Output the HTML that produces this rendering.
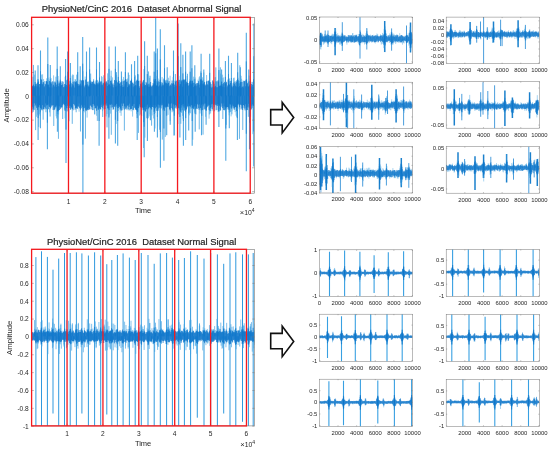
<!DOCTYPE html>
<html><head><meta charset="utf-8"><style>
html,body{margin:0;padding:0;background:#fff;}
svg{display:block;font-family:"Liberation Sans",Arial,sans-serif;}
</style></head><body>
<svg width="550" height="453" viewBox="0 0 550 453">
<rect width="550" height="453" fill="#fff"/>
<clipPath id="bigA"><rect x="31.60" y="17.30" width="222.70" height="175.90"/></clipPath><g clip-path="url(#bigA)">
<path d="M33.21 95.60V111.94M35.64 95.60V130.12M38.69 95.60V126.94M43.13 95.60V119.70M45.93 95.60V112.27M50.12 95.60V116.54M53.76 95.60V125.98M58.45 95.60V138.82M62.68 95.60V119.03M65.17 95.60V109.51M68.98 95.60V121.24M72.25 95.60V123.84M76.17 95.60V112.25M80.47 95.60V131.53M85.45 95.60V138.68M87.95 95.60V109.58M92.56 95.60V110.08M94.76 95.60V114.41M97.34 95.60V120.86M100.75 95.60V109.81M102.71 95.60V117.01M107.04 95.60V127.38M111.30 95.60V134.82M115.98 95.60V123.94M118.27 95.60V110.94M121.04 95.60V110.96M124.36 95.60V130.59M129.06 95.60V110.54M132.41 95.60V109.98M135.96 95.60V109.75M138.44 95.60V132.90M141.70 95.60V116.05M144.84 95.60V137.65M148.19 95.60V118.23M151.59 95.60V125.70M154.92 95.60V128.45M157.59 95.60V126.53M159.67 95.60V129.76M162.30 95.60V139.67M165.26 95.60V136.88M170.16 95.60V121.20M173.98 95.60V135.66M177.85 95.60V124.05M180.81 95.60V123.79M185.56 95.60V118.11M189.08 95.60V115.34M192.72 95.60V139.71M195.38 95.60V111.41M199.24 95.60V129.40M203.05 95.60V134.66M206.40 95.60V110.47M209.38 95.60V114.43M214.45 95.60V111.33M218.24 95.60V112.04M222.83 95.60V119.00M226.23 95.60V124.84M230.64 95.60V111.94M231.90 95.60V114.35M236.89 95.60V117.39M239.45 95.60V138.89M242.78 95.60V129.98M248.31 95.60V116.84M250.46 95.60V110.70M252.98 95.60V134.18M33.44 64.95V95.60M38.17 79.75V95.60M46.89 78.31V95.60M55.94 76.71V95.60M65.21 76.76V95.60M68.59 80.13V95.60M75.23 79.06V95.60M82.84 71.19V95.60M90.65 73.59V95.60M97.91 80.79V95.60M104.71 81.45V95.60M111.13 70.63V95.60M116.50 72.14V95.60M123.73 81.12V95.60M127.71 78.56V95.60M134.91 75.18V95.60M144.03 69.04V95.60M148.57 71.42V95.60M156.46 81.28V95.60M166.01 80.79V95.60M175.38 74.00V95.60M183.73 78.92V95.60M187.51 73.77V95.60M192.31 81.16V95.60M200.86 71.27V95.60M203.76 72.46V95.60M209.18 80.17V95.60M215.84 67.37V95.60M220.37 67.33V95.60M229.31 78.45V95.60M233.73 78.09V95.60M239.77 65.28V95.60M250.35 79.49V95.60M254.33 81.34V95.60" stroke="#5aaee3" stroke-width="0.9" fill="none"/>
<path d="M33.10 76.70V96.29M35.20 70.40V96.29M38.00 65.20V96.29M40.50 50.60V96.29M47.80 37.60V96.29M50.30 65.00V96.29M57.20 46.40V96.29M60.30 66.30V96.29M65.60 58.90V96.29M67.70 51.60V96.29M70.40 63.00V96.29M77.70 52.20V96.29M80.20 66.30V96.29M82.70 37.00V96.29M86.50 51.60V96.29M89.60 47.40V96.29M96.50 47.40V96.29M99.50 62.00V96.29M109.00 46.40V96.29M115.40 46.40V96.29M118.30 61.00V96.29M121.40 71.50V96.29M125.40 52.20V96.29M128.30 72.50V96.29M131.50 64.20V96.29M134.60 61.00V96.29M137.70 55.80V96.29M144.60 41.20V96.29M147.30 55.80V96.29M150.00 75.70V96.29M154.20 51.60V96.29M155.70 18.10V96.29M157.40 48.50V96.29M160.30 29.20V96.29M164.50 45.30V96.29M167.20 67.30V96.29M173.50 50.60V96.29M178.10 23.40V96.29M180.80 43.20V96.29M182.90 54.70V96.29M185.60 51.60V96.29M190.20 51.60V96.29M191.90 45.30V96.29M194.80 65.20V96.29M201.10 53.70V96.29M203.80 69.40V96.29M209.70 53.70V96.29M218.90 48.50V96.29M221.60 69.40V96.29M225.40 61.00V96.29M228.50 55.80V96.29M231.40 63.10V96.29M237.70 52.70V96.29M240.40 67.30V96.29M246.30 32.80V96.29M248.80 69.40V96.29M253.90 23.40V96.29M38.10 96.29V139.90M40.40 96.29V128.30M47.40 96.29V149.20M57.40 96.29V131.80M66.00 96.29V163.00M82.90 96.29V193.00M99.10 96.29V145.70M108.90 96.29V138.70M115.40 96.29V143.40M117.70 96.29V145.70M137.20 96.29V139.90M143.70 96.29V148.00M144.20 96.29V157.30M147.40 96.29V141.00M150.40 96.29V120.20M154.40 96.29V131.80M157.40 96.29V137.60M160.40 96.29V167.70M163.90 96.29V160.80M166.70 96.29V135.20M170.20 96.29V124.80M174.30 96.29V135.20M179.90 96.29V137.60M183.40 96.29V145.70M185.70 96.29V139.90M188.70 96.29V130.60M192.20 96.29V145.70M195.20 96.29V131.80M201.50 96.29V135.20M206.10 96.29V124.80M218.90 96.29V127.10M225.80 96.29V160.80M229.30 96.29V128.30M237.40 96.29V139.90M246.30 96.29V171.20M249.50 96.29V149.20M253.70 96.29V166.60" stroke="#4fa8e2" stroke-width="1.1" fill="none"/>
<path d="M33.10 85.51V96.29M35.20 82.05V96.29M38.00 79.19V96.29M40.50 71.16V96.29M47.80 64.01V96.29M50.30 79.08V96.29M57.20 68.85V96.29M60.30 79.79V96.29M65.60 75.72V96.29M67.70 71.71V96.29M70.40 77.98V96.29M77.70 72.04V96.29M80.20 79.79V96.29M82.70 63.68V96.29M86.50 71.71V96.29M89.60 69.40V96.29M96.50 69.40V96.29M99.50 77.43V96.29M109.00 68.85V96.29M115.40 68.85V96.29M118.30 76.88V96.29M121.40 82.65V96.29M125.40 72.04V96.29M128.30 83.20V96.29M131.50 78.64V96.29M134.60 76.88V96.29M137.70 74.02V96.29M144.60 65.99V96.29M147.30 74.02V96.29M150.00 84.96V96.29M154.20 71.71V96.29M155.70 53.28V96.29M157.40 70.00V96.29M160.30 59.39V96.29M164.50 68.24V96.29M167.20 80.34V96.29M173.50 71.16V96.29M178.10 56.20V96.29M180.80 67.09V96.29M182.90 73.41V96.29M185.60 71.71V96.29M190.20 71.71V96.29M191.90 68.24V96.29M194.80 79.19V96.29M201.10 72.86V96.29M203.80 81.50V96.29M209.70 72.86V96.29M218.90 70.00V96.29M221.60 81.50V96.29M225.40 76.88V96.29M228.50 74.02V96.29M231.40 78.03V96.29M237.70 72.31V96.29M240.40 80.34V96.29M246.30 61.37V96.29M248.80 81.50V96.29M253.90 56.20V96.29M38.10 96.29V118.09M40.40 96.29V112.29M47.40 96.29V122.74M57.40 96.29V114.04M66.00 96.29V129.64M82.90 96.29V144.64M99.10 96.29V120.99M108.90 96.29V117.49M115.40 96.29V119.84M117.70 96.29V120.99M137.20 96.29V118.09M143.70 96.29V122.14M144.20 96.29V126.79M147.40 96.29V118.64M150.40 96.29V108.24M154.40 96.29V114.04M157.40 96.29V116.94M160.40 96.29V131.99M163.90 96.29V128.54M166.70 96.29V115.74M170.20 96.29V110.54M174.30 96.29V115.74M179.90 96.29V116.94M183.40 96.29V120.99M185.70 96.29V118.09M188.70 96.29V113.44M192.20 96.29V120.99M195.20 96.29V114.04M201.50 96.29V115.74M206.10 96.29V110.54M218.90 96.29V111.69M225.80 96.29V128.54M229.30 96.29V112.29M237.40 96.29V118.09M246.30 96.29V133.74M249.50 96.29V122.74M253.70 96.29V131.44" stroke="#2a8fd8" stroke-width="1.0" fill="none"/>
<path d="M32.60 95.60V112.63M33.60 95.60V110.58M34.60 95.60V74.58M35.10 95.60V81.99M35.60 95.60V82.01M36.60 95.60V116.78M37.60 95.60V114.70M39.60 95.60V114.36M40.10 95.60V115.85M40.60 95.60V109.41M41.10 95.60V109.64M41.60 95.60V74.53M42.60 95.60V74.34M43.60 95.60V79.08M44.60 95.60V80.99M45.60 95.60V108.59M47.10 95.60V108.90M48.10 95.60V77.78M48.60 95.60V80.24M49.10 95.60V81.64M49.60 95.60V112.34M50.10 95.60V77.34M50.60 95.60V108.85M51.10 95.60V78.15M53.60 95.60V75.37M55.10 95.60V81.07M55.60 95.60V108.53M56.10 95.60V116.27M56.60 95.60V118.48M57.60 95.60V117.24M58.10 95.60V76.06M58.60 95.60V114.50M59.10 95.60V109.41M60.10 95.60V82.88M61.60 95.60V82.73M64.60 95.60V109.79M65.10 95.60V118.36M65.60 95.60V109.72M66.60 95.60V80.48M68.60 95.60V80.44M70.10 95.60V81.23M70.60 95.60V109.65M71.10 95.60V82.92M71.60 95.60V108.10M72.10 95.60V75.58M72.60 95.60V74.44M73.60 95.60V74.84M75.60 95.60V80.33M76.10 95.60V108.37M76.60 95.60V74.65M77.10 95.60V108.99M77.60 95.60V79.34M79.10 95.60V111.65M80.10 95.60V81.97M81.10 95.60V108.39M84.10 95.60V112.35M85.10 95.60V76.55M87.10 95.60V117.59M87.60 95.60V81.62M88.60 95.60V81.80M89.10 95.60V80.98M90.10 95.60V77.81M92.10 95.60V81.56M93.60 95.60V78.96M94.10 95.60V82.95M94.60 95.60V114.24M95.10 95.60V81.62M96.60 95.60V115.74M97.60 95.60V79.91M99.60 95.60V112.39M101.60 95.60V75.96M102.10 95.60V77.04M102.60 95.60V111.16M103.60 95.60V75.28M104.10 95.60V109.92M105.10 95.60V78.57M106.10 95.60V116.40M107.10 95.60V113.98M107.60 95.60V73.35M108.60 95.60V109.61M109.10 95.60V115.40M109.60 95.60V78.44M110.60 95.60V113.63M111.10 95.60V75.89M111.60 95.60V79.75M112.60 95.60V77.39M116.10 95.60V111.92M116.60 95.60V74.91M117.10 95.60V108.18M118.60 95.60V108.05M119.60 95.60V81.02M120.10 95.60V112.75M121.10 95.60V115.81M121.60 95.60V76.21M122.10 95.60V79.39M123.10 95.60V108.16M123.60 95.60V76.96M124.60 95.60V109.97M125.60 95.60V76.21M127.10 95.60V110.20M128.60 95.60V109.58M129.10 95.60V74.91M131.10 95.60V111.32M132.60 95.60V116.61M133.60 95.60V110.28M134.10 95.60V81.69M134.60 95.60V82.75M135.10 95.60V75.59M136.60 95.60V113.83M137.60 95.60V110.23M138.10 95.60V111.62M138.60 95.60V74.41M139.60 95.60V115.53M140.60 95.60V114.56M141.10 95.60V109.41M142.60 95.60V110.20M143.60 95.60V111.66M144.10 95.60V79.85M144.60 95.60V81.41M145.60 95.60V112.16M146.60 95.60V118.13M147.60 95.60V112.46M149.10 95.60V116.41M149.60 95.60V77.89M150.10 95.60V114.25M150.60 95.60V110.10M151.60 95.60V110.07M152.10 95.60V115.42M153.60 95.60V118.51M154.10 95.60V77.43M154.60 95.60V110.52M155.10 95.60V113.03M156.10 95.60V75.89M156.60 95.60V110.70M157.60 95.60V114.94M158.10 95.60V78.52M158.60 95.60V108.76M160.10 95.60V81.55M160.60 95.60V114.72M161.10 95.60V82.00M162.10 95.60V77.05M162.60 95.60V82.82M163.60 95.60V78.49M166.60 95.60V79.61M167.10 95.60V81.80M167.60 95.60V82.64M168.10 95.60V114.87M168.60 95.60V77.76M170.10 95.60V75.75M172.10 95.60V112.27M173.10 95.60V76.98M174.10 95.60V109.46M176.10 95.60V108.49M177.60 95.60V79.50M178.60 95.60V114.42M179.10 95.60V110.55M180.10 95.60V75.95M181.10 95.60V112.59M181.60 95.60V112.64M182.10 95.60V79.76M182.60 95.60V115.80M183.10 95.60V118.77M183.60 95.60V113.75M184.10 95.60V108.52M185.60 95.60V113.89M187.10 95.60V76.05M189.10 95.60V112.92M189.60 95.60V111.87M190.10 95.60V79.02M190.60 95.60V113.29M191.60 95.60V79.57M192.10 95.60V80.29M192.60 95.60V111.60M193.10 95.60V109.33M193.60 95.60V76.68M194.10 95.60V79.31M194.60 95.60V112.74M195.10 95.60V77.45M196.10 95.60V114.45M196.60 95.60V108.05M198.10 95.60V79.62M199.10 95.60V77.37M199.60 95.60V76.25M200.10 95.60V113.50M201.10 95.60V79.97M202.10 95.60V115.75M202.60 95.60V77.28M203.60 95.60V79.48M205.10 95.60V108.43M205.60 95.60V116.75M206.60 95.60V75.02M209.10 95.60V118.65M210.10 95.60V111.30M210.60 95.60V113.56M211.60 95.60V108.89M212.10 95.60V111.17M215.10 95.60V77.26M215.60 95.60V77.12M217.10 95.60V110.06M218.60 95.60V71.93M219.60 95.60V109.01M220.60 95.60V73.61M221.10 95.60V76.80M221.60 95.60V82.07M222.10 95.60V78.09M222.60 95.60V74.66M223.10 95.60V108.22M223.60 95.60V77.47M225.10 95.60V110.88M225.60 95.60V110.82M226.60 95.60V109.55M229.10 95.60V115.28M229.60 95.60V112.86M230.10 95.60V108.60M231.10 95.60V116.38M231.60 95.60V78.95M232.10 95.60V110.73M233.60 95.60V108.45M234.10 95.60V77.51M234.60 95.60V109.94M235.10 95.60V112.12M235.60 95.60V82.94M236.10 95.60V115.66M236.60 95.60V80.06M237.10 95.60V109.41M237.60 95.60V109.48M238.10 95.60V77.76M238.60 95.60V81.24M239.10 95.60V109.26M239.60 95.60V81.11M240.60 95.60V75.02M241.10 95.60V75.96M241.60 95.60V78.79M242.10 95.60V108.74M243.10 95.60V80.42M243.60 95.60V81.05M244.60 95.60V109.24M246.60 95.60V78.53M247.10 95.60V81.59M249.10 95.60V75.67M250.60 95.60V116.68M253.60 95.60V73.74" stroke="#3ea2e0" stroke-width="0.6" fill="none"/>
<path d="M32.10 86.79V109.29M32.60 85.90V106.77M33.10 87.09V103.42M33.60 84.59V108.68M34.10 86.10V109.99M34.60 87.55V103.40M35.10 86.19V106.24M35.60 84.13V104.89M36.10 85.65V103.37M36.60 83.68V107.82M37.10 86.89V105.60M37.60 82.55V109.93M38.10 85.55V107.43M38.60 81.47V106.91M39.10 87.24V105.29M39.60 84.01V105.04M40.10 84.01V107.40M40.60 83.66V107.99M41.10 79.28V108.46M41.60 79.74V109.45M42.10 83.72V110.39M42.60 84.40V105.15M43.10 82.01V109.10M43.60 82.33V109.02M44.10 87.37V109.45M44.60 86.31V106.83M45.10 83.82V107.69M45.60 84.41V103.42M46.10 81.19V109.18M46.60 81.11V105.50M47.10 81.83V104.45M47.60 84.90V104.91M48.10 84.19V104.54M48.60 85.06V109.23M49.10 87.27V106.42M49.60 80.98V107.01M50.10 87.63V103.34M50.60 82.59V108.08M51.10 81.91V106.92M51.60 83.54V105.52M52.10 87.35V105.36M52.60 81.34V105.41M53.10 85.50V109.95M53.60 84.72V105.02M54.10 81.75V110.11M54.60 86.52V109.44M55.10 82.60V106.86M55.60 82.51V106.58M56.10 85.06V107.40M56.60 86.98V105.42M57.10 84.11V105.79M57.60 80.27V111.27M58.10 83.46V111.25M58.60 86.20V110.26M59.10 81.51V105.92M59.60 83.33V110.06M60.10 86.78V107.17M60.60 81.41V108.87M61.10 85.27V107.63M61.60 85.00V107.31M62.10 81.22V107.26M62.60 84.41V105.20M63.10 81.69V103.30M63.60 87.11V104.04M64.10 87.24V105.21M64.60 84.03V104.55M65.10 86.25V111.02M65.60 84.42V106.16M66.10 86.76V103.98M66.60 85.01V108.21M67.10 79.84V111.39M67.60 85.98V105.80M68.10 79.12V108.21M68.60 82.07V105.70M69.10 86.88V105.58M69.60 84.42V107.96M70.10 80.86V106.01M70.60 81.55V109.62M71.10 83.52V107.49M71.60 87.25V107.17M72.10 85.64V108.89M72.60 84.09V108.91M73.10 82.07V110.28M73.60 85.43V103.98M74.10 81.20V104.23M74.60 87.55V105.48M75.10 81.86V109.72M75.60 82.29V108.16M76.10 82.20V108.30M76.60 81.09V107.78M77.10 83.97V106.49M77.60 83.47V108.64M78.10 86.02V105.98M78.60 84.14V106.78M79.10 85.72V103.55M79.60 84.49V108.21M80.10 86.03V106.76M80.60 83.66V109.72M81.10 85.52V108.14M81.60 80.55V104.83M82.10 80.08V106.28M82.60 79.93V107.05M83.10 81.09V108.62M83.60 80.23V111.05M84.10 86.15V105.35M84.60 87.35V108.18M85.10 84.85V107.32M85.60 79.57V109.89M86.10 84.87V111.12M86.60 85.75V110.28M87.10 81.86V109.30M87.60 84.39V109.69M88.10 86.59V110.15M88.60 86.38V108.24M89.10 85.08V109.76M89.60 86.67V109.17M90.10 80.37V105.52M90.60 82.74V105.58M91.10 81.55V109.41M91.60 83.77V106.73M92.10 82.12V107.31M92.60 81.84V104.06M93.10 83.77V110.13M93.60 80.61V104.20M94.10 84.08V105.77M94.60 84.40V105.46M95.10 83.74V108.30M95.60 85.09V108.29M96.10 80.34V107.96M96.60 83.10V110.75M97.10 84.69V105.18M97.60 83.24V106.34M98.10 84.54V109.72M98.60 82.38V109.65M99.10 84.15V108.56M99.60 83.01V107.73M100.10 80.88V108.82M100.60 82.13V109.06M101.10 85.21V105.11M101.60 81.35V107.12M102.10 84.34V103.54M102.60 85.17V107.92M103.10 82.70V106.10M103.60 83.33V104.71M104.10 87.23V109.17M104.60 82.36V104.42M105.10 82.53V109.06M105.60 83.65V104.45M106.10 81.40V105.58M106.60 81.57V103.43M107.10 83.12V105.54M107.60 86.05V108.14M108.10 80.10V109.28M108.60 84.92V108.08M109.10 83.93V110.08M109.60 84.69V104.68M110.10 85.91V104.05M110.60 80.89V104.99M111.10 80.68V107.61M111.60 82.68V103.90M112.10 86.54V104.88M112.60 84.38V107.37M113.10 83.41V109.74M113.60 87.34V109.09M114.10 85.00V106.40M114.60 79.97V106.84M115.10 80.83V105.20M115.60 86.81V105.19M116.10 86.72V106.74M116.60 80.42V103.85M117.10 85.59V104.21M117.60 82.30V108.14M118.10 82.90V106.01M118.60 80.64V107.82M119.10 83.43V105.72M119.60 83.66V106.96M120.10 86.31V109.52M120.60 82.31V108.38M121.10 85.93V110.21M121.60 81.51V103.59M122.10 85.05V110.27M122.60 86.84V106.05M123.10 81.29V103.39M123.60 87.05V103.56M124.10 86.45V109.47M124.60 80.46V106.10M125.10 84.30V106.67M125.60 79.14V108.68M126.10 79.33V109.37M126.60 82.00V107.61M127.10 81.41V105.48M127.60 87.06V105.69M128.10 87.46V109.06M128.60 85.47V105.35M129.10 84.09V106.99M129.60 85.37V103.71M130.10 84.25V109.76M130.60 80.64V109.06M131.10 80.99V108.96M131.60 80.48V108.84M132.10 82.28V105.81M132.60 83.04V106.10M133.10 86.55V104.28M133.60 83.64V109.72M134.10 87.41V103.93M134.60 85.85V107.75M135.10 81.52V107.83M135.60 85.07V109.29M136.10 85.45V109.94M136.60 80.64V110.37M137.10 79.59V110.06M137.60 80.21V112.05M138.10 80.82V107.99M138.60 81.02V108.19M139.10 86.05V105.71M139.60 87.69V104.13M140.10 80.63V107.11M140.60 83.72V106.98M141.10 84.77V107.73M141.60 83.47V107.16M142.10 86.58V107.78M142.60 82.36V107.27M143.10 80.76V108.39M143.60 80.09V110.10M144.10 84.09V109.76M144.60 85.88V106.98M145.10 84.99V110.60M145.60 85.07V111.25M146.10 82.07V106.84M146.60 83.32V109.34M147.10 86.19V105.07M147.60 85.12V104.20M148.10 84.07V109.32M148.60 86.77V108.11M149.10 83.59V107.18M149.60 87.02V107.18M150.10 85.83V105.21M150.60 81.99V108.07M151.10 85.61V106.86M151.60 86.93V109.34M152.10 86.30V106.95M152.60 85.42V107.01M153.10 83.13V105.25M153.60 84.43V107.63M154.10 79.30V111.82M154.60 80.90V110.57M155.10 83.84V104.87M155.60 79.02V108.34M156.10 85.83V107.20M156.60 85.53V106.59M157.10 85.51V110.94M157.60 82.57V104.50M158.10 80.73V110.70M158.60 86.42V104.63M159.10 81.98V107.81M159.60 85.37V105.35M160.10 79.72V107.39M160.60 81.99V104.66M161.10 84.53V108.38M161.60 86.38V105.41M162.10 82.61V103.60M162.60 85.39V105.20M163.10 84.45V110.42M163.60 85.36V108.91M164.10 79.38V106.72M164.60 81.63V110.82M165.10 80.18V107.00M165.60 82.54V107.61M166.10 83.55V106.29M166.60 83.12V107.15M167.10 86.20V106.33M167.60 83.88V106.61M168.10 82.96V107.12M168.60 82.74V103.43M169.10 81.06V104.23M169.60 86.19V109.25M170.10 85.31V109.59M170.60 84.54V104.06M171.10 85.79V108.00M171.60 83.26V103.32M172.10 80.49V108.26M172.60 83.66V109.67M173.10 83.62V111.28M173.60 83.03V104.38M174.10 87.12V104.18M174.60 84.59V105.67M175.10 80.74V108.21M175.60 81.75V104.97M176.10 86.01V107.25M176.60 80.60V105.76M177.10 84.61V108.67M177.60 80.88V104.34M178.10 80.11V107.67M178.60 81.98V107.96M179.10 85.97V108.56M179.60 79.88V103.74M180.10 84.13V110.25M180.60 84.20V111.74M181.10 80.62V107.64M181.60 81.51V105.25M182.10 79.90V110.22M182.60 86.77V104.58M183.10 80.43V106.33M183.60 79.66V103.96M184.10 80.37V107.62M184.60 79.65V110.57M185.10 84.33V105.77M185.60 79.13V111.84M186.10 83.65V110.11M186.60 81.66V108.99M187.10 82.59V107.41M187.60 83.04V105.99M188.10 83.06V106.65M188.60 85.79V103.49M189.10 84.94V105.73M189.60 81.48V106.33M190.10 83.46V105.42M190.60 80.44V106.78M191.10 81.06V108.54M191.60 84.26V105.12M192.10 83.12V105.22M192.60 80.81V107.96M193.10 82.95V107.74M193.60 87.06V109.09M194.10 82.76V107.45M194.60 86.00V105.95M195.10 85.15V109.23M195.60 83.84V103.85M196.10 86.24V106.54M196.60 83.25V108.63M197.10 85.46V109.04M197.60 83.15V103.96M198.10 83.12V104.98M198.60 81.11V108.29M199.10 84.96V109.83M199.60 87.52V104.34M200.10 83.55V108.34M200.60 79.68V107.83M201.10 78.86V110.30M201.60 80.41V104.91M202.10 83.77V104.01M202.60 80.54V110.15M203.10 84.67V106.38M203.60 83.40V104.58M204.10 85.13V109.51M204.60 82.06V103.68M205.10 84.41V109.19M205.60 85.68V103.52M206.10 84.86V110.33M206.60 81.58V107.85M207.10 80.90V107.17M207.60 84.27V106.28M208.10 85.20V104.50M208.60 80.76V105.73M209.10 80.84V109.88M209.60 82.17V104.99M210.10 86.91V111.04M210.60 82.26V108.17M211.10 84.10V107.20M211.60 87.71V104.42M212.10 86.69V103.99M212.60 80.45V109.32M213.10 87.50V103.67M213.60 81.75V105.12M214.10 83.73V107.33M214.60 87.23V104.44M215.10 85.81V103.81M215.60 86.23V105.20M216.10 81.35V110.21M216.60 87.23V105.48M217.10 81.29V104.27M217.60 87.23V105.89M218.10 80.22V104.08M218.60 81.60V110.89M219.10 86.00V105.07M219.60 86.20V105.87M220.10 84.82V110.82M220.60 85.99V110.16M221.10 85.92V107.17M221.60 81.77V103.47M222.10 84.17V105.88M222.60 86.44V108.12M223.10 84.29V103.38M223.60 82.89V110.04M224.10 87.23V106.23M224.60 81.86V110.04M225.10 83.63V107.16M225.60 83.54V109.36M226.10 82.81V106.98M226.60 81.77V107.64M227.10 87.15V106.89M227.60 85.44V107.11M228.10 79.56V109.42M228.60 83.74V107.58M229.10 84.28V109.95M229.60 84.98V103.74M230.10 81.03V104.93M230.60 83.03V104.14M231.10 80.72V107.57M231.60 86.43V108.71M232.10 85.62V106.23M232.60 87.23V104.64M233.10 83.31V107.64M233.60 85.99V106.05M234.10 82.31V109.52M234.60 84.12V108.06M235.10 81.34V106.89M235.60 85.63V107.14M236.10 86.94V107.01M236.60 81.54V111.10M237.10 86.31V107.86M237.60 78.87V104.63M238.10 80.15V104.47M238.60 87.12V103.79M239.10 83.30V105.36M239.60 85.97V107.27M240.10 87.66V104.54M240.60 82.18V104.78M241.10 81.93V109.51M241.60 87.46V105.27M242.10 81.94V107.98M242.60 86.93V110.04M243.10 86.16V105.27M243.60 87.54V105.02M244.10 81.35V107.94M244.60 81.16V106.17M245.10 80.64V110.42M245.60 86.27V104.37M246.10 79.71V108.27M246.60 79.43V109.95M247.10 84.09V107.39M247.60 83.10V110.05M248.10 86.57V106.63M248.60 86.78V103.79M249.10 86.05V107.84M249.60 84.63V107.16M250.10 81.04V109.27M250.60 87.27V104.55M251.10 86.37V105.77M251.60 84.04V109.45M252.10 81.86V107.86M252.60 84.83V104.44M253.10 86.96V105.85M253.60 79.16V105.65" stroke="#0c74ca" stroke-width="0.75" fill="none"/>
</g>
<rect x="31.60" y="17.30" width="222.70" height="175.90" fill="none" stroke="#767676" stroke-width="0.6"/>
<path d="M31.60 24.80h2.2M254.30 24.80h-2.2" stroke="#767676" stroke-width="0.5"/>
<text x="28.80" y="27.18" font-size="6.6" text-anchor="end" fill="#262626" >0.06</text>
<path d="M31.60 48.63h2.2M254.30 48.63h-2.2" stroke="#767676" stroke-width="0.5"/>
<text x="28.80" y="51.00" font-size="6.6" text-anchor="end" fill="#262626" >0.04</text>
<path d="M31.60 72.46h2.2M254.30 72.46h-2.2" stroke="#767676" stroke-width="0.5"/>
<text x="28.80" y="74.83" font-size="6.6" text-anchor="end" fill="#262626" >0.02</text>
<path d="M31.60 96.29h2.2M254.30 96.29h-2.2" stroke="#767676" stroke-width="0.5"/>
<text x="28.80" y="98.66" font-size="6.6" text-anchor="end" fill="#262626" >0</text>
<path d="M31.60 120.11h2.2M254.30 120.11h-2.2" stroke="#767676" stroke-width="0.5"/>
<text x="28.80" y="122.49" font-size="6.6" text-anchor="end" fill="#262626" >-0.02</text>
<path d="M31.60 143.94h2.2M254.30 143.94h-2.2" stroke="#767676" stroke-width="0.5"/>
<text x="28.80" y="146.32" font-size="6.6" text-anchor="end" fill="#262626" >-0.04</text>
<path d="M31.60 167.77h2.2M254.30 167.77h-2.2" stroke="#767676" stroke-width="0.5"/>
<text x="28.80" y="170.15" font-size="6.6" text-anchor="end" fill="#262626" >-0.06</text>
<path d="M31.60 191.60h2.2M254.30 191.60h-2.2" stroke="#767676" stroke-width="0.5"/>
<text x="28.80" y="193.98" font-size="6.6" text-anchor="end" fill="#262626" >-0.08</text>
<path d="M68.49 193.20v-2.2M68.49 17.30v2.2" stroke="#767676" stroke-width="0.5"/>
<text x="68.49" y="203.68" font-size="6.6" text-anchor="middle" fill="#262626" >1</text>
<path d="M104.84 193.20v-2.2M104.84 17.30v2.2" stroke="#767676" stroke-width="0.5"/>
<text x="104.84" y="203.68" font-size="6.6" text-anchor="middle" fill="#262626" >2</text>
<path d="M141.19 193.20v-2.2M141.19 17.30v2.2" stroke="#767676" stroke-width="0.5"/>
<text x="141.19" y="203.68" font-size="6.6" text-anchor="middle" fill="#262626" >3</text>
<path d="M177.54 193.20v-2.2M177.54 17.30v2.2" stroke="#767676" stroke-width="0.5"/>
<text x="177.54" y="203.68" font-size="6.6" text-anchor="middle" fill="#262626" >4</text>
<path d="M213.89 193.20v-2.2M213.89 17.30v2.2" stroke="#767676" stroke-width="0.5"/>
<text x="213.89" y="203.68" font-size="6.6" text-anchor="middle" fill="#262626" >5</text>
<path d="M250.24 193.20v-2.2M250.24 17.30v2.2" stroke="#767676" stroke-width="0.5"/>
<text x="250.24" y="203.68" font-size="6.6" text-anchor="middle" fill="#262626" >6</text>
<rect x="31.60" y="17.30" width="218.64" height="175.90" fill="none" stroke="#f5191e" stroke-width="1.3"/>
<path d="M68.49 17.30V193.20M104.84 17.30V193.20M141.19 17.30V193.20M177.54 17.30V193.20M213.89 17.30V193.20" stroke="#f5191e" stroke-width="1.3"/>
<text x="141.55" y="12.20" font-size="9.5" text-anchor="middle" fill="#262626" textLength="199.8" lengthAdjust="spacingAndGlyphs" stroke="#262626" stroke-width="0.22">PhysioNet/CinC 2016&#160; Dataset Abnormal Signal</text>
<text x="143.10" y="213.40" font-size="7.5" text-anchor="middle" fill="#262626" >Time</text>
<text x="0" y="0" font-size="7.7" text-anchor="middle" fill="#262626" transform="translate(8.8 105.4) rotate(-90)">Amplitude</text>
<text x="254.6" y="214.6" font-size="6.8" text-anchor="end" fill="#262626"><tspan font-size="7.6">×</tspan>10<tspan font-size="5" dy="-2.7">4</tspan></text>
<path d="M35.90 257.10V425.90M41.50 251.30V425.90M47.40 256.90V425.90M53.00 269.70V413.50M58.70 258.60V425.90M64.50 253.00V425.90M70.20 253.00V425.90M76.40 252.30V425.90M81.90 253.40V413.50M88.40 255.50V425.90M94.60 252.30V425.90M100.70 255.50V425.90M106.80 264.20V414.50M111.80 260.00V425.90M117.40 255.00V425.90M123.10 253.40V425.90M129.40 257.60V425.90M135.20 260.00V425.90M141.30 253.00V425.90M148.00 255.00V425.90M154.20 263.80V425.90M160.30 253.40V425.90M166.60 253.00V425.90M172.40 257.60V425.90M178.70 260.00V425.90M184.40 258.00V425.90M190.60 251.30V425.90M197.30 255.00V417.70M204.00 258.60V425.90M210.70 253.00V425.90M217.40 254.40V425.90M223.70 263.80V413.50M230.00 253.40V425.90M235.80 252.30V425.90M242.50 254.40V421.80M248.40 254.40V425.90M253.20 253.00V425.90" stroke="#2494dc" stroke-width="0.95" fill="none"/>
<clipPath id="bigB"><rect x="31.60" y="249.30" width="222.90" height="176.60"/></clipPath><g clip-path="url(#bigB)">
<path d="M34.29 331.71V336.30M34.49 320.07V336.30M36.03 336.30V343.64M34.67 328.89V336.30M34.98 332.30V336.30M37.35 327.18V336.30M37.98 336.30V343.82M37.36 336.30V341.09M37.16 336.30V349.16M37.84 336.30V348.25M40.94 321.80V336.30M41.89 336.30V346.39M40.83 336.30V344.53M41.55 336.30V348.86M42.10 320.27V336.30M44.57 329.51V336.30M44.81 336.30V341.39M45.26 326.50V336.30M43.64 329.35V336.30M43.98 327.45V336.30M46.28 336.30V340.90M45.65 328.70V336.30M47.52 336.30V349.49M47.90 336.30V354.15M47.87 330.19V336.30M49.10 322.40V336.30M50.70 332.13V336.30M49.14 330.60V336.30M49.36 328.92V336.30M48.90 332.03V336.30M51.52 327.58V336.30M53.13 336.30V340.77M52.66 318.57V336.30M52.90 322.65V336.30M52.45 336.30V348.12M56.67 336.30V343.53M56.10 329.53V336.30M54.42 323.84V336.30M55.65 327.84V336.30M56.04 336.30V349.22M58.30 336.30V341.25M58.76 336.30V347.97M58.29 331.92V336.30M59.31 336.30V343.87M59.56 336.30V353.95M60.75 324.93V336.30M61.36 336.30V348.66M60.28 336.30V344.36M60.93 323.66V336.30M60.66 328.17V336.30M63.86 336.30V344.53M62.99 330.60V336.30M66.28 320.25V336.30M64.73 331.73V336.30M63.93 336.30V346.55M67.97 336.30V344.73M67.06 336.30V346.95M66.42 336.30V348.18M67.06 329.30V336.30M67.10 336.30V340.98M71.63 336.30V350.61M70.18 323.56V336.30M68.59 320.76V336.30M70.81 327.76V336.30M71.17 336.30V343.78M73.70 336.30V341.38M71.57 336.30V343.48M73.72 336.30V341.34M72.43 323.31V336.30M72.14 324.58V336.30M78.00 332.00V336.30M74.99 336.30V347.10M75.77 324.35V336.30M76.18 325.53V336.30M77.09 336.30V346.00M78.37 322.88V336.30M77.66 336.30V346.13M78.94 336.30V340.47M78.00 336.30V348.65M78.22 324.03V336.30M83.34 336.30V352.29M81.14 336.30V347.20M81.25 336.30V344.37M80.33 329.95V336.30M81.60 336.30V344.90M84.49 331.34V336.30M84.57 336.30V347.35M85.45 336.30V342.42M84.41 330.37V336.30M84.34 327.76V336.30M87.30 319.37V336.30M89.98 336.30V344.64M87.00 336.30V347.04M88.17 328.64V336.30M87.30 330.44V336.30M89.71 323.45V336.30M92.20 336.30V340.33M91.13 336.30V340.46M91.65 323.84V336.30M90.42 331.18V336.30M95.22 321.45V336.30M92.89 328.57V336.30M93.61 336.30V342.28M94.36 325.70V336.30M96.34 326.66V336.30M96.19 336.30V346.96M96.15 336.30V343.95M97.35 336.30V340.35M96.61 336.30V341.64M96.10 336.30V348.15M101.03 329.05V336.30M101.31 319.04V336.30M99.35 336.30V345.62M98.92 322.01V336.30M99.02 331.15V336.30M104.52 326.46V336.30M102.32 328.64V336.30M103.77 336.30V342.94M104.20 324.61V336.30M103.11 326.34V336.30M105.03 329.02V336.30M107.83 321.58V336.30M105.23 319.65V336.30M105.45 336.30V350.65M107.18 336.30V350.22M110.39 330.54V336.30M110.76 336.30V343.02M110.37 336.30V348.73M108.98 326.12V336.30M108.98 336.30V347.29M110.29 336.30V349.43M111.60 336.30V341.04M112.68 336.30V342.01M110.25 330.51V336.30M112.80 336.30V343.02M115.75 331.35V336.30M115.04 336.30V347.35M114.88 325.06V336.30M113.28 336.30V350.30M113.76 323.67V336.30M115.80 329.93V336.30M117.08 336.30V347.84M117.59 336.30V341.18M119.11 336.30V343.61M117.90 336.30V350.13M119.83 330.78V336.30M118.92 336.30V340.81M120.94 336.30V348.00M119.60 336.30V346.29M118.97 332.30V336.30M124.60 321.69V336.30M124.35 330.85V336.30M121.91 336.30V352.23M121.53 336.30V340.41M122.72 336.30V347.02M125.82 331.16V336.30M125.97 325.01V336.30M124.36 331.49V336.30M126.99 328.99V336.30M125.48 336.30V348.60M128.15 336.30V348.55M130.83 336.30V340.68M128.28 336.30V347.03M129.16 326.09V336.30M131.00 320.75V336.30M130.72 327.87V336.30M130.69 326.30V336.30M132.40 336.30V340.79M132.94 336.30V347.75M132.32 329.90V336.30M135.77 336.30V353.83M133.77 332.06V336.30M136.29 336.30V341.35M135.50 328.53V336.30M134.35 327.89V336.30M137.88 336.30V346.14M139.18 336.30V349.34M138.09 336.30V341.11M139.04 327.15V336.30M138.23 336.30V345.75M141.23 336.30V344.17M141.18 324.34V336.30M141.44 336.30V346.93M142.33 328.87V336.30M140.85 325.31V336.30M143.54 329.05V336.30M142.79 326.50V336.30M144.11 336.30V349.98M144.50 325.26V336.30M143.97 336.30V341.79M148.09 336.30V343.68M148.47 336.30V344.78M148.95 318.84V336.30M147.93 336.30V342.43M149.23 336.30V348.96M149.60 323.16V336.30M151.46 336.30V341.28M151.28 336.30V341.37M149.90 322.91V336.30M151.95 328.24V336.30M152.96 336.30V343.88M154.70 330.29V336.30M155.46 327.02V336.30M154.70 336.30V351.89M155.93 327.44V336.30M155.51 322.66V336.30M157.58 336.30V349.92M157.29 336.30V345.03M157.70 336.30V346.53M155.49 331.62V336.30M161.44 321.20V336.30M161.52 336.30V343.85M158.95 319.12V336.30M159.62 331.85V336.30M158.67 336.30V346.86M161.53 328.39V336.30M163.47 332.02V336.30M162.48 329.94V336.30M162.87 329.30V336.30M164.13 331.78V336.30M167.29 328.48V336.30M167.92 336.30V344.86M168.12 319.58V336.30M166.41 332.08V336.30M168.17 319.26V336.30M170.13 325.64V336.30M167.98 327.09V336.30M169.04 328.24V336.30M168.37 336.30V342.27M168.22 327.10V336.30M172.52 336.30V351.91M173.62 330.48V336.30M172.31 330.33V336.30M173.40 330.61V336.30M171.79 324.68V336.30M176.15 336.30V343.70M173.82 329.32V336.30M173.88 336.30V348.66M174.67 336.30V345.05M174.25 336.30V340.54M179.74 336.30V345.17M179.09 322.21V336.30M178.77 319.95V336.30M179.55 331.75V336.30M177.13 336.30V345.49M180.28 336.30V341.29M180.26 336.30V349.84M181.06 331.37V336.30M180.55 324.62V336.30M181.55 336.30V340.50M185.95 336.30V350.23M182.69 331.02V336.30M185.00 330.99V336.30M183.48 328.76V336.30M185.89 327.55V336.30M187.16 336.30V340.51M187.43 329.12V336.30M187.48 336.30V341.31M187.23 336.30V347.04M187.32 330.11V336.30M190.96 319.84V336.30M189.62 336.30V349.83M190.62 336.30V354.11M192.20 336.30V342.00M189.64 320.16V336.30M192.65 331.25V336.30M193.81 336.30V345.75M192.45 326.73V336.30M193.54 336.30V349.27M192.02 336.30V342.11M196.46 336.30V353.67M199.03 336.30V340.33M195.83 336.30V346.18M195.76 336.30V345.47M197.07 336.30V343.36M200.28 331.51V336.30M199.73 325.44V336.30M199.35 326.05V336.30M199.48 324.19V336.30M199.50 323.25V336.30M204.27 331.67V336.30M204.77 328.40V336.30M203.59 330.81V336.30M204.63 330.49V336.30M202.72 336.30V350.40M207.26 328.98V336.30M205.92 336.30V345.15M207.92 336.30V343.29M207.12 336.30V340.31M207.95 336.30V341.74M209.46 325.11V336.30M211.47 336.30V343.49M211.25 336.30V343.70M209.09 332.20V336.30M209.88 336.30V345.86M213.73 336.30V341.22M212.38 330.42V336.30M213.23 329.44V336.30M214.63 326.08V336.30M212.28 336.30V341.80M219.20 329.35V336.30M216.92 318.94V336.30M218.36 325.96V336.30M215.75 330.12V336.30M217.14 331.57V336.30M221.15 336.30V345.68M220.80 322.60V336.30M219.14 336.30V340.36M218.80 327.83V336.30M220.35 336.30V342.31M223.07 336.30V344.45M222.62 336.30V347.86M222.03 336.30V348.74M224.15 336.30V343.22M222.93 326.03V336.30M225.25 336.30V341.17M226.67 322.85V336.30M226.13 336.30V340.54M225.94 336.30V347.27M226.71 336.30V343.25M230.90 324.21V336.30M228.91 336.30V350.24M229.29 327.88V336.30M230.45 330.54V336.30M231.52 336.30V347.25M231.91 326.86V336.30M232.84 331.39V336.30M231.38 336.30V341.03M233.27 326.40V336.30M232.58 330.98V336.30M234.75 336.30V342.35M234.46 330.02V336.30M236.10 336.30V344.31M237.32 336.30V340.69M236.13 336.30V349.20M239.68 326.38V336.30M239.42 329.83V336.30M238.10 336.30V345.03M238.51 336.30V342.49M239.74 336.30V346.51M242.22 329.02V336.30M243.31 325.36V336.30M243.43 336.30V348.12M244.24 323.24V336.30M240.77 319.48V336.30M243.88 325.83V336.30M244.64 331.14V336.30M244.23 330.68V336.30M243.90 330.92V336.30M244.09 336.30V341.26M249.27 336.30V347.21M247.46 327.73V336.30M248.98 336.30V343.89M249.75 331.19V336.30M248.52 321.47V336.30M250.22 336.30V341.25M250.34 326.88V336.30M250.26 326.23V336.30M250.62 323.85V336.30M252.17 332.26V336.30M254.06 336.30V342.97M253.89 336.30V348.32M252.28 336.30V351.65M254.50 330.47V336.30M251.54 322.12V336.30M254.70 323.58V336.30M255.87 336.30V346.58M254.43 336.30V344.89M257.09 325.69V336.30M257.07 336.30V348.48" stroke="#3fa0e2" stroke-width="0.65" fill="none"/>
<path d="M32.10 336.30V340.78M48.10 336.30V328.30M49.10 336.30V342.05M51.10 336.30V330.89M53.10 336.30V346.73M58.60 336.30V326.06M59.10 336.30V327.90M66.10 336.30V329.35M73.10 336.30V343.19M77.60 336.30V343.33M81.10 336.30V344.32M85.60 336.30V342.09M87.10 336.30V329.09M89.10 336.30V345.06M97.10 336.30V328.57M105.60 336.30V330.50M112.10 336.30V323.45M117.60 336.30V327.46M125.60 336.30V345.56M136.60 336.30V330.08M147.10 336.30V327.82M151.60 336.30V342.53M153.60 336.30V344.25M154.60 336.30V327.74M155.60 336.30V342.34M170.60 336.30V329.70M171.60 336.30V327.74M172.10 336.30V327.92M172.60 336.30V326.74M180.10 336.30V329.41M184.10 336.30V324.14M185.10 336.30V344.21M187.10 336.30V346.25M196.10 336.30V328.95M202.10 336.30V331.49M203.10 336.30V327.25M207.60 336.30V343.56M214.60 336.30V330.23M221.10 336.30V331.40M222.10 336.30V331.57M228.60 336.30V343.33M229.60 336.30V327.48M235.10 336.30V328.99M236.10 336.30V327.76M239.60 336.30V330.23M241.60 336.30V326.78" stroke="#3ea2e0" stroke-width="0.5" fill="none"/>
<path d="M32.10 331.91V340.67M32.60 332.39V340.07M33.10 332.67V339.93M33.60 333.64V339.55M34.10 332.41V340.78M34.60 332.08V340.26M35.10 332.60V339.98M35.60 330.61V342.24M36.10 329.52V343.23M36.60 332.47V341.19M37.10 331.94V342.02M37.60 333.01V341.47M38.10 330.50V342.66M38.60 329.67V341.37M39.10 330.23V339.97M39.60 332.02V339.97M40.10 332.46V341.22M40.60 330.20V340.87M41.10 328.51V342.35M41.60 327.54V344.20M42.10 331.58V341.39M42.60 332.71V342.06M43.10 331.31V339.77M43.60 330.79V341.18M44.10 329.96V342.41M44.60 332.35V341.20M45.10 332.04V339.18M45.60 332.41V340.59M46.10 331.56V339.24M46.60 331.80V340.65M47.10 331.48V342.83M47.60 330.72V341.74M48.10 331.07V342.57M48.60 331.49V339.48M49.10 333.42V341.04M49.60 332.36V340.33M50.10 331.11V340.26M50.60 332.66V339.59M51.10 332.26V340.65M51.60 332.56V340.83M52.10 329.97V342.16M52.60 329.28V342.40M53.10 328.68V342.39M53.60 331.93V342.35M54.10 331.69V339.83M54.60 332.96V340.52M55.10 332.94V341.35M55.60 332.16V340.35M56.10 332.69V341.59M56.60 331.13V341.35M57.10 333.48V339.58M57.60 331.46V341.23M58.10 329.79V341.14M58.60 329.28V341.02M59.10 329.21V341.48M59.60 332.17V341.40M60.10 332.90V340.52M60.60 330.63V342.13M61.10 331.12V341.75M61.60 332.57V341.26M62.10 332.87V339.49M62.60 333.19V339.74M63.10 332.16V339.65M63.60 331.68V339.79M64.10 331.68V341.73M64.60 328.63V341.07M65.10 330.89V341.99M65.60 331.47V339.62M66.10 332.67V341.35M66.60 331.21V340.83M67.10 329.58V341.69M67.60 332.61V339.86M68.10 331.99V341.41M68.60 333.93V340.05M69.10 331.08V340.86M69.60 330.72V343.13M70.10 329.28V343.11M70.60 328.89V344.22M71.10 331.92V340.47M71.60 333.03V339.99M72.10 330.60V341.05M72.60 332.29V341.22M73.10 332.25V341.25M73.60 330.64V341.02M74.10 333.34V339.12M74.60 332.51V339.57M75.10 333.22V340.51M75.60 330.17V340.21M76.10 328.97V341.74M76.60 329.79V343.84M77.10 329.05V342.80M77.60 332.95V340.47M78.10 333.01V340.46M78.60 331.56V342.03M79.10 329.97V341.80M79.60 332.13V341.72M80.10 331.90V340.91M80.60 331.88V340.15M81.10 329.42V342.02M81.60 328.28V343.36M82.10 331.69V344.87M82.60 330.42V343.23M83.10 333.07V341.51M83.60 332.96V341.08M84.10 332.25V342.33M84.60 330.30V341.66M85.10 331.42V340.88M85.60 331.41V339.04M86.10 332.56V340.25M86.60 332.52V339.34M87.10 332.19V339.16M87.60 330.19V342.53M88.10 329.14V343.92M88.60 331.19V341.53M89.10 330.92V341.08M89.60 332.34V340.74M90.10 332.32V341.41M90.60 330.77V341.30M91.10 329.22V340.38M91.60 332.21V341.42M92.10 332.16V339.81M92.60 333.79V339.99M93.10 332.60V340.75M93.60 331.10V340.51M94.10 330.49V341.25M94.60 327.07V341.67M95.10 330.79V341.75M95.60 332.80V340.97M96.10 332.67V339.56M96.60 330.35V340.81M97.10 329.16V341.27M97.60 330.68V340.94M98.10 331.39V339.73M98.60 332.61V339.48M99.10 333.24V340.52M99.60 331.72V341.42M100.10 329.67V342.96M100.60 327.47V344.33M101.10 330.92V342.99M101.60 331.69V341.00M102.10 331.30V339.81M102.60 330.67V339.90M103.10 332.18V340.08M103.60 331.54V342.93M104.10 331.26V340.44M104.60 333.47V340.43M105.10 333.37V340.00M105.60 332.47V341.82M106.10 331.67V341.52M106.60 330.30V341.89M107.10 329.41V342.06M107.60 330.13V340.09M108.10 331.28V340.22M108.60 333.00V340.68M109.10 331.61V342.43M109.60 331.25V343.44M110.10 331.88V341.14M110.60 331.03V340.91M111.10 330.66V343.51M111.60 328.17V342.78M112.10 329.76V340.87M112.60 329.55V342.18M113.10 333.31V339.89M113.60 333.34V339.53M114.10 332.16V340.35M114.60 332.30V343.35M115.10 333.10V341.95M115.60 332.76V340.02M116.10 332.19V339.25M116.60 329.62V342.66M117.10 329.11V344.29M117.60 329.66V341.40M118.10 332.37V340.80M118.60 331.62V341.63M119.10 331.59V340.45M119.60 332.34V340.07M120.10 330.25V340.86M120.60 332.23V340.77M121.10 332.78V340.78M121.60 332.52V339.87M122.10 330.68V342.60M122.60 329.55V343.03M123.10 331.30V343.68M123.60 331.50V342.58M124.10 331.11V341.85M124.60 332.59V338.98M125.10 330.65V341.99M125.60 332.36V340.81M126.10 332.27V342.82M126.60 331.11V340.34M127.10 333.53V340.41M127.60 333.38V340.58M128.10 332.43V340.18M128.60 331.18V342.11M129.10 329.03V341.80M129.60 330.85V342.26M130.10 331.18V341.89M130.60 332.79V341.39M131.10 331.41V340.29M131.60 331.75V341.26M132.10 331.81V341.81M132.60 331.71V341.20M133.10 333.33V340.32M133.60 333.50V339.95M134.10 330.61V341.40M134.60 331.64V343.27M135.10 331.55V344.84M135.60 330.84V341.79M136.10 330.54V340.83M136.60 332.63V340.99M137.10 332.81V341.11M137.60 332.39V342.02M138.10 330.58V341.52M138.60 330.84V339.65M139.10 331.89V340.63M139.60 332.46V340.51M140.10 331.40V340.70M140.60 331.81V340.26M141.10 331.17V343.49M141.60 330.12V344.68M142.10 331.12V341.17M142.60 332.92V340.49M143.10 333.12V341.85M143.60 332.56V342.22M144.10 330.84V340.33M144.60 331.74V341.61M145.10 332.25V340.42M145.60 333.93V339.65M146.10 333.68V339.31M146.60 332.15V340.53M147.10 332.55V341.52M147.60 331.52V341.75M148.10 329.51V345.17M148.60 331.15V343.59M149.10 332.88V341.70M149.60 331.22V340.59M150.10 330.20V341.19M150.60 332.27V341.49M151.10 332.97V341.70M151.60 331.81V341.16M152.10 333.04V339.52M152.60 333.63V338.71M153.10 330.37V341.83M153.60 331.32V343.52M154.10 327.65V342.78M154.60 331.64V342.89M155.10 332.86V341.03M155.60 332.97V340.54M156.10 332.08V341.99M156.60 331.14V341.57M157.10 329.48V341.77M157.60 332.15V340.44M158.10 332.25V340.02M158.60 332.69V338.89M159.10 333.29V341.20M159.60 330.31V342.05M160.10 329.87V342.82M160.60 330.81V341.58M161.10 329.50V342.65M161.60 333.44V339.88M162.10 330.68V340.75M162.60 330.45V340.68M163.10 331.35V342.92M163.60 331.33V340.96M164.10 332.81V340.92M164.60 333.07V339.71M165.10 332.09V340.29M165.60 332.67V341.40M166.10 330.50V344.04M166.60 329.66V343.97M167.10 329.58V341.75M167.60 331.96V340.02M168.10 332.17V339.85M168.60 330.16V341.90M169.10 329.23V342.15M169.60 330.78V342.26M170.10 331.72V340.88M170.60 333.90V339.60M171.10 331.92V341.01M171.60 329.91V340.98M172.10 328.13V342.51M172.60 329.66V343.89M173.10 329.40V343.46M173.60 331.58V340.84M174.10 331.87V339.55M174.60 330.19V341.57M175.10 330.83V341.11M175.60 331.40V340.21M176.10 331.37V339.30M176.60 332.22V340.18M177.10 332.71V339.13M177.60 331.48V340.90M178.10 330.91V341.94M178.60 330.81V341.87M179.10 328.41V343.87M179.60 330.33V340.16M180.10 331.93V338.93M180.60 332.71V340.50M181.10 332.58V343.02M181.60 330.83V341.44M182.10 330.72V339.72M182.60 332.08V339.60M183.10 333.35V339.48M183.60 332.46V342.61M184.10 328.63V341.86M184.60 329.98V341.37M185.10 330.92V340.74M185.60 332.93V339.88M186.10 331.81V341.24M186.60 330.12V340.23M187.10 332.39V340.53M187.60 330.36V342.40M188.10 332.26V339.71M188.60 332.39V339.04M189.10 333.78V338.81M189.60 330.82V342.21M190.10 331.72V343.18M190.60 328.35V343.35M191.10 332.00V342.75M191.60 332.68V342.09M192.10 332.89V340.90M192.60 332.22V341.18M193.10 330.58V340.43M193.60 331.02V342.25M194.10 332.60V339.35M194.60 333.04V339.51M195.10 332.17V339.34M195.60 332.57V339.36M196.10 330.70V341.07M196.60 331.07V342.74M197.10 330.62V343.14M197.60 331.57V344.12M198.10 332.12V342.12M198.60 331.65V340.50M199.10 331.98V339.89M199.60 331.38V340.21M200.10 331.43V341.35M200.60 331.09V340.10M201.10 333.09V339.26M201.60 331.90V340.64M202.10 333.61V338.94M202.60 333.65V339.97M203.10 330.19V340.34M203.60 330.83V341.13M204.10 330.43V342.13M204.60 330.50V343.19M205.10 331.98V340.82M205.60 331.68V341.48M206.10 330.48V340.53M206.60 330.42V342.36M207.10 332.77V339.63M207.60 331.37V340.15M208.10 332.96V340.00M208.60 333.51V340.38M209.10 331.85V339.55M209.60 330.59V340.89M210.10 331.80V340.46M210.60 330.98V343.27M211.10 329.38V341.39M211.60 332.74V341.54M212.10 332.32V339.68M212.60 331.15V341.64M213.10 329.38V341.97M213.60 331.06V340.71M214.10 332.64V339.31M214.60 333.12V340.59M215.10 333.28V339.25M215.60 332.58V339.63M216.10 333.39V340.05M216.60 331.22V342.16M217.10 331.73V342.00M217.60 330.80V342.47M218.10 332.08V342.49M218.60 331.53V339.73M219.10 332.38V341.31M219.60 330.99V339.80M220.10 329.00V342.44M220.60 331.69V342.30M221.10 332.26V340.28M221.60 332.42V340.46M222.10 332.06V338.68M222.60 331.48V342.13M223.10 332.01V342.64M223.60 328.70V342.82M224.10 328.56V344.11M224.60 331.12V339.83M225.10 333.08V339.53M225.60 331.32V341.32M226.10 329.49V339.98M226.60 330.79V342.02M227.10 331.46V341.65M227.60 333.70V340.33M228.10 333.76V339.68M228.60 333.14V339.63M229.10 330.77V340.67M229.60 328.26V344.49M230.10 329.51V343.90M230.60 331.10V343.74M231.10 330.28V340.65M231.60 333.36V340.34M232.10 332.27V341.55M232.60 330.66V342.48M233.10 332.52V340.20M233.60 331.97V340.08M234.10 333.25V339.28M234.60 331.72V340.55M235.10 332.55V343.26M235.60 328.39V344.84M236.10 331.07V344.14M236.60 330.82V341.89M237.10 331.02V341.06M237.60 332.89V341.75M238.10 329.97V340.13M238.60 330.82V341.84M239.10 331.02V341.68M239.60 333.17V340.42M240.10 333.97V338.84M240.60 331.85V339.63M241.10 332.22V341.01M241.60 330.24V340.79M242.10 329.07V343.95M242.60 330.75V342.86M243.10 329.27V343.85M243.60 331.37V341.96M244.10 332.13V339.55M244.60 331.61V341.12M245.10 331.19V343.24M245.60 331.65V341.87M246.10 331.82V341.20M246.60 333.10V340.01M247.10 333.36V340.82M247.60 331.36V340.29M248.10 328.83V344.32M248.60 328.54V344.60M249.10 331.98V342.47M249.60 331.27V340.01M250.10 332.46V340.25M250.60 330.68V340.17M251.10 332.28V340.85M251.60 330.38V340.24M252.10 332.66V340.86M252.60 332.09V341.79M253.10 327.84V341.45M253.60 332.06V341.35" stroke="#0c74ca" stroke-width="0.75" fill="none"/>
</g>
<rect x="31.60" y="249.30" width="222.90" height="176.60" fill="none" stroke="#767676" stroke-width="0.6"/>
<path d="M31.60 265.50h2.2M254.50 265.50h-2.2" stroke="#767676" stroke-width="0.5"/>
<text x="28.80" y="267.88" font-size="6.6" text-anchor="end" fill="#262626" >0.8</text>
<path d="M31.60 283.36h2.2M254.50 283.36h-2.2" stroke="#767676" stroke-width="0.5"/>
<text x="28.80" y="285.73" font-size="6.6" text-anchor="end" fill="#262626" >0.6</text>
<path d="M31.60 301.21h2.2M254.50 301.21h-2.2" stroke="#767676" stroke-width="0.5"/>
<text x="28.80" y="303.59" font-size="6.6" text-anchor="end" fill="#262626" >0.4</text>
<path d="M31.60 319.07h2.2M254.50 319.07h-2.2" stroke="#767676" stroke-width="0.5"/>
<text x="28.80" y="321.44" font-size="6.6" text-anchor="end" fill="#262626" >0.2</text>
<path d="M31.60 336.92h2.2M254.50 336.92h-2.2" stroke="#767676" stroke-width="0.5"/>
<text x="28.80" y="339.30" font-size="6.6" text-anchor="end" fill="#262626" >0</text>
<path d="M31.60 354.78h2.2M254.50 354.78h-2.2" stroke="#767676" stroke-width="0.5"/>
<text x="28.80" y="357.15" font-size="6.6" text-anchor="end" fill="#262626" >-0.2</text>
<path d="M31.60 372.63h2.2M254.50 372.63h-2.2" stroke="#767676" stroke-width="0.5"/>
<text x="28.80" y="375.01" font-size="6.6" text-anchor="end" fill="#262626" >-0.4</text>
<path d="M31.60 390.49h2.2M254.50 390.49h-2.2" stroke="#767676" stroke-width="0.5"/>
<text x="28.80" y="392.86" font-size="6.6" text-anchor="end" fill="#262626" >-0.6</text>
<path d="M31.60 408.34h2.2M254.50 408.34h-2.2" stroke="#767676" stroke-width="0.5"/>
<text x="28.80" y="410.72" font-size="6.6" text-anchor="end" fill="#262626" >-0.8</text>
<path d="M31.60 426.20h2.2M254.50 426.20h-2.2" stroke="#767676" stroke-width="0.5"/>
<text x="28.80" y="428.58" font-size="6.6" text-anchor="end" fill="#262626" >-1</text>
<path d="M67.06 425.90v-2.2M67.06 249.30v2.2" stroke="#767676" stroke-width="0.5"/>
<text x="67.06" y="435.88" font-size="6.6" text-anchor="middle" fill="#262626" >1</text>
<path d="M102.94 425.90v-2.2M102.94 249.30v2.2" stroke="#767676" stroke-width="0.5"/>
<text x="102.94" y="435.88" font-size="6.6" text-anchor="middle" fill="#262626" >2</text>
<path d="M138.82 425.90v-2.2M138.82 249.30v2.2" stroke="#767676" stroke-width="0.5"/>
<text x="138.82" y="435.88" font-size="6.6" text-anchor="middle" fill="#262626" >3</text>
<path d="M174.70 425.90v-2.2M174.70 249.30v2.2" stroke="#767676" stroke-width="0.5"/>
<text x="174.70" y="435.88" font-size="6.6" text-anchor="middle" fill="#262626" >4</text>
<path d="M210.58 425.90v-2.2M210.58 249.30v2.2" stroke="#767676" stroke-width="0.5"/>
<text x="210.58" y="435.88" font-size="6.6" text-anchor="middle" fill="#262626" >5</text>
<path d="M246.46 425.90v-2.2M246.46 249.30v2.2" stroke="#767676" stroke-width="0.5"/>
<text x="246.46" y="435.88" font-size="6.6" text-anchor="middle" fill="#262626" >6</text>
<rect x="31.60" y="249.30" width="214.86" height="176.60" fill="none" stroke="#f5191e" stroke-width="1.3"/>
<path d="M67.06 249.30V425.90M102.94 249.30V425.90M138.82 249.30V425.90M174.70 249.30V425.90M210.58 249.30V425.90" stroke="#f5191e" stroke-width="1.3"/>
<text x="141.70" y="244.80" font-size="9.5" text-anchor="middle" fill="#262626" textLength="189.2" lengthAdjust="spacingAndGlyphs" stroke="#262626" stroke-width="0.22">PhysioNet/CinC 2016&#160; Dataset Normal Signal</text>
<text x="143.10" y="445.60" font-size="7.5" text-anchor="middle" fill="#262626" >Time</text>
<text x="0" y="0" font-size="7.7" text-anchor="middle" fill="#262626" transform="translate(12.2 337.8) rotate(-90)">Amplitude</text>
<text x="255.0" y="446.6" font-size="6.8" text-anchor="end" fill="#262626"><tspan font-size="7.6">×</tspan>10<tspan font-size="5" dy="-2.7">4</tspan></text>
<path d="M270.70 109.60L282.20 109.60L282.20 102.40L293.70 117.60L282.20 132.90L282.20 125.00L270.70 125.00Z" fill="#fff" stroke="#111" stroke-width="1.6" stroke-linejoin="miter"/>
<path d="M270.70 333.40L282.20 333.40L282.20 326.20L293.70 341.40L282.20 356.70L282.20 348.80L270.70 348.80Z" fill="#fff" stroke="#111" stroke-width="1.6" stroke-linejoin="miter"/>
<clipPath id="c1"><rect x="319.40" y="17.00" width="93.10" height="46.50"/></clipPath>
<g clip-path="url(#c1)">
<path d="M325.20 30.50V41.00M328.00 30.50V47.00M342.30 22.20V50.90M360.00 17.20V58.60M366.80 28.00V49.50M391.60 28.40V50.70M406.50 25.50V63.40" stroke="#2a8dd6" stroke-width="0.85" fill="none"/>
<path d="M320.70 32.90V44.90M335.10 28.00V55.30M384.70 20.90V51.90M410.50 22.60V52.50" stroke="#1b80cc" stroke-width="1.5" fill="none"/>
<path d="M320.10 38.80V49.04M320.90 38.80V49.54M322.10 38.80V33.48M322.50 38.80V35.13M322.90 38.80V42.19M323.30 38.80V44.75M324.10 38.80V44.15M326.10 38.80V42.94M326.50 38.80V34.53M327.30 38.80V43.75M328.50 38.80V44.85M329.70 38.80V42.21M330.50 38.80V43.21M330.90 38.80V35.13M331.70 38.80V44.19M332.10 38.80V33.71M332.50 38.80V35.37M332.90 38.80V33.86M333.30 38.80V34.80M334.50 38.80V46.41M335.70 38.80V28.58M337.70 38.80V33.28M338.90 38.80V34.89M339.30 38.80V42.27M339.70 38.80V44.30M340.10 38.80V44.73M340.90 38.80V44.34M341.30 38.80V33.81M341.70 38.80V45.98M342.10 38.80V45.75M342.90 38.80V34.02M344.10 38.80V35.36M346.50 38.80V42.49M346.90 38.80V44.66M347.30 38.80V42.26M348.10 38.80V34.96M350.10 38.80V42.57M350.90 38.80V34.93M351.30 38.80V42.68M351.70 38.80V35.41M352.10 38.80V42.23M352.50 38.80V33.34M352.90 38.80V33.02M354.50 38.80V42.64M355.30 38.80V34.68M355.70 38.80V42.22M356.50 38.80V34.91M356.90 38.80V34.30M357.30 38.80V42.52M358.50 38.80V43.66M358.90 38.80V33.97M359.70 38.80V46.27M362.10 38.80V43.30M362.90 38.80V33.80M364.50 38.80V44.49M364.90 38.80V35.25M365.70 38.80V34.72M366.10 38.80V33.05M366.90 38.80V28.89M368.50 38.80V35.03M370.50 38.80V34.66M371.70 38.80V42.56M373.70 38.80V34.79M375.30 38.80V43.48M376.90 38.80V33.44M377.70 38.80V34.04M380.50 38.80V34.18M381.30 38.80V44.64M382.10 38.80V43.91M382.50 38.80V32.92M383.30 38.80V43.89M383.70 38.80V48.12M384.10 38.80V28.93M384.90 38.80V52.25M385.30 38.80V26.40M385.70 38.80V30.75M386.50 38.80V33.74M389.30 38.80V43.00M389.70 38.80V33.42M390.10 38.80V42.19M391.30 38.80V45.22M392.10 38.80V32.27M392.50 38.80V44.71M393.30 38.80V44.47M393.70 38.80V33.51M394.10 38.80V34.41M395.30 38.80V35.40M395.70 38.80V44.02M396.10 38.80V42.50M396.90 38.80V34.05M398.10 38.80V42.77M399.30 38.80V42.66M399.70 38.80V33.15M401.30 38.80V43.17M402.50 38.80V44.70M403.30 38.80V42.87M404.10 38.80V43.49M407.30 38.80V42.41M407.70 38.80V42.85M408.10 38.80V33.38M408.90 38.80V45.66M410.10 38.80V27.00M410.90 38.80V50.65M411.30 38.80V47.26M412.10 38.80V43.99" stroke="#3ea2e0" stroke-width="0.45" fill="none"/>
<path d="M319.70 35.78V44.70M320.10 34.43V44.39M320.50 34.53V42.67M320.90 32.48V47.11M321.30 34.56V46.66M321.70 36.20V41.37M322.10 34.08V41.82M322.50 36.85V41.25M322.90 36.86V41.31M323.30 36.07V41.73M323.70 37.09V41.01M324.10 35.71V42.42M324.50 36.66V41.60M324.90 33.93V42.53M325.30 36.32V42.08M325.70 35.89V41.03M326.10 35.72V41.81M326.50 35.55V41.45M326.90 37.27V41.88M327.30 35.56V41.50M327.70 33.70V43.05M328.10 35.26V43.52M328.50 35.00V42.22M328.90 37.36V42.06M329.30 35.30V41.96M329.70 36.16V41.54M330.10 36.04V40.70M330.50 36.24V41.06M330.90 35.94V41.30M331.30 36.00V42.24M331.70 35.50V42.14M332.10 37.18V40.27M332.50 37.11V41.69M332.90 36.14V40.62M333.30 36.62V41.34M333.70 36.37V40.99M334.10 34.26V42.12M334.50 31.59V41.99M334.90 34.13V46.76M335.30 31.81V43.83M335.70 31.69V44.49M336.10 34.00V42.57M336.50 36.76V41.57M336.90 35.32V40.95M337.30 36.64V42.43M337.70 36.40V40.82M338.10 35.45V42.48M338.50 36.97V42.26M338.90 35.72V41.42M339.30 35.79V41.24M339.70 36.68V41.40M340.10 37.33V40.70M340.50 36.58V40.73M340.90 35.41V42.41M341.30 36.24V42.54M341.70 36.23V43.81M342.10 32.56V43.01M342.50 33.58V45.52M342.90 36.34V42.63M343.30 35.34V42.07M343.70 36.57V41.67M344.10 36.49V41.57M344.50 35.29V41.55M344.90 36.30V40.88M345.30 35.43V40.26M345.70 37.16V40.50M346.10 37.28V40.79M346.50 36.38V40.50M346.90 37.13V42.36M347.30 36.68V40.82M347.70 37.28V40.25M348.10 36.68V41.63M348.50 35.23V42.50M348.90 37.11V40.73M349.30 35.08V41.50M349.70 35.82V40.84M350.10 36.65V40.81M350.50 36.32V41.76M350.90 35.17V41.14M351.30 35.39V42.32M351.70 36.02V41.62M352.10 37.20V41.52M352.50 36.69V42.08M352.90 36.20V42.09M353.30 35.55V42.53M353.70 36.62V40.48M354.10 35.22V40.92M354.50 37.04V42.36M354.90 35.49V42.35M355.30 35.62V41.84M355.70 35.70V41.79M356.10 35.48V41.52M356.50 35.38V41.29M356.90 37.31V41.74M357.30 36.54V40.55M357.70 36.44V41.17M358.10 36.82V40.25M358.50 36.20V41.75M358.90 36.17V42.22M359.30 34.00V45.02M359.70 34.28V45.21M360.10 30.47V43.11M360.50 31.93V43.04M360.90 33.55V42.33M361.30 35.31V41.92M361.70 35.27V42.48M362.10 36.96V40.82M362.50 37.25V41.83M362.90 36.56V41.44M363.30 35.07V42.12M363.70 36.74V42.37M364.10 37.04V42.05M364.50 35.83V41.87M364.90 36.48V42.11M365.30 37.07V42.36M365.70 36.80V42.12M366.10 35.58V43.89M366.50 35.80V44.68M366.90 31.21V43.09M367.30 33.72V42.46M367.70 34.25V43.40M368.10 36.09V41.38M368.50 35.57V41.57M368.90 35.48V40.51M369.30 36.09V42.49M369.70 35.09V40.55M370.10 36.03V40.96M370.50 36.54V41.47M370.90 36.66V41.16M371.30 35.77V41.38M371.70 36.49V40.71M372.10 35.31V42.17M372.50 35.06V41.31M372.90 36.41V41.97M373.30 36.66V40.63M373.70 36.13V41.07M374.10 36.42V42.25M374.50 35.65V42.33M374.90 36.22V41.98M375.30 35.85V41.70M375.70 35.18V42.06M376.10 35.57V42.14M376.50 36.55V40.85M376.90 35.32V41.50M377.30 36.28V40.34M377.70 35.63V41.22M378.10 36.18V42.44M378.50 36.43V41.84M378.90 36.88V40.72M379.30 36.74V40.41M379.70 36.15V41.09M380.10 35.65V40.62M380.50 35.70V42.14M380.90 36.06V40.63M381.30 35.34V41.00M381.70 35.40V40.30M382.10 35.91V40.97M382.50 36.93V41.69M382.90 35.16V42.00M383.30 35.84V42.66M383.70 34.53V44.79M384.10 33.85V42.67M384.50 33.69V43.07M384.90 29.20V44.10M385.30 30.30V45.41M385.70 33.07V41.90M386.10 36.15V41.66M386.50 36.23V41.65M386.90 35.98V42.36M387.30 37.26V42.10M387.70 36.62V41.13M388.10 35.22V41.17M388.50 35.59V40.59M388.90 37.33V40.57M389.30 37.24V41.12M389.70 35.25V40.31M390.10 36.73V40.50M390.50 35.56V41.90M390.90 34.48V42.20M391.30 31.85V44.31M391.70 32.92V43.50M392.10 34.24V43.21M392.50 36.46V43.11M392.90 35.63V41.92M393.30 36.78V42.51M393.70 35.38V40.35M394.10 36.50V42.53M394.50 37.07V41.15M394.90 35.31V40.29M395.30 37.16V42.10M395.70 35.66V40.96M396.10 35.37V40.94M396.50 36.60V41.02M396.90 35.13V41.60M397.30 35.06V41.91M397.70 35.73V41.48M398.10 35.42V40.91M398.50 37.14V41.04M398.90 37.27V42.14M399.30 36.64V40.93M399.70 36.20V41.46M400.10 36.60V40.39M400.50 36.25V42.37M400.90 35.10V42.14M401.30 35.21V42.11M401.70 35.05V42.06M402.10 35.62V41.08M402.50 35.86V41.17M402.90 36.98V40.58M403.30 36.05V42.35M403.70 37.25V40.46M404.10 36.75V40.48M404.50 37.19V40.40M404.90 35.86V40.64M405.30 37.32V41.09M405.70 35.71V40.89M406.10 35.91V42.33M406.50 35.28V43.17M406.90 35.08V42.17M407.30 35.47V42.57M407.70 35.57V41.43M408.10 35.51V41.60M408.50 36.93V40.93M408.90 37.02V40.91M409.30 32.64V43.29M409.70 33.11V44.37M410.10 30.36V48.03M410.50 32.50V46.51M410.90 31.95V48.17M411.30 32.20V44.56M411.70 32.93V43.79M412.10 34.36V43.01" stroke="#0c74ca" stroke-width="0.6" fill="none"/>
</g>
<rect x="319.40" y="17.00" width="93.10" height="46.50" fill="none" stroke="#767676" stroke-width="0.5"/>
<path d="M319.40 17.60h1.0M412.50 17.60h-1.0" stroke="#767676" stroke-width="0.5"/>
<text x="317.40" y="19.72" font-size="5.9" text-anchor="end" fill="#262626" >0.05</text>
<path d="M319.40 39.75h1.0M412.50 39.75h-1.0" stroke="#767676" stroke-width="0.5"/>
<text x="317.40" y="41.87" font-size="5.9" text-anchor="end" fill="#262626" >0</text>
<path d="M319.40 61.90h1.0M412.50 61.90h-1.0" stroke="#767676" stroke-width="0.5"/>
<text x="317.40" y="64.02" font-size="5.9" text-anchor="end" fill="#262626" >-0.05</text>
<path d="M319.40 63.50v-1.0M319.40 17.00v1.0" stroke="#767676" stroke-width="0.5"/>
<text x="319.40" y="71.82" font-size="5.9" text-anchor="middle" fill="#262626" >0</text>
<path d="M338.02 63.50v-1.0M338.02 17.00v1.0" stroke="#767676" stroke-width="0.5"/>
<text x="338.02" y="71.82" font-size="5.9" text-anchor="middle" fill="#262626" >2000</text>
<path d="M356.64 63.50v-1.0M356.64 17.00v1.0" stroke="#767676" stroke-width="0.5"/>
<text x="356.64" y="71.82" font-size="5.9" text-anchor="middle" fill="#262626" >4000</text>
<path d="M375.26 63.50v-1.0M375.26 17.00v1.0" stroke="#767676" stroke-width="0.5"/>
<text x="375.26" y="71.82" font-size="5.9" text-anchor="middle" fill="#262626" >6000</text>
<path d="M393.88 63.50v-1.0M393.88 17.00v1.0" stroke="#767676" stroke-width="0.5"/>
<text x="393.88" y="71.82" font-size="5.9" text-anchor="middle" fill="#262626" >8000</text>
<path d="M412.50 63.50v-1.0M412.50 17.00v1.0" stroke="#767676" stroke-width="0.5"/>
<text x="412.50" y="71.82" font-size="5.9" text-anchor="middle" fill="#262626" >10000</text>
<clipPath id="c2"><rect x="446.20" y="17.10" width="93.20" height="46.60"/></clipPath>
<g clip-path="url(#c2)">
<path d="M476.70 26.00V42.70M480.50 21.50V36.00M483.60 17.20V63.50M487.30 27.20V39.80M500.60 19.70V46.10M502.10 30.00V46.10M525.40 24.90V49.00M529.60 31.20V37.00" stroke="#2a8dd6" stroke-width="0.85" fill="none"/>
<path d="M450.90 24.30V45.00M470.10 22.00V44.40M493.50 21.50V42.50M518.10 20.30V47.30" stroke="#1b80cc" stroke-width="1.5" fill="none"/>
<path d="M446.50 34.40V37.18M446.90 34.40V38.12M447.30 34.40V37.65M448.10 34.40V31.66M448.90 34.40V31.66M450.50 34.40V45.71M451.30 34.40V45.30M452.50 34.40V31.20M453.30 34.40V39.10M454.10 34.40V37.90M454.90 34.40V30.32M455.30 34.40V29.95M455.70 34.40V37.33M456.10 34.40V31.21M456.90 34.40V37.40M458.10 34.40V38.14M458.50 34.40V37.76M459.30 34.40V37.35M459.70 34.40V29.95M460.50 34.40V30.68M460.90 34.40V31.64M462.10 34.40V37.39M463.30 34.40V37.21M463.70 34.40V31.44M464.10 34.40V30.59M467.70 34.40V31.12M468.10 34.40V31.35M468.90 34.40V39.54M469.30 34.40V39.80M470.50 34.40V42.41M470.90 34.40V43.51M471.30 34.40V29.91M472.90 34.40V37.18M473.30 34.40V31.33M473.70 34.40V30.87M474.90 34.40V30.43M475.70 34.40V38.09M476.10 34.40V39.00M476.50 34.40V25.75M478.10 34.40V38.39M478.50 34.40V39.05M480.10 34.40V30.02M480.50 34.40V39.08M480.90 34.40V39.48M483.30 34.40V31.17M484.90 34.40V37.96M485.30 34.40V38.22M486.10 34.40V37.94M486.50 34.40V31.31M487.30 34.40V28.33M487.70 34.40V29.47M488.10 34.40V38.37M488.50 34.40V37.30M489.70 34.40V38.86M491.70 34.40V29.60M492.10 34.40V27.57M492.50 34.40V43.00M493.30 34.40V42.74M494.10 34.40V27.49M494.50 34.40V39.99M495.70 34.40V37.92M496.50 34.40V37.81M497.70 34.40V37.68M498.90 34.40V30.17M499.30 34.40V37.25M500.10 34.40V40.11M500.50 34.40V40.51M501.30 34.40V30.30M501.70 34.40V30.52M503.30 34.40V31.33M504.10 34.40V37.45M504.90 34.40V30.81M506.90 34.40V38.19M507.70 34.40V37.33M508.50 34.40V30.39M509.30 34.40V37.53M510.50 34.40V31.24M510.90 34.40V31.49M511.30 34.40V38.12M512.10 34.40V37.33M512.90 34.40V37.40M513.30 34.40V30.07M513.70 34.40V30.68M514.90 34.40V39.12M516.10 34.40V30.53M516.50 34.40V28.55M516.90 34.40V39.31M518.10 34.40V44.71M518.90 34.40V27.23M520.10 34.40V30.52M520.90 34.40V37.55M522.50 34.40V30.06M523.70 34.40V30.19M524.50 34.40V28.79M525.30 34.40V26.66M525.70 34.40V40.55M526.10 34.40V39.49M526.50 34.40V31.01M527.30 34.40V39.08M528.10 34.40V38.37M528.50 34.40V31.05M528.90 34.40V38.50M529.30 34.40V38.80M530.50 34.40V38.26M533.30 34.40V30.17M535.70 34.40V31.03M537.30 34.40V31.61M538.10 34.40V38.92M538.90 34.40V37.48" stroke="#3ea2e0" stroke-width="0.45" fill="none"/>
<path d="M446.50 31.44V37.35M446.90 31.85V36.82M447.30 32.15V35.85M447.70 31.36V37.35M448.10 32.40V36.06M448.50 32.64V36.27M448.90 32.25V36.61M449.30 32.87V36.70M449.70 30.72V36.67M450.10 29.23V39.34M450.50 28.24V40.68M450.90 30.31V41.62M451.30 29.59V39.52M451.70 29.10V37.94M452.10 30.08V37.47M452.50 31.26V37.14M452.90 31.92V35.87M453.30 32.74V37.28M453.70 32.29V36.53M454.10 32.13V36.14M454.50 32.07V35.70M454.90 31.87V37.27M455.30 32.01V36.07M455.70 32.26V37.17M456.10 32.45V36.91M456.50 31.97V35.71M456.90 33.20V36.93M457.30 32.95V35.90M457.70 32.52V35.64M458.10 32.96V35.62M458.50 33.03V36.19M458.90 31.85V37.26M459.30 31.61V36.89M459.70 32.65V35.75M460.10 32.14V36.30M460.50 32.97V37.37M460.90 33.21V36.61M461.30 32.94V35.74M461.70 32.28V37.41M462.10 31.37V35.99M462.50 32.07V37.07M462.90 32.76V36.35M463.30 33.24V35.62M463.70 32.79V35.74M464.10 32.26V36.43M464.50 31.53V37.38M464.90 32.43V36.52M465.30 33.15V36.35M465.70 32.90V35.73M466.10 32.55V36.54M466.50 32.09V36.10M466.90 32.54V35.59M467.30 33.05V36.13M467.70 31.97V35.58M468.10 32.85V36.67M468.50 31.23V35.81M468.90 32.10V37.78M469.30 30.71V37.09M469.70 28.79V41.44M470.10 31.04V41.12M470.50 28.42V39.37M470.90 31.17V38.58M471.30 29.98V38.54M471.70 32.61V36.53M472.10 31.51V36.66M472.50 33.06V36.23M472.90 32.97V36.34M473.30 31.38V36.78M473.70 31.98V36.84M474.10 32.22V37.35M474.50 33.06V36.53M474.90 32.76V37.25M475.30 31.36V37.03M475.70 32.97V36.39M476.10 32.29V37.38M476.50 29.03V38.97M476.90 29.69V38.80M477.30 30.51V36.62M477.70 32.48V36.82M478.10 32.05V35.58M478.50 32.02V37.10M478.90 32.10V37.27M479.30 33.06V37.10M479.70 32.87V36.96M480.10 32.62V37.53M480.50 31.78V37.96M480.90 32.89V35.76M481.30 31.82V36.47M481.70 32.61V36.06M482.10 33.19V35.71M482.50 32.92V36.97M482.90 32.48V36.83M483.30 31.61V35.81M483.70 32.36V35.80M484.10 31.42V36.25M484.50 32.52V36.39M484.90 32.66V36.78M485.30 33.10V37.11M485.70 32.01V36.30M486.10 33.07V36.75M486.50 31.62V36.84M486.90 32.06V36.87M487.30 31.80V39.53M487.70 32.49V37.37M488.10 31.43V37.42M488.50 32.63V35.74M488.90 32.54V36.23M489.30 32.80V37.08M489.70 32.49V37.11M490.10 32.30V36.86M490.50 31.84V36.97M490.90 31.48V36.98M491.30 32.69V36.73M491.70 32.51V36.34M492.10 31.42V38.52M492.50 32.13V37.82M492.90 28.41V38.97M493.30 30.02V41.87M493.70 30.46V39.20M494.10 31.32V37.68M494.50 31.34V37.79M494.90 31.80V37.10M495.30 33.10V35.86M495.70 32.43V37.03M496.10 32.61V37.01M496.50 32.50V37.44M496.90 32.65V37.14M497.30 32.13V36.57M497.70 31.38V37.14M498.10 33.16V35.76M498.50 33.00V37.33M498.90 31.52V35.70M499.30 33.04V36.22M499.70 32.76V38.10M500.10 32.32V39.15M500.50 31.43V38.80M500.90 29.31V38.43M501.30 30.33V36.46M501.70 32.60V36.46M502.10 30.32V39.26M502.50 31.08V37.19M502.90 32.94V35.75M503.30 32.06V35.95M503.70 32.44V36.31M504.10 31.71V36.62M504.50 31.38V35.99M504.90 31.92V36.80M505.30 32.88V36.65M505.70 32.06V36.96M506.10 32.35V35.65M506.50 31.69V37.13M506.90 33.17V35.93M507.30 32.89V37.36M507.70 31.55V36.43M508.10 31.92V36.08M508.50 32.17V36.33M508.90 32.00V35.79M509.30 32.73V37.28M509.70 32.50V36.55M510.10 32.86V37.01M510.50 31.76V36.40M510.90 32.76V35.92M511.30 32.16V36.14M511.70 32.82V36.72M512.10 31.57V36.84M512.50 32.68V35.58M512.90 32.87V36.15M513.30 32.60V36.39M513.70 32.15V35.80M514.10 33.12V36.67M514.50 32.03V36.49M514.90 31.51V35.84M515.30 32.86V36.88M515.70 32.13V36.88M516.10 32.80V35.96M516.50 31.52V36.74M516.90 30.98V37.52M517.30 28.75V37.18M517.70 28.27V37.57M518.10 28.75V40.68M518.50 27.76V40.08M518.90 29.08V37.69M519.30 32.03V37.33M519.70 31.53V37.34M520.10 33.05V36.61M520.50 32.98V36.14M520.90 32.35V37.34M521.30 32.10V35.76M521.70 32.56V37.35M522.10 31.72V37.25M522.50 31.42V35.60M522.90 31.97V37.44M523.30 31.62V35.70M523.70 32.09V36.38M524.10 33.16V36.68M524.50 31.04V37.40M524.90 31.70V38.80M525.30 30.39V40.41M525.70 31.40V37.24M526.10 31.96V37.86M526.50 32.44V37.35M526.90 32.54V37.40M527.30 32.27V36.39M527.70 32.02V35.86M528.10 33.00V36.22M528.50 32.04V36.63M528.90 32.45V36.06M529.30 30.53V37.73M529.70 29.48V38.00M530.10 31.42V36.37M530.50 32.56V37.16M530.90 32.23V36.43M531.30 31.82V36.35M531.70 31.55V36.97M532.10 31.43V35.78M532.50 32.07V36.41M532.90 31.42V36.29M533.30 31.80V36.87M533.70 32.97V36.81M534.10 32.47V36.50M534.50 31.72V36.32M534.90 32.17V36.32M535.30 31.76V37.25M535.70 31.98V36.31M536.10 31.46V36.24M536.50 31.86V35.89M536.90 32.63V35.71M537.30 32.48V37.29M537.70 33.19V36.49M538.10 33.15V36.18M538.50 31.59V36.76M538.90 32.82V36.71" stroke="#0c74ca" stroke-width="0.6" fill="none"/>
</g>
<rect x="446.20" y="17.10" width="93.20" height="46.60" fill="none" stroke="#767676" stroke-width="0.5"/>
<path d="M446.20 20.80h1.0M539.40 20.80h-1.0" stroke="#767676" stroke-width="0.5"/>
<text x="444.20" y="22.92" font-size="5.9" text-anchor="end" fill="#262626" >0.04</text>
<path d="M446.20 27.85h1.0M539.40 27.85h-1.0" stroke="#767676" stroke-width="0.5"/>
<text x="444.20" y="29.97" font-size="5.9" text-anchor="end" fill="#262626" >0.02</text>
<path d="M446.20 34.90h1.0M539.40 34.90h-1.0" stroke="#767676" stroke-width="0.5"/>
<text x="444.20" y="37.02" font-size="5.9" text-anchor="end" fill="#262626" >0</text>
<path d="M446.20 41.95h1.0M539.40 41.95h-1.0" stroke="#767676" stroke-width="0.5"/>
<text x="444.20" y="44.07" font-size="5.9" text-anchor="end" fill="#262626" >-0.02</text>
<path d="M446.20 49.00h1.0M539.40 49.00h-1.0" stroke="#767676" stroke-width="0.5"/>
<text x="444.20" y="51.12" font-size="5.9" text-anchor="end" fill="#262626" >-0.04</text>
<path d="M446.20 56.05h1.0M539.40 56.05h-1.0" stroke="#767676" stroke-width="0.5"/>
<text x="444.20" y="58.17" font-size="5.9" text-anchor="end" fill="#262626" >-0.06</text>
<path d="M446.20 63.10h1.0M539.40 63.10h-1.0" stroke="#767676" stroke-width="0.5"/>
<text x="444.20" y="65.22" font-size="5.9" text-anchor="end" fill="#262626" >-0.08</text>
<path d="M464.84 63.70v-1.0M464.84 17.10v1.0" stroke="#767676" stroke-width="0.5"/>
<text x="464.84" y="72.02" font-size="5.9" text-anchor="middle" fill="#262626" >2000</text>
<path d="M483.48 63.70v-1.0M483.48 17.10v1.0" stroke="#767676" stroke-width="0.5"/>
<text x="483.48" y="72.02" font-size="5.9" text-anchor="middle" fill="#262626" >4000</text>
<path d="M502.12 63.70v-1.0M502.12 17.10v1.0" stroke="#767676" stroke-width="0.5"/>
<text x="502.12" y="72.02" font-size="5.9" text-anchor="middle" fill="#262626" >6000</text>
<path d="M520.76 63.70v-1.0M520.76 17.10v1.0" stroke="#767676" stroke-width="0.5"/>
<text x="520.76" y="72.02" font-size="5.9" text-anchor="middle" fill="#262626" >8000</text>
<path d="M539.40 63.70v-1.0M539.40 17.10v1.0" stroke="#767676" stroke-width="0.5"/>
<text x="539.40" y="72.02" font-size="5.9" text-anchor="middle" fill="#262626" >10000</text>
<clipPath id="c3"><rect x="319.40" y="82.20" width="93.10" height="46.30"/></clipPath>
<g clip-path="url(#c3)">
<path d="M330.40 81.90V125.40M343.50 93.90V112.30M347.60 95.00V128.50M353.80 89.30V128.30M361.60 94.50V118.60M378.70 94.50V119.80M385.80 98.00V111.10M387.50 90.50V114.00M403.60 86.50V125.50" stroke="#2a8dd6" stroke-width="0.85" fill="none"/>
<path d="M323.50 89.30V120.30M346.40 82.40V127.20M371.80 84.70V119.80M396.10 89.30V122.60" stroke="#1b80cc" stroke-width="1.5" fill="none"/>
<path d="M319.70 105.20V109.80M320.90 105.20V100.49M321.70 105.20V110.41M322.90 105.20V93.10M323.30 105.20V95.60M324.10 105.20V114.25M326.50 105.20V110.63M326.90 105.20V101.67M327.30 105.20V100.57M328.90 105.20V100.58M329.30 105.20V111.02M330.90 105.20V109.01M331.30 105.20V109.28M332.10 105.20V100.36M332.50 105.20V108.62M332.90 105.20V100.63M333.30 105.20V100.62M333.70 105.20V109.70M334.50 105.20V100.30M335.30 105.20V109.09M335.70 105.20V108.69M336.90 105.20V101.70M337.30 105.20V101.12M337.70 105.20V108.58M338.10 105.20V110.99M338.90 105.20V101.30M339.30 105.20V99.92M340.50 105.20V109.01M341.30 105.20V99.74M341.70 105.20V109.60M342.50 105.20V109.88M342.90 105.20V99.70M343.30 105.20V99.45M344.50 105.20V110.24M344.90 105.20V110.41M345.30 105.20V98.33M345.70 105.20V117.52M346.10 105.20V91.55M346.50 105.20V118.37M346.90 105.20V119.37M347.70 105.20V114.23M348.50 105.20V100.65M348.90 105.20V101.75M349.30 105.20V99.81M351.30 105.20V109.68M351.70 105.20V109.84M352.10 105.20V101.28M352.90 105.20V111.22M353.30 105.20V113.06M354.10 105.20V95.87M356.10 105.20V100.96M356.50 105.20V100.05M358.50 105.20V108.88M359.30 105.20V108.79M359.70 105.20V99.73M360.10 105.20V108.65M360.90 105.20V100.45M361.70 105.20V111.93M362.50 105.20V110.35M364.10 105.20V110.16M366.50 105.20V108.63M367.30 105.20V99.70M368.10 105.20V109.62M368.50 105.20V101.45M369.30 105.20V110.25M369.70 105.20V101.17M370.10 105.20V109.38M372.90 105.20V111.58M374.50 105.20V101.53M374.90 105.20V110.69M376.90 105.20V101.76M378.90 105.20V114.56M379.30 105.20V96.35M379.70 105.20V100.64M380.10 105.20V101.64M380.50 105.20V109.26M380.90 105.20V108.59M381.30 105.20V108.75M381.70 105.20V100.21M382.50 105.20V110.49M383.30 105.20V101.81M383.70 105.20V109.96M384.10 105.20V110.45M384.50 105.20V110.30M385.30 105.20V114.70M386.50 105.20V96.15M387.30 105.20V98.01M387.70 105.20V113.79M389.30 105.20V109.24M389.70 105.20V108.64M390.10 105.20V109.93M390.90 105.20V110.38M391.30 105.20V101.63M391.70 105.20V99.35M392.10 105.20V108.85M393.70 105.20V100.79M394.10 105.20V100.94M394.50 105.20V111.05M395.30 105.20V97.57M396.90 105.20V94.42M397.30 105.20V95.67M397.70 105.20V110.58M398.10 105.20V101.08M398.50 105.20V101.73M398.90 105.20V110.31M399.70 105.20V109.40M400.90 105.20V99.94M401.70 105.20V100.06M402.50 105.20V101.08M402.90 105.20V100.22M403.30 105.20V99.32M404.10 105.20V112.92M404.90 105.20V109.92M406.10 105.20V108.78M406.50 105.20V101.28M408.10 105.20V109.71M409.70 105.20V99.52M410.10 105.20V108.95M410.50 105.20V101.43M410.90 105.20V101.53" stroke="#3ea2e0" stroke-width="0.45" fill="none"/>
<path d="M319.70 103.21V107.90M320.10 103.62V106.66M320.50 103.16V107.18M320.90 102.67V108.59M321.30 102.28V108.66M321.70 101.97V108.27M322.10 102.10V107.38M322.50 100.44V111.05M322.90 98.05V113.47M323.30 95.30V114.74M323.70 95.11V111.90M324.10 100.28V111.24M324.50 99.95V111.86M324.90 99.97V110.18M325.30 102.13V107.05M325.70 101.51V108.75M326.10 102.10V107.12M326.50 102.43V107.30M326.90 103.56V108.50M327.30 101.97V108.67M327.70 102.09V107.40M328.10 101.48V107.81M328.50 103.05V106.81M328.90 103.70V107.09M329.30 103.67V108.66M329.70 102.89V107.71M330.10 101.89V108.39M330.50 101.33V110.08M330.90 102.76V108.32M331.30 102.55V107.91M331.70 103.72V108.07M332.10 103.63V108.10M332.50 102.12V108.36M332.90 101.52V107.22M333.30 102.92V107.36M333.70 102.89V108.44M334.10 103.04V107.15M334.50 103.21V107.07M334.90 103.02V107.41M335.30 102.74V108.63M335.70 101.70V107.69M336.10 103.32V108.52M336.50 103.34V107.28M336.90 102.27V108.52M337.30 101.91V107.26M337.70 102.81V108.78M338.10 101.71V108.94M338.50 103.25V108.37M338.90 102.22V107.84M339.30 103.61V108.01M339.70 101.66V108.25M340.10 101.67V108.74M340.50 103.74V108.37M340.90 102.54V107.60M341.30 102.34V107.43M341.70 101.94V107.45M342.10 103.37V108.48M342.50 101.88V108.56M342.90 103.26V107.80M343.30 100.92V110.67M343.70 102.30V107.88M344.10 100.89V107.25M344.50 102.89V107.51M344.90 101.80V108.00M345.30 99.23V109.66M345.70 98.52V112.86M346.10 98.42V111.59M346.50 96.06V112.71M346.90 101.10V111.42M347.30 100.28V112.74M347.70 101.71V109.50M348.10 100.72V109.40M348.50 102.05V107.95M348.90 103.43V108.44M349.30 101.71V107.05M349.70 101.80V108.21M350.10 101.54V107.99M350.50 103.69V108.43M350.90 102.10V106.88M351.30 101.58V106.77M351.70 103.20V107.05M352.10 102.85V107.49M352.50 103.58V107.80M352.90 102.24V109.13M353.30 100.20V109.59M353.70 101.48V108.66M354.10 98.48V110.16M354.50 102.22V107.95M354.90 102.99V107.22M355.30 101.54V107.32M355.70 102.80V108.63M356.10 103.14V107.14M356.50 103.37V107.47M356.90 101.45V107.75M357.30 102.67V108.58M357.70 102.47V107.76M358.10 101.77V107.57M358.50 101.52V107.72M358.90 102.19V108.87M359.30 103.20V107.07M359.70 101.76V108.74M360.10 102.78V108.34M360.50 103.09V107.46M360.90 101.74V106.86M361.30 102.17V109.62M361.70 101.00V110.05M362.10 102.89V109.98M362.50 103.54V108.83M362.90 103.08V108.21M363.30 101.88V107.25M363.70 101.52V108.20M364.10 103.50V107.79M364.50 102.44V107.06M364.90 102.29V107.05M365.30 102.24V106.92M365.70 103.44V107.41M366.10 102.37V107.93M366.50 102.70V107.36M366.90 102.00V107.90M367.30 102.93V107.25M367.70 102.59V107.21M368.10 102.94V107.41M368.50 102.94V108.61M368.90 103.51V108.45M369.30 103.34V107.07M369.70 102.02V108.02M370.10 102.19V108.31M370.50 102.86V110.35M370.90 97.95V109.82M371.30 98.45V112.23M371.70 96.57V111.26M372.10 98.46V112.66M372.50 102.04V112.31M372.90 100.63V109.90M373.30 103.16V108.69M373.70 102.73V107.95M374.10 101.68V106.95M374.50 102.31V106.75M374.90 102.51V108.81M375.30 103.46V108.64M375.70 101.60V108.31M376.10 102.97V108.52M376.50 101.75V107.65M376.90 102.64V106.89M377.30 103.39V107.79M377.70 101.76V108.29M378.10 101.54V109.50M378.50 100.14V109.16M378.90 98.55V110.09M379.30 101.86V107.65M379.70 102.00V107.61M380.10 103.38V106.69M380.50 103.63V106.68M380.90 103.65V107.57M381.30 103.26V106.85M381.70 102.96V106.92M382.10 101.93V107.72M382.50 103.07V107.21M382.90 102.96V106.85M383.30 101.50V108.02M383.70 103.37V106.72M384.10 103.30V108.91M384.50 101.18V106.87M384.90 102.69V108.45M385.30 101.86V109.80M385.70 100.80V112.76M386.10 97.82V111.14M386.50 101.21V109.40M386.90 102.48V107.61M387.30 100.40V110.41M387.70 99.99V107.70M388.10 103.12V107.70M388.50 102.27V108.69M388.90 102.72V108.73M389.30 102.99V107.50M389.70 103.52V107.96M390.10 103.21V106.74M390.50 103.74V107.17M390.90 103.26V107.95M391.30 101.92V107.88M391.70 101.84V106.89M392.10 101.68V106.83M392.50 102.33V108.13M392.90 101.73V107.44M393.30 102.73V106.89M393.70 102.38V108.54M394.10 102.07V106.81M394.50 101.83V109.09M394.90 101.99V108.95M395.30 100.57V110.30M395.70 96.10V113.09M396.10 94.17V113.64M396.50 98.43V111.28M396.90 97.78V112.84M397.30 98.94V111.16M397.70 103.16V109.06M398.10 103.68V108.37M398.50 102.03V108.38M398.90 102.81V106.81M399.30 101.49V108.92M399.70 102.90V107.01M400.10 102.50V107.47M400.50 103.10V107.71M400.90 101.88V107.33M401.30 103.46V107.87M401.70 103.38V106.75M402.10 101.48V108.47M402.50 103.69V107.06M402.90 103.19V108.72M403.30 99.48V109.36M403.70 99.57V111.05M404.10 100.17V108.24M404.50 102.35V108.86M404.90 103.12V107.02M405.30 101.65V107.72M405.70 101.60V108.53M406.10 102.80V107.84M406.50 101.45V107.91M406.90 101.89V107.69M407.30 103.41V107.37M407.70 102.81V108.62M408.10 101.59V108.06M408.50 102.63V107.28M408.90 101.64V106.87M409.30 102.90V107.83M409.70 101.52V108.14M410.10 102.87V108.57M410.50 101.56V107.37M410.90 103.18V108.92M411.30 103.58V107.86M411.70 101.81V108.11M412.10 103.76V107.29" stroke="#0c74ca" stroke-width="0.6" fill="none"/>
</g>
<rect x="319.40" y="82.20" width="93.10" height="46.30" fill="none" stroke="#767676" stroke-width="0.5"/>
<path d="M319.40 83.70h1.0M412.50 83.70h-1.0" stroke="#767676" stroke-width="0.5"/>
<text x="317.40" y="85.82" font-size="5.9" text-anchor="end" fill="#262626" >0.04</text>
<path d="M319.40 94.78h1.0M412.50 94.78h-1.0" stroke="#767676" stroke-width="0.5"/>
<text x="317.40" y="96.90" font-size="5.9" text-anchor="end" fill="#262626" >0.02</text>
<path d="M319.40 105.85h1.0M412.50 105.85h-1.0" stroke="#767676" stroke-width="0.5"/>
<text x="317.40" y="107.97" font-size="5.9" text-anchor="end" fill="#262626" >0</text>
<path d="M319.40 116.93h1.0M412.50 116.93h-1.0" stroke="#767676" stroke-width="0.5"/>
<text x="317.40" y="119.05" font-size="5.9" text-anchor="end" fill="#262626" >-0.02</text>
<path d="M319.40 128.00h1.0M412.50 128.00h-1.0" stroke="#767676" stroke-width="0.5"/>
<text x="317.40" y="130.12" font-size="5.9" text-anchor="end" fill="#262626" >-0.04</text>
<path d="M338.02 128.50v-1.0M338.02 82.20v1.0" stroke="#767676" stroke-width="0.5"/>
<text x="338.02" y="136.82" font-size="5.9" text-anchor="middle" fill="#262626" >2000</text>
<path d="M356.64 128.50v-1.0M356.64 82.20v1.0" stroke="#767676" stroke-width="0.5"/>
<text x="356.64" y="136.82" font-size="5.9" text-anchor="middle" fill="#262626" >4000</text>
<path d="M375.26 128.50v-1.0M375.26 82.20v1.0" stroke="#767676" stroke-width="0.5"/>
<text x="375.26" y="136.82" font-size="5.9" text-anchor="middle" fill="#262626" >6000</text>
<path d="M393.88 128.50v-1.0M393.88 82.20v1.0" stroke="#767676" stroke-width="0.5"/>
<text x="393.88" y="136.82" font-size="5.9" text-anchor="middle" fill="#262626" >8000</text>
<path d="M412.50 128.50v-1.0M412.50 82.20v1.0" stroke="#767676" stroke-width="0.5"/>
<text x="412.50" y="136.82" font-size="5.9" text-anchor="middle" fill="#262626" >10000</text>
<clipPath id="c4"><rect x="446.20" y="81.60" width="93.20" height="46.60"/></clipPath>
<g clip-path="url(#c4)">
<path d="M459.50 97.90V110.00M461.80 93.90V120.30M480.70 92.20V116.80M483.00 82.20V114.60M487.80 91.00V119.10M494.60 85.30V128.40" stroke="#2a8dd6" stroke-width="0.85" fill="none"/>
<path d="M454.30 89.30V125.40M469.20 100.20V114.60M504.90 90.50V126.10M512.40 97.40V118.00M529.60 92.20V118.60M537.00 100.80V113.40" stroke="#1b80cc" stroke-width="1.5" fill="none"/>
<path d="M446.50 106.30V103.44M447.70 106.30V109.24M449.70 106.30V109.09M450.10 106.30V110.85M450.90 106.30V103.43M451.30 106.30V102.53M451.70 106.30V101.48M453.30 106.30V114.07M453.70 106.30V98.49M454.50 106.30V114.66M455.30 106.30V100.84M456.10 106.30V109.24M456.50 106.30V101.53M456.90 106.30V109.18M457.30 106.30V109.29M458.10 106.30V103.32M458.50 106.30V110.79M458.90 106.30V103.00M459.30 106.30V110.53M459.70 106.30V113.25M460.10 106.30V103.21M461.70 106.30V116.60M464.50 106.30V110.56M465.30 106.30V110.80M465.70 106.30V109.04M467.70 106.30V101.87M468.10 106.30V113.52M469.70 106.30V94.90M470.10 106.30V113.92M470.50 106.30V100.20M470.90 106.30V110.12M472.10 106.30V101.74M473.30 106.30V103.52M474.10 106.30V102.54M474.50 106.30V102.46M474.90 106.30V110.97M475.70 106.30V109.94M476.10 106.30V110.13M476.90 106.30V110.00M477.30 106.30V109.42M477.70 106.30V109.56M478.10 106.30V109.20M478.50 106.30V110.98M479.70 106.30V110.51M480.10 106.30V100.78M481.30 106.30V101.11M481.70 106.30V99.43M483.70 106.30V103.12M484.10 106.30V110.21M484.50 106.30V109.04M484.90 106.30V109.16M485.70 106.30V110.61M487.70 106.30V98.38M488.10 106.30V114.77M489.70 106.30V102.30M490.10 106.30V103.38M491.70 106.30V102.25M492.10 106.30V110.79M492.50 106.30V102.58M493.70 106.30V103.42M494.10 106.30V102.19M494.50 106.30V101.26M494.90 106.30V109.75M495.30 106.30V101.51M496.10 106.30V103.49M496.50 106.30V109.28M496.90 106.30V109.93M497.70 106.30V102.16M498.10 106.30V109.42M500.10 106.30V103.38M501.30 106.30V103.35M502.50 106.30V101.53M503.30 106.30V102.90M503.70 106.30V100.95M504.10 106.30V112.04M504.50 106.30V114.03M506.50 106.30V102.53M506.90 106.30V109.46M508.50 106.30V110.77M510.50 106.30V101.59M511.30 106.30V99.97M512.10 106.30V115.50M513.30 106.30V100.47M513.70 106.30V112.80M514.50 106.30V103.47M514.90 106.30V109.34M515.30 106.30V101.61M515.70 106.30V103.22M516.50 106.30V109.73M517.70 106.30V103.17M518.10 106.30V103.37M519.30 106.30V109.09M520.90 106.30V102.25M521.30 106.30V103.54M522.10 106.30V109.46M523.30 106.30V103.52M523.70 106.30V103.48M524.90 106.30V110.89M526.50 106.30V110.76M526.90 106.30V109.73M527.30 106.30V101.94M528.50 106.30V111.19M529.70 106.30V115.70M530.90 106.30V110.15M531.30 106.30V110.59M532.10 106.30V103.54M532.50 106.30V102.07M532.90 106.30V109.21M533.30 106.30V109.46M534.10 106.30V103.31M534.90 106.30V102.86M536.90 106.30V117.42M537.30 106.30V95.15M537.70 106.30V114.93" stroke="#3ea2e0" stroke-width="0.45" fill="none"/>
<path d="M446.50 104.70V107.65M446.90 104.39V109.19M447.30 103.70V107.87M447.70 104.62V107.78M448.10 103.58V108.98M448.50 104.78V108.04M448.90 103.76V109.07M449.30 104.98V108.60M449.70 104.19V107.79M450.10 103.51V108.49M450.50 103.48V109.06M450.90 104.36V108.59M451.30 103.61V107.54M451.70 104.13V108.35M452.10 104.36V107.84M452.50 104.59V108.17M452.90 103.75V109.51M453.30 103.77V108.69M453.70 102.60V110.41M454.10 99.53V114.09M454.50 99.34V114.42M454.90 100.25V110.75M455.30 101.93V111.37M455.70 104.25V109.02M456.10 104.48V107.50M456.50 104.46V108.00M456.90 104.75V107.57M457.30 104.86V107.53M457.70 104.91V108.46M458.10 104.37V109.32M458.50 105.08V108.25M458.90 103.98V107.64M459.30 103.85V110.60M459.70 102.89V110.95M460.10 103.37V109.14M460.50 103.49V109.16M460.90 103.82V109.62M461.30 102.00V111.19M461.70 100.93V111.80M462.10 103.67V112.37M462.50 102.43V108.28M462.90 104.66V109.80M463.30 105.03V107.77M463.70 104.07V108.87M464.10 104.73V107.46M464.50 105.12V109.11M464.90 103.49V108.50M465.30 104.76V108.72M465.70 104.25V108.45M466.10 104.22V109.09M466.50 104.88V108.14M466.90 104.16V107.47M467.30 103.41V107.70M467.70 103.50V110.25M468.10 100.57V108.86M468.50 101.31V110.94M468.90 99.01V109.86M469.30 101.74V111.47M469.70 101.29V113.13M470.10 103.23V110.76M470.50 102.04V108.29M470.90 103.09V108.95M471.30 104.47V108.90M471.70 103.96V108.73M472.10 104.55V109.18M472.50 103.51V108.94M472.90 104.31V107.72M473.30 104.46V108.71M473.70 103.62V107.79M474.10 104.44V108.54M474.50 104.38V109.22M474.90 104.58V107.50M475.30 103.63V108.98M475.70 104.85V108.56M476.10 103.71V109.29M476.50 103.74V108.62M476.90 104.57V109.21M477.30 103.82V108.04M477.70 103.26V109.15M478.10 104.61V108.23M478.50 103.83V108.62M478.90 104.85V107.58M479.30 103.28V109.19M479.70 103.81V108.20M480.10 101.02V111.18M480.50 99.56V109.65M480.90 100.72V111.30M481.30 103.23V110.29M481.70 103.80V108.28M482.10 103.46V108.78M482.50 103.03V110.33M482.90 101.79V110.27M483.30 102.32V109.77M483.70 104.64V109.46M484.10 103.49V107.94M484.50 104.52V108.19M484.90 105.11V109.27M485.30 103.59V107.89M485.70 104.24V108.81M486.10 103.81V109.20M486.50 104.43V109.06M486.90 103.50V107.98M487.30 101.51V109.18M487.70 100.33V111.09M488.10 101.08V110.82M488.50 103.70V110.26M488.90 103.40V109.18M489.30 103.82V108.60M489.70 103.28V108.12M490.10 104.11V108.58M490.50 103.67V109.17M490.90 104.92V109.30M491.30 104.18V107.46M491.70 103.97V108.63M492.10 104.24V107.73M492.50 103.60V108.02M492.90 104.37V109.30M493.30 103.51V108.02M493.70 103.65V108.79M494.10 103.47V109.22M494.50 103.16V109.99M494.90 103.91V107.67M495.30 104.89V108.89M495.70 104.97V107.85M496.10 103.88V109.14M496.50 104.28V109.33M496.90 104.93V109.29M497.30 103.43V107.60M497.70 104.81V108.81M498.10 104.76V107.52M498.50 104.00V108.14M498.90 104.82V107.86M499.30 103.35V108.75M499.70 105.04V109.16M500.10 103.88V109.05M500.50 104.24V108.49M500.90 104.46V108.86M501.30 103.71V107.53M501.70 104.06V107.82M502.10 104.49V108.14M502.50 103.36V107.82M502.90 105.09V107.82M503.30 103.16V109.92M503.70 102.12V109.46M504.10 102.47V110.48M504.50 99.90V111.21M504.90 97.90V112.39M505.30 100.88V110.08M505.70 101.51V111.09M506.10 104.31V109.60M506.50 104.55V107.83M506.90 104.55V108.65M507.30 104.12V109.27M507.70 104.66V108.09M508.10 104.12V108.15M508.50 104.77V108.35M508.90 103.28V107.73M509.30 104.02V107.55M509.70 103.49V107.61M510.10 103.66V108.60M510.50 104.54V107.64M510.90 103.24V108.82M511.30 100.60V111.74M511.70 101.23V112.81M512.10 102.71V111.79M512.50 101.24V114.54M512.90 99.37V110.24M513.30 100.11V112.80M513.70 102.66V109.64M514.10 103.30V109.01M514.50 103.84V107.58M514.90 103.70V108.07M515.30 104.92V108.67M515.70 103.69V108.49M516.10 103.71V108.45M516.50 104.68V108.64M516.90 104.12V108.55M517.30 104.78V109.27M517.70 103.77V109.26M518.10 104.55V108.02M518.50 104.59V108.15M518.90 104.55V109.09M519.30 104.52V109.03M519.70 105.08V107.47M520.10 105.14V108.69M520.50 104.72V107.92M520.90 104.40V107.91M521.30 104.98V108.95M521.70 103.27V108.28M522.10 104.09V109.30M522.50 105.14V108.14M522.90 104.06V108.38M523.30 104.33V108.84M523.70 104.75V107.51M524.10 103.75V108.89M524.50 104.54V108.72M524.90 104.40V109.18M525.30 103.29V109.03M525.70 104.32V108.81M526.10 104.06V108.63M526.50 104.61V108.09M526.90 103.87V107.90M527.30 104.47V108.25M527.70 103.51V107.48M528.10 103.20V108.74M528.50 103.57V108.61M528.90 101.75V111.23M529.30 99.82V112.87M529.70 98.46V113.18M530.10 100.32V112.77M530.50 101.86V109.30M530.90 104.18V109.65M531.30 103.50V108.03M531.70 104.85V109.00M532.10 104.06V107.97M532.50 103.78V108.66M532.90 103.98V107.78M533.30 104.73V107.48M533.70 104.05V108.79M534.10 104.51V108.66M534.50 103.52V108.09M534.90 103.06V108.46M535.30 103.32V108.33M535.70 101.56V111.93M536.10 100.15V112.91M536.50 100.67V114.04M536.90 101.83V111.00M537.30 99.68V114.83M537.70 100.03V110.71M538.10 100.03V110.07M538.50 101.48V108.90M538.90 102.31V110.36" stroke="#0c74ca" stroke-width="0.6" fill="none"/>
</g>
<rect x="446.20" y="81.60" width="93.20" height="46.60" fill="none" stroke="#767676" stroke-width="0.5"/>
<path d="M446.20 88.00h1.0M539.40 88.00h-1.0" stroke="#767676" stroke-width="0.5"/>
<text x="444.20" y="90.12" font-size="5.9" text-anchor="end" fill="#262626" >0.05</text>
<path d="M446.20 106.55h1.0M539.40 106.55h-1.0" stroke="#767676" stroke-width="0.5"/>
<text x="444.20" y="108.67" font-size="5.9" text-anchor="end" fill="#262626" >0</text>
<path d="M446.20 125.10h1.0M539.40 125.10h-1.0" stroke="#767676" stroke-width="0.5"/>
<text x="444.20" y="127.22" font-size="5.9" text-anchor="end" fill="#262626" >-0.05</text>
<path d="M464.84 128.20v-1.0M464.84 81.60v1.0" stroke="#767676" stroke-width="0.5"/>
<text x="464.84" y="136.52" font-size="5.9" text-anchor="middle" fill="#262626" >2000</text>
<path d="M483.48 128.20v-1.0M483.48 81.60v1.0" stroke="#767676" stroke-width="0.5"/>
<text x="483.48" y="136.52" font-size="5.9" text-anchor="middle" fill="#262626" >4000</text>
<path d="M502.12 128.20v-1.0M502.12 81.60v1.0" stroke="#767676" stroke-width="0.5"/>
<text x="502.12" y="136.52" font-size="5.9" text-anchor="middle" fill="#262626" >6000</text>
<path d="M520.76 128.20v-1.0M520.76 81.60v1.0" stroke="#767676" stroke-width="0.5"/>
<text x="520.76" y="136.52" font-size="5.9" text-anchor="middle" fill="#262626" >8000</text>
<path d="M539.40 128.20v-1.0M539.40 81.60v1.0" stroke="#767676" stroke-width="0.5"/>
<text x="539.40" y="136.52" font-size="5.9" text-anchor="middle" fill="#262626" >10000</text>
<clipPath id="c5"><rect x="319.40" y="146.50" width="93.10" height="46.50"/></clipPath>
<g clip-path="url(#c5)">
<path d="M322.00 163.60V186.60M340.40 156.80V191.20M351.50 156.80V182.00M362.70 162.50V186.60M386.40 163.70V185.50M405.90 167.10V180.00M408.80 163.10V187.80" stroke="#2a8dd6" stroke-width="0.85" fill="none"/>
<path d="M320.50 147.00V190.00M326.30 153.90V190.00M332.90 158.50V192.90M355.60 154.50V192.90M379.50 157.90V189.50M401.30 157.90V187.20" stroke="#1b80cc" stroke-width="1.5" fill="none"/>
<path d="M320.90 173.60V151.15M321.30 173.60V156.72M321.70 173.60V152.98M322.10 173.60V155.74M324.10 173.60V170.08M324.50 173.60V168.67M324.90 173.60V167.20M326.10 173.60V157.01M327.30 173.60V183.79M329.30 173.60V170.03M330.50 173.60V178.17M330.90 173.60V167.94M331.30 173.60V179.79M331.70 173.60V166.61M332.10 173.60V187.05M332.50 173.60V159.57M332.90 173.60V186.98M333.30 173.60V161.60M334.90 173.60V177.86M335.70 173.60V169.17M336.50 173.60V178.32M339.30 173.60V178.26M339.70 173.60V170.05M340.50 173.60V168.14M340.90 173.60V169.77M342.10 173.60V169.54M342.50 173.60V168.97M343.30 173.60V178.89M345.70 173.60V169.94M346.50 173.60V167.69M347.30 173.60V177.09M348.90 173.60V167.66M349.70 173.60V168.50M350.10 173.60V169.22M350.90 173.60V180.72M354.10 173.60V167.64M354.90 173.60V185.28M356.10 173.60V185.02M356.50 173.60V162.35M356.90 173.60V166.35M357.30 173.60V177.46M357.70 173.60V169.48M359.70 173.60V178.67M360.10 173.60V168.58M360.50 173.60V168.80M360.90 173.60V168.08M361.30 173.60V168.61M362.50 173.60V165.04M363.30 173.60V181.13M364.50 173.60V170.20M364.90 173.60V168.50M365.70 173.60V170.06M366.50 173.60V170.05M366.90 173.60V167.91M367.70 173.60V168.80M368.10 173.60V169.99M368.50 173.60V167.72M368.90 173.60V178.61M369.70 173.60V167.72M370.10 173.60V177.00M370.50 173.60V170.15M371.30 173.60V169.57M371.70 173.60V170.19M372.50 173.60V169.76M373.30 173.60V169.19M374.10 173.60V177.76M374.50 173.60V177.05M374.90 173.60V170.16M376.10 173.60V169.63M377.30 173.60V178.90M378.10 173.60V168.52M379.30 173.60V164.02M380.10 173.60V164.66M380.90 173.60V166.45M381.30 173.60V177.53M381.70 173.60V178.73M382.50 173.60V177.01M382.90 173.60V168.07M383.30 173.60V169.12M383.70 173.60V177.30M384.90 173.60V177.06M386.10 173.60V179.45M386.50 173.60V166.13M386.90 173.60V166.16M388.50 173.60V170.16M389.70 173.60V178.68M391.70 173.60V177.18M392.90 173.60V168.05M394.10 173.60V178.09M394.50 173.60V177.70M394.90 173.60V178.20M395.30 173.60V178.08M397.30 173.60V178.49M397.70 173.60V170.06M398.10 173.60V178.70M399.30 173.60V170.18M400.10 173.60V166.24M400.50 173.60V163.45M400.90 173.60V186.46M401.30 173.60V185.19M401.70 173.60V184.43M402.10 173.60V181.74M402.50 173.60V179.73M402.90 173.60V178.84M404.10 173.60V170.21M405.30 173.60V178.33M405.70 173.60V180.38M406.50 173.60V177.86M407.70 173.60V167.54M408.10 173.60V167.05M408.90 173.60V165.90M409.30 173.60V179.74M409.70 173.60V178.70M410.10 173.60V169.49M411.30 173.60V168.88" stroke="#3ea2e0" stroke-width="0.45" fill="none"/>
<path d="M319.70 163.22V184.98M320.10 158.01V187.16M320.50 166.14V186.15M320.90 157.89V192.45M321.30 161.08V186.45M321.70 159.51V186.30M322.10 164.26V179.21M322.50 168.65V183.14M322.90 169.67V180.46M323.30 170.06V175.84M323.70 170.55V177.29M324.10 171.47V175.88M324.50 171.42V176.50M324.90 170.01V179.18M325.30 166.42V177.25M325.70 169.15V183.15M326.10 168.20V185.60M326.50 167.96V180.40M326.90 167.93V183.20M327.30 165.12V178.82M327.70 170.80V178.90M328.10 170.08V175.15M328.50 171.96V175.83M328.90 170.02V175.83M329.30 170.89V175.76M329.70 171.82V176.64M330.10 171.79V175.14M330.50 170.92V175.98M330.90 171.10V176.02M331.30 170.41V177.79M331.70 168.68V179.15M332.10 165.93V178.37M332.50 163.18V180.59M332.90 166.50V181.58M333.30 162.27V182.53M333.70 168.37V181.84M334.10 169.11V180.05M334.50 169.27V177.83M334.90 171.32V176.68M335.30 170.55V175.72M335.70 170.65V176.39M336.10 170.60V176.11M336.50 170.65V176.90M336.90 170.23V175.85M337.30 170.13V176.64M337.70 169.93V176.24M338.10 171.78V176.99M338.50 171.05V176.65M338.90 170.46V175.43M339.30 170.81V176.59M339.70 170.68V176.72M340.10 169.83V176.08M340.50 169.26V175.88M340.90 171.75V175.91M341.30 171.08V175.92M341.70 170.79V175.59M342.10 172.17V175.98M342.50 170.22V175.90M342.90 170.89V175.82M343.30 169.93V176.95M343.70 171.31V175.36M344.10 170.85V177.27M344.50 170.75V175.85M344.90 172.17V175.28M345.30 170.73V175.36M345.70 170.08V175.91M346.10 169.89V175.92M346.50 170.03V176.42M346.90 171.20V175.78M347.30 171.02V175.70M347.70 171.13V175.72M348.10 170.24V175.06M348.50 171.53V177.22M348.90 171.60V175.66M349.30 170.75V176.14M349.70 170.76V176.77M350.10 170.92V175.82M350.50 171.33V176.77M350.90 171.70V176.14M351.30 169.04V176.07M351.70 169.50V178.28M352.10 169.94V176.82M352.50 171.27V175.95M352.90 171.71V175.72M353.30 172.02V176.99M353.70 171.16V175.70M354.10 168.82V175.97M354.50 169.70V176.77M354.90 166.27V177.10M355.30 165.76V177.52M355.70 163.02V184.31M356.10 169.87V181.81M356.50 167.45V177.07M356.90 169.15V177.33M357.30 171.70V176.22M357.70 170.43V177.09M358.10 170.77V176.18M358.50 171.29V175.16M358.90 171.82V176.51M359.30 170.04V176.33M359.70 171.55V176.32M360.10 171.86V175.58M360.50 170.50V176.56M360.90 171.88V176.42M361.30 171.41V176.89M361.70 171.82V177.26M362.10 170.85V175.99M362.50 168.12V179.75M362.90 169.97V177.66M363.30 170.44V176.88M363.70 170.29V176.04M364.10 170.96V176.42M364.50 170.44V175.96M364.90 172.08V177.11M365.30 171.07V177.11M365.70 171.17V176.12M366.10 171.29V175.93M366.50 171.81V175.62M366.90 171.62V176.16M367.30 169.98V176.64M367.70 171.07V177.24M368.10 170.59V176.74M368.50 171.63V175.21M368.90 171.44V176.13M369.30 171.79V175.59M369.70 169.97V176.54M370.10 172.03V176.85M370.50 169.85V176.24M370.90 170.07V176.18M371.30 172.04V175.60M371.70 171.57V175.98M372.10 169.90V175.45M372.50 171.23V176.27M372.90 170.90V177.19M373.30 170.17V175.53M373.70 170.83V175.91M374.10 170.47V177.17M374.50 171.65V175.30M374.90 170.25V175.76M375.30 171.97V176.03M375.70 171.60V175.17M376.10 172.06V175.50M376.50 171.19V175.76M376.90 170.87V177.13M377.30 170.39V176.37M377.70 169.86V176.80M378.10 170.62V178.43M378.50 170.17V177.44M378.90 168.76V177.24M379.30 166.12V177.69M379.70 164.18V183.59M380.10 169.05V179.21M380.50 168.34V179.92M380.90 171.20V177.47M381.30 169.90V176.96M381.70 171.09V176.05M382.10 170.92V177.30M382.50 171.93V176.94M382.90 172.09V176.38M383.30 171.67V175.68M383.70 170.41V175.60M384.10 170.20V177.02M384.50 171.23V175.36M384.90 171.02V175.12M385.30 170.06V175.50M385.70 170.76V177.54M386.10 168.61V179.31M386.50 168.15V177.22M386.90 170.33V177.12M387.30 169.55V177.22M387.70 170.55V176.60M388.10 170.30V175.88M388.50 170.58V176.25M388.90 171.34V176.39M389.30 170.50V175.75M389.70 171.53V176.71M390.10 169.93V177.13M390.50 170.21V176.76M390.90 171.68V176.24M391.30 171.61V177.31M391.70 171.25V175.04M392.10 170.07V177.16M392.50 171.27V175.28M392.90 170.87V176.70M393.30 171.45V175.66M393.70 170.07V175.42M394.10 170.38V175.56M394.50 170.11V176.73M394.90 170.05V175.74M395.30 171.73V175.10M395.70 171.74V175.48M396.10 170.66V176.65M396.50 172.03V176.16M396.90 169.93V175.78M397.30 170.66V177.20M397.70 171.05V175.27M398.10 171.81V176.47M398.50 170.26V176.91M398.90 170.01V177.27M399.30 169.91V175.27M399.70 170.75V176.69M400.10 168.33V176.31M400.50 170.03V179.52M400.90 164.31V182.78M401.30 167.34V178.63M401.70 164.58V179.46M402.10 166.74V179.41M402.50 169.20V176.18M402.90 171.62V176.15M403.30 170.90V175.93M403.70 171.96V175.86M404.10 172.16V176.82M404.50 171.10V175.93M404.90 172.05V175.54M405.30 170.50V176.79M405.70 168.48V178.01M406.10 169.47V178.35M406.50 169.90V177.27M406.90 171.20V177.08M407.30 170.03V175.92M407.70 169.85V177.72M408.10 167.67V179.61M408.50 168.47V177.86M408.90 169.75V177.70M409.30 167.20V179.95M409.70 168.50V177.52M410.10 169.98V175.10M410.50 170.41V175.90M410.90 171.81V176.24M411.30 170.53V175.24M411.70 171.31V176.15M412.10 169.91V175.59" stroke="#0c74ca" stroke-width="0.6" fill="none"/>
</g>
<rect x="319.40" y="146.50" width="93.10" height="46.50" fill="none" stroke="#767676" stroke-width="0.5"/>
<path d="M319.40 147.00h1.0M412.50 147.00h-1.0" stroke="#767676" stroke-width="0.5"/>
<text x="317.40" y="149.12" font-size="5.9" text-anchor="end" fill="#262626" >0.06</text>
<path d="M319.40 156.20h1.0M412.50 156.20h-1.0" stroke="#767676" stroke-width="0.5"/>
<text x="317.40" y="158.32" font-size="5.9" text-anchor="end" fill="#262626" >0.04</text>
<path d="M319.40 165.40h1.0M412.50 165.40h-1.0" stroke="#767676" stroke-width="0.5"/>
<text x="317.40" y="167.52" font-size="5.9" text-anchor="end" fill="#262626" >0.02</text>
<path d="M319.40 174.60h1.0M412.50 174.60h-1.0" stroke="#767676" stroke-width="0.5"/>
<text x="317.40" y="176.72" font-size="5.9" text-anchor="end" fill="#262626" >0</text>
<path d="M319.40 183.80h1.0M412.50 183.80h-1.0" stroke="#767676" stroke-width="0.5"/>
<text x="317.40" y="185.92" font-size="5.9" text-anchor="end" fill="#262626" >-0.02</text>
<path d="M319.40 193.00h1.0M412.50 193.00h-1.0" stroke="#767676" stroke-width="0.5"/>
<text x="317.40" y="195.12" font-size="5.9" text-anchor="end" fill="#262626" >-0.04</text>
<path d="M338.02 193.00v-1.0M338.02 146.50v1.0" stroke="#767676" stroke-width="0.5"/>
<text x="338.02" y="201.32" font-size="5.9" text-anchor="middle" fill="#262626" >2000</text>
<path d="M356.64 193.00v-1.0M356.64 146.50v1.0" stroke="#767676" stroke-width="0.5"/>
<text x="356.64" y="201.32" font-size="5.9" text-anchor="middle" fill="#262626" >4000</text>
<path d="M375.26 193.00v-1.0M375.26 146.50v1.0" stroke="#767676" stroke-width="0.5"/>
<text x="375.26" y="201.32" font-size="5.9" text-anchor="middle" fill="#262626" >6000</text>
<path d="M393.88 193.00v-1.0M393.88 146.50v1.0" stroke="#767676" stroke-width="0.5"/>
<text x="393.88" y="201.32" font-size="5.9" text-anchor="middle" fill="#262626" >8000</text>
<path d="M412.50 193.00v-1.0M412.50 146.50v1.0" stroke="#767676" stroke-width="0.5"/>
<text x="412.50" y="201.32" font-size="5.9" text-anchor="middle" fill="#262626" >10000</text>
<clipPath id="c6"><rect x="446.20" y="146.60" width="93.20" height="46.60"/></clipPath>
<g clip-path="url(#c6)">
<path d="M462.30 161.90V172.00M464.60 159.00V175.70M490.80 156.80V178.00M513.50 158.50V179.70M528.80 146.40V193.50M534.20 160.20V177.40" stroke="#2a8dd6" stroke-width="0.85" fill="none"/>
<path d="M458.00 152.20V178.00M475.00 156.20V190.00M483.60 154.50V178.00M506.60 153.90V182.60M530.40 152.20V183.80M537.30 159.00V186.00" stroke="#1b80cc" stroke-width="1.5" fill="none"/>
<path d="M446.50 167.80V164.79M447.30 167.80V172.04M448.90 167.80V172.03M449.30 167.80V164.01M449.70 167.80V163.96M450.90 167.80V164.09M452.10 167.80V164.96M452.50 167.80V163.63M453.30 167.80V170.62M454.10 167.80V172.56M454.50 167.80V172.12M456.10 167.80V164.12M457.30 167.80V160.26M458.90 167.80V176.17M459.30 167.80V163.50M461.30 167.80V163.80M462.10 167.80V174.20M463.70 167.80V172.67M464.50 167.80V174.15M465.30 167.80V161.42M466.50 167.80V164.92M467.30 167.80V170.58M467.70 167.80V164.34M468.10 167.80V164.27M468.90 167.80V171.42M469.30 167.80V170.78M469.70 167.80V164.68M470.90 167.80V171.67M471.30 167.80V165.04M472.10 167.80V171.37M474.90 167.80V180.32M476.90 167.80V163.13M477.30 167.80V163.47M477.70 167.80V170.53M478.10 167.80V164.97M478.50 167.80V171.49M478.90 167.80V170.64M480.90 167.80V172.15M481.70 167.80V164.97M482.10 167.80V163.66M482.90 167.80V177.82M483.70 167.80V181.48M484.50 167.80V173.37M486.10 167.80V171.83M486.90 167.80V170.61M488.10 167.80V163.33M488.50 167.80V170.83M488.90 167.80V163.47M489.70 167.80V171.42M490.10 167.80V174.78M490.50 167.80V173.09M493.30 167.80V165.06M493.70 167.80V170.56M494.10 167.80V171.84M494.50 167.80V164.90M494.90 167.80V164.22M495.30 167.80V171.47M496.50 167.80V163.06M497.30 167.80V170.84M498.10 167.80V164.25M498.50 167.80V164.71M499.30 167.80V171.83M499.70 167.80V171.31M500.50 167.80V163.59M500.90 167.80V165.03M501.30 167.80V165.06M502.10 167.80V164.06M502.90 167.80V171.42M503.30 167.80V172.36M504.50 167.80V163.25M504.90 167.80V162.68M506.50 167.80V154.07M506.90 167.80V177.79M509.70 167.80V172.46M510.90 167.80V171.62M511.30 167.80V170.73M511.70 167.80V163.04M512.10 167.80V171.91M512.90 167.80V174.49M514.90 167.80V170.93M516.10 167.80V170.60M516.50 167.80V171.49M516.90 167.80V172.23M517.70 167.80V164.72M518.10 167.80V164.83M518.50 167.80V163.78M518.90 167.80V170.66M519.70 167.80V170.57M520.10 167.80V170.88M520.50 167.80V164.63M521.30 167.80V164.01M522.10 167.80V164.03M522.50 167.80V164.63M524.10 167.80V164.92M525.70 167.80V164.29M526.10 167.80V164.00M526.50 167.80V163.36M527.30 167.80V171.54M528.90 167.80V175.83M529.70 167.80V178.01M530.10 167.80V177.71M531.30 167.80V175.27M531.70 167.80V173.83M532.10 167.80V162.93M534.90 167.80V159.44M535.30 167.80V164.10M535.70 167.80V163.27M536.90 167.80V174.33M537.30 167.80V178.47M538.10 167.80V158.63M538.50 167.80V171.93" stroke="#3ea2e0" stroke-width="0.45" fill="none"/>
<path d="M446.50 165.15V170.51M446.90 165.39V169.84M447.30 165.94V170.41M447.70 165.86V169.97M448.10 166.28V170.00M448.50 166.14V170.47M448.90 165.05V169.59M449.30 165.80V169.13M449.70 164.85V170.07M450.10 164.88V170.67M450.50 165.43V170.27M450.90 164.80V169.01M451.30 165.53V169.12M451.70 165.65V169.18M452.10 166.05V169.33M452.50 165.01V170.27M452.90 166.02V170.66M453.30 166.07V169.67M453.70 166.54V169.75M454.10 165.89V170.81M454.50 165.38V170.64M454.90 165.67V169.85M455.30 165.87V169.12M455.70 166.14V169.88M456.10 166.32V169.00M456.50 165.60V170.50M456.90 164.90V171.22M457.30 162.71V171.46M457.70 162.89V172.35M458.10 162.78V174.63M458.50 160.80V172.30M458.90 164.31V171.59M459.30 165.15V169.62M459.70 164.85V169.34M460.10 165.96V170.73M460.50 166.53V169.32M460.90 165.49V169.75M461.30 163.95V170.78M461.70 165.15V172.14M462.10 164.54V173.15M462.50 163.16V174.33M462.90 163.19V170.39M463.30 165.92V171.12M463.70 164.25V171.31M464.10 165.45V172.69M464.50 163.64V173.30M464.90 165.40V172.81M465.30 165.34V172.05M465.70 164.75V169.81M466.10 166.58V169.12M466.50 165.44V169.97M466.90 166.55V170.83M467.30 164.85V170.28M467.70 166.43V169.99M468.10 166.51V169.94M468.50 166.11V169.24M468.90 165.91V169.38M469.30 165.85V169.26M469.70 165.16V170.03M470.10 165.81V169.71M470.50 165.60V170.21M470.90 165.43V170.48M471.30 166.33V170.14M471.70 165.21V169.17M472.10 166.46V169.65M472.50 166.22V170.02M472.90 166.09V169.85M473.30 164.65V169.46M473.70 165.65V169.93M474.10 165.32V173.55M474.50 161.93V173.92M474.90 162.97V173.47M475.30 160.85V171.90M475.70 164.20V173.63M476.10 162.42V172.22M476.50 164.28V169.59M476.90 166.58V169.65M477.30 164.90V170.75M477.70 166.38V168.97M478.10 166.48V170.07M478.50 166.30V170.80M478.90 165.46V169.86M479.30 166.28V169.80M479.70 165.56V170.75M480.10 165.67V169.18M480.50 165.75V170.58M480.90 165.33V170.49M481.30 166.35V170.69M481.70 165.03V169.59M482.10 164.08V170.27M482.50 163.67V172.42M482.90 164.89V171.92M483.30 162.18V175.58M483.70 160.34V173.71M484.10 162.31V174.55M484.50 162.51V170.34M484.90 163.88V170.06M485.30 166.25V170.57M485.70 166.48V170.81M486.10 166.41V169.62M486.50 166.31V169.30M486.90 165.02V170.35M487.30 165.78V170.47M487.70 165.26V170.79M488.10 164.92V169.47M488.50 164.77V169.82M488.90 165.92V170.13M489.30 165.07V169.23M489.70 165.71V169.76M490.10 165.84V170.70M490.50 163.22V171.67M490.90 162.24V174.13M491.30 164.50V170.53M491.70 165.56V170.50M492.10 165.79V170.81M492.50 166.56V170.37M492.90 165.47V168.96M493.30 165.71V169.97M493.70 166.25V169.53M494.10 165.32V170.62M494.50 166.47V170.61M494.90 164.90V169.37M495.30 165.41V169.12M495.70 165.49V169.46M496.10 164.81V169.87M496.50 165.06V169.43M496.90 165.84V169.66M497.30 165.61V170.65M497.70 166.04V170.21M498.10 166.50V169.17M498.50 166.15V168.96M498.90 165.52V170.57M499.30 165.24V169.49M499.70 166.19V168.98M500.10 166.36V170.44M500.50 165.01V170.66M500.90 166.42V169.71M501.30 166.31V169.21M501.70 166.03V169.75M502.10 165.49V169.88M502.50 166.31V169.17M502.90 166.38V169.38M503.30 165.53V170.08M503.70 165.88V169.70M504.10 166.42V170.17M504.50 165.96V169.90M504.90 165.73V170.62M505.30 164.27V170.50M505.70 163.73V170.48M506.10 164.28V173.22M506.50 162.00V172.84M506.90 160.37V173.85M507.30 161.81V174.40M507.70 164.58V171.06M508.10 165.03V169.53M508.50 166.43V169.61M508.90 165.49V169.97M509.30 165.50V170.79M509.70 166.15V170.43M510.10 165.85V169.29M510.50 165.98V168.98M510.90 166.63V169.04M511.30 165.73V170.72M511.70 166.44V169.05M512.10 165.97V169.65M512.50 166.12V169.31M512.90 164.68V170.76M513.30 162.49V172.26M513.70 165.60V173.09M514.10 165.97V169.64M514.50 165.38V169.32M514.90 166.46V170.03M515.30 165.81V170.40M515.70 166.63V169.57M516.10 166.08V170.09M516.50 166.24V169.35M516.90 165.51V169.90M517.30 164.95V170.74M517.70 166.27V170.28M518.10 166.58V169.78M518.50 165.22V170.19M518.90 165.97V169.73M519.30 165.52V170.19M519.70 165.70V170.14M520.10 165.77V168.98M520.50 165.06V169.03M520.90 166.10V170.83M521.30 166.13V170.43M521.70 165.43V170.09M522.10 165.55V170.68M522.50 166.51V170.81M522.90 166.26V170.57M523.30 165.92V170.02M523.70 166.53V170.19M524.10 165.50V169.95M524.50 165.97V169.49M524.90 166.34V169.19M525.30 165.79V169.17M525.70 166.57V169.66M526.10 164.89V170.05M526.50 165.59V170.08M526.90 164.88V169.76M527.30 166.44V169.92M527.70 166.46V169.09M528.10 166.26V170.24M528.50 164.21V169.39M528.90 162.88V169.99M529.30 162.27V173.59M529.70 163.73V171.66M530.10 158.47V172.78M530.50 162.52V177.08M530.90 160.33V171.73M531.30 163.14V174.03M531.70 164.45V172.16M532.10 165.00V172.54M532.50 165.09V169.81M532.90 166.10V170.30M533.30 165.24V170.25M533.70 162.38V173.22M534.10 161.81V170.92M534.50 164.64V170.38M534.90 165.72V169.96M535.30 164.15V171.68M535.70 165.23V170.47M536.10 165.98V170.59M536.50 162.45V173.52M536.90 160.71V173.28M537.30 159.72V175.20M537.70 160.60V173.76M538.10 162.03V173.60M538.50 166.05V170.40M538.90 165.78V169.29" stroke="#0c74ca" stroke-width="0.6" fill="none"/>
</g>
<rect x="446.20" y="146.60" width="93.20" height="46.60" fill="none" stroke="#767676" stroke-width="0.5"/>
<path d="M446.20 148.30h1.0M539.40 148.30h-1.0" stroke="#767676" stroke-width="0.5"/>
<text x="444.20" y="150.42" font-size="5.9" text-anchor="end" fill="#262626" >0.05</text>
<path d="M446.20 168.65h1.0M539.40 168.65h-1.0" stroke="#767676" stroke-width="0.5"/>
<text x="444.20" y="170.77" font-size="5.9" text-anchor="end" fill="#262626" >0</text>
<path d="M446.20 189.00h1.0M539.40 189.00h-1.0" stroke="#767676" stroke-width="0.5"/>
<text x="444.20" y="191.12" font-size="5.9" text-anchor="end" fill="#262626" >-0.05</text>
<path d="M464.84 193.20v-1.0M464.84 146.60v1.0" stroke="#767676" stroke-width="0.5"/>
<text x="464.84" y="201.52" font-size="5.9" text-anchor="middle" fill="#262626" >2000</text>
<path d="M483.48 193.20v-1.0M483.48 146.60v1.0" stroke="#767676" stroke-width="0.5"/>
<text x="483.48" y="201.52" font-size="5.9" text-anchor="middle" fill="#262626" >4000</text>
<path d="M502.12 193.20v-1.0M502.12 146.60v1.0" stroke="#767676" stroke-width="0.5"/>
<text x="502.12" y="201.52" font-size="5.9" text-anchor="middle" fill="#262626" >6000</text>
<path d="M520.76 193.20v-1.0M520.76 146.60v1.0" stroke="#767676" stroke-width="0.5"/>
<text x="520.76" y="201.52" font-size="5.9" text-anchor="middle" fill="#262626" >8000</text>
<path d="M539.40 193.20v-1.0M539.40 146.60v1.0" stroke="#767676" stroke-width="0.5"/>
<text x="539.40" y="201.52" font-size="5.9" text-anchor="middle" fill="#262626" >10000</text>
<clipPath id="c7"><rect x="319.40" y="249.80" width="93.10" height="46.50"/></clipPath>
<g clip-path="url(#c7)">
<path d="M329.50 251.70V295.90M344.60 250.60V295.90M359.90 251.70V295.90M374.10 255.20V293.10M388.30 252.30V296.00M403.60 251.20V296.00" stroke="#38a0e2" stroke-width="1.1" fill="none"/>
<path d="M329.50 266.61V279.87M344.60 266.28V279.87M359.90 266.61V279.87M374.10 267.66V279.03M388.30 266.79V279.90M403.60 266.46V279.90" stroke="#1b82d0" stroke-width="1.1" fill="none"/>
<path d="M320.50 273.00V268.11M322.50 273.00V274.47M323.30 273.00V271.67M326.10 273.00V274.80M327.70 273.00V275.48M328.50 273.00V268.61M334.10 273.00V268.91M334.50 273.00V267.96M334.90 273.00V268.69M335.30 273.00V270.44M336.90 273.00V274.32M340.50 273.00V271.55M342.90 273.00V275.73M344.90 273.00V281.26M349.70 273.00V277.10M350.90 273.00V271.31M354.10 273.00V271.42M354.90 273.00V274.85M358.10 273.00V275.94M359.70 273.00V281.70M360.10 273.00V265.44M362.50 273.00V271.67M363.30 273.00V271.50M366.50 273.00V274.34M366.90 273.00V275.00M367.70 273.00V271.42M370.10 273.00V271.68M378.50 273.00V269.46M384.50 273.00V271.50M386.90 273.00V268.92M388.90 273.00V266.54M389.70 273.00V269.71M390.90 273.00V271.62M392.10 273.00V271.50M395.70 273.00V274.85M396.10 273.00V274.54M396.90 273.00V274.65M399.30 273.00V274.65M402.50 273.00V269.16M405.30 273.00V270.66M405.70 273.00V271.67M407.70 273.00V271.68M408.10 273.00V270.85M409.30 273.00V278.50M410.10 273.00V275.04M411.70 273.00V274.90M412.10 273.00V271.58" stroke="#3ea2e0" stroke-width="0.45" fill="none"/>
<path d="M319.70 270.98V274.79M320.10 270.46V276.49M320.50 270.49V276.44M320.90 271.29V275.16M321.30 272.15V273.92M321.70 271.60V274.15M322.10 271.59V273.80M322.50 272.04V273.87M322.90 272.11V274.15M323.30 271.98V274.13M323.70 271.78V274.05M324.10 271.84V274.07M324.50 271.71V274.23M324.90 271.85V274.12M325.30 271.75V273.96M325.70 272.15V274.05M326.10 272.13V274.09M326.50 271.85V274.35M326.90 271.77V274.16M327.30 271.93V274.32M327.70 271.54V274.63M328.10 270.08V275.69M328.50 270.18V276.33M328.90 270.08V275.79M329.30 269.45V276.87M329.70 267.42V276.42M330.10 269.09V277.67M330.50 269.31V275.62M330.90 270.94V275.77M331.30 271.83V274.20M331.70 272.08V274.09M332.10 272.06V273.77M332.50 271.99V274.14M332.90 271.77V274.11M333.30 271.78V273.81M333.70 271.38V274.70M334.10 270.61V275.40M334.50 270.25V276.06M334.90 270.81V275.48M335.30 270.59V275.10M335.70 271.99V273.85M336.10 271.57V274.08M336.50 272.17V273.84M336.90 272.06V274.32M337.30 271.88V273.87M337.70 272.21V274.12M338.10 271.66V274.23M338.50 271.99V273.88M338.90 271.88V274.28M339.30 272.08V274.31M339.70 271.67V274.30M340.10 271.74V273.92M340.50 272.00V273.79M340.90 271.77V274.40M341.30 271.61V274.42M341.70 271.99V273.92M342.10 272.10V273.90M342.50 271.64V274.32M342.90 271.17V274.98M343.30 270.14V275.81M343.70 270.40V276.78M344.10 268.29V278.12M344.50 268.52V279.03M344.90 269.49V276.39M345.30 270.16V277.31M345.70 269.90V275.58M346.10 271.39V274.46M346.50 271.59V274.31M346.90 271.94V274.35M347.30 272.09V273.94M347.70 272.07V274.16M348.10 271.95V273.86M348.50 272.00V274.07M348.90 271.63V274.05M349.30 270.74V275.30M349.70 270.57V276.30M350.10 270.25V276.37M350.50 270.66V275.02M350.90 271.86V274.29M351.30 272.05V274.28M351.70 271.86V274.27M352.10 271.94V274.17M352.50 271.89V274.23M352.90 271.88V274.09M353.30 271.77V274.35M353.70 272.06V274.14M354.10 271.68V273.86M354.50 272.07V273.82M354.90 271.71V274.36M355.30 272.14V274.35M355.70 272.09V274.40M356.10 271.91V274.42M356.50 272.12V274.05M356.90 272.01V273.90M357.30 271.75V273.78M357.70 271.94V273.78M358.10 271.40V274.50M358.50 270.11V274.72M358.90 270.81V276.53M359.30 270.05V276.62M359.70 267.56V276.90M360.10 267.89V276.44M360.50 270.18V277.79M360.90 269.43V275.27M361.30 271.33V275.75M361.70 271.66V274.53M362.10 272.05V273.86M362.50 272.07V273.84M362.90 272.02V273.97M363.30 272.04V274.10M363.70 272.06V273.78M364.10 271.57V274.13M364.50 269.78V274.95M364.90 269.44V276.70M365.30 270.07V276.14M365.70 270.46V274.78M366.10 271.76V274.19M366.50 272.00V273.81M366.90 272.06V273.88M367.30 271.79V273.96M367.70 272.04V274.07M368.10 271.60V274.41M368.50 272.07V274.41M368.90 271.99V273.77M369.30 271.92V274.10M369.70 271.90V273.77M370.10 272.17V274.03M370.50 272.08V274.16M370.90 271.73V274.20M371.30 271.65V274.03M371.70 271.58V273.87M372.10 271.81V273.80M372.50 270.69V275.01M372.90 269.87V275.07M373.30 269.58V277.10M373.70 268.00V277.39M374.10 267.51V278.52M374.50 270.00V276.26M374.90 270.40V277.10M375.30 270.16V275.84M375.70 271.14V274.31M376.10 271.74V274.10M376.50 271.79V273.81M376.90 272.06V273.82M377.30 271.75V273.91M377.70 271.59V274.10M378.10 271.34V274.87M378.50 269.96V276.08M378.90 268.42V276.53M379.30 270.99V275.09M379.70 271.15V274.87M380.10 272.04V274.11M380.50 271.92V273.85M380.90 272.10V274.42M381.30 272.22V274.07M381.70 271.59V274.07M382.10 272.09V274.39M382.50 271.85V273.86M382.90 271.60V273.86M383.30 271.89V274.36M383.70 272.08V274.36M384.10 272.21V273.77M384.50 271.93V273.97M384.90 271.68V273.77M385.30 271.68V273.85M385.70 271.76V274.37M386.10 271.98V274.03M386.50 271.44V274.36M386.90 271.05V274.64M387.30 269.18V275.57M387.70 269.18V276.09M388.10 267.19V278.62M388.50 268.08V278.70M388.90 269.09V277.29M389.30 269.52V276.29M389.70 271.36V275.83M390.10 271.70V274.70M390.50 272.06V274.20M390.90 271.86V274.03M391.30 271.63V274.10M391.70 271.63V274.43M392.10 272.14V273.90M392.50 272.07V273.94M392.90 270.57V275.27M393.30 270.03V276.18M393.70 269.65V275.74M394.10 269.73V274.98M394.50 271.50V274.69M394.90 272.05V273.93M395.30 271.94V274.40M395.70 271.65V273.78M396.10 271.92V274.16M396.50 271.69V274.33M396.90 272.07V273.84M397.30 271.61V274.25M397.70 271.73V274.07M398.10 272.20V274.29M398.50 271.62V274.20M398.90 272.15V273.94M399.30 271.77V273.84M399.70 271.97V273.92M400.10 272.22V273.97M400.50 271.60V274.20M400.90 271.92V273.92M401.30 271.60V274.24M401.70 272.08V274.29M402.10 271.04V274.76M402.50 269.44V275.37M402.90 269.00V275.95M403.30 268.00V277.39M403.70 266.90V277.22M404.10 269.66V276.32M404.50 270.18V277.09M404.90 271.01V275.04M405.30 271.16V275.13M405.70 271.59V273.86M406.10 271.64V274.35M406.50 271.57V274.38M406.90 272.11V274.39M407.30 272.21V274.21M407.70 271.98V273.99M408.10 272.00V274.40M408.50 271.46V275.00M408.90 270.28V275.07M409.30 269.31V278.01M409.70 270.96V275.69M410.10 271.05V274.22M410.50 272.06V274.26M410.90 272.01V273.95M411.30 271.82V273.94M411.70 272.02V273.95M412.10 271.81V274.39" stroke="#0c74ca" stroke-width="0.6" fill="none"/>
</g>
<rect x="319.40" y="249.80" width="93.10" height="46.50" fill="none" stroke="#767676" stroke-width="0.5"/>
<path d="M319.40 249.80h1.0M412.50 249.80h-1.0" stroke="#767676" stroke-width="0.5"/>
<text x="317.40" y="251.92" font-size="5.9" text-anchor="end" fill="#262626" >1</text>
<path d="M319.40 273.05h1.0M412.50 273.05h-1.0" stroke="#767676" stroke-width="0.5"/>
<text x="317.40" y="275.17" font-size="5.9" text-anchor="end" fill="#262626" >0</text>
<path d="M319.40 296.30h1.0M412.50 296.30h-1.0" stroke="#767676" stroke-width="0.5"/>
<text x="317.40" y="298.42" font-size="5.9" text-anchor="end" fill="#262626" >-1</text>
<path d="M319.40 296.30v-1.0M319.40 249.80v1.0" stroke="#767676" stroke-width="0.5"/>
<text x="319.40" y="304.62" font-size="5.9" text-anchor="middle" fill="#262626" >0</text>
<path d="M338.02 296.30v-1.0M338.02 249.80v1.0" stroke="#767676" stroke-width="0.5"/>
<text x="338.02" y="304.62" font-size="5.9" text-anchor="middle" fill="#262626" >2000</text>
<path d="M356.64 296.30v-1.0M356.64 249.80v1.0" stroke="#767676" stroke-width="0.5"/>
<text x="356.64" y="304.62" font-size="5.9" text-anchor="middle" fill="#262626" >4000</text>
<path d="M375.26 296.30v-1.0M375.26 249.80v1.0" stroke="#767676" stroke-width="0.5"/>
<text x="375.26" y="304.62" font-size="5.9" text-anchor="middle" fill="#262626" >6000</text>
<path d="M393.88 296.30v-1.0M393.88 249.80v1.0" stroke="#767676" stroke-width="0.5"/>
<text x="393.88" y="304.62" font-size="5.9" text-anchor="middle" fill="#262626" >8000</text>
<path d="M412.50 296.30v-1.0M412.50 249.80v1.0" stroke="#767676" stroke-width="0.5"/>
<text x="412.50" y="304.62" font-size="5.9" text-anchor="middle" fill="#262626" >10000</text>
<clipPath id="c8"><rect x="446.20" y="249.50" width="93.20" height="46.80"/></clipPath>
<g clip-path="url(#c8)">
<path d="M452.60 248.50V297.30M468.30 248.50V297.30M483.60 248.00V292.40M500.10 248.50V297.30M516.40 248.50V297.30M533.10 248.50V297.30" stroke="#38a0e2" stroke-width="1.1" fill="none"/>
<path d="M452.60 265.02V279.66M468.30 265.02V279.66M483.60 264.87V278.19M500.10 265.02V279.66M516.40 265.02V279.66M533.10 265.02V279.66" stroke="#1b82d0" stroke-width="1.1" fill="none"/>
<path d="M446.50 272.10V270.26M448.10 272.10V270.66M448.50 272.10V273.54M450.10 272.10V269.97M451.30 272.10V267.85M452.10 272.10V277.07M454.10 272.10V269.21M454.90 272.10V270.19M456.10 272.10V270.76M457.30 272.10V274.84M460.10 272.10V270.39M461.30 272.10V270.52M466.10 272.10V273.62M468.90 272.10V265.25M472.10 272.10V273.84M472.90 272.10V273.84M473.30 272.10V275.85M474.90 272.10V269.75M475.70 272.10V270.69M476.10 272.10V273.43M477.70 272.10V270.62M478.10 272.10V274.16M482.10 272.10V274.95M482.90 272.10V276.65M483.70 272.10V262.59M486.50 272.10V270.68M490.10 272.10V274.19M491.30 272.10V273.43M494.50 272.10V273.47M495.70 272.10V270.77M497.30 272.10V274.06M500.10 272.10V265.69M501.30 272.10V275.51M504.50 272.10V266.42M505.70 272.10V274.58M508.10 272.10V274.20M509.30 272.10V274.04M510.90 272.10V273.78M511.30 272.10V270.75M512.50 272.10V273.75M513.30 272.10V273.72M513.70 272.10V270.74M514.90 272.10V269.59M515.70 272.10V265.08M521.70 272.10V274.47M522.90 272.10V274.27M523.70 272.10V270.75M525.70 272.10V273.54M527.30 272.10V273.55M528.10 272.10V273.69M531.30 272.10V269.73M536.50 272.10V273.85M536.90 272.10V273.97M538.50 272.10V277.83" stroke="#3ea2e0" stroke-width="0.45" fill="none"/>
<path d="M446.50 271.18V273.51M446.90 271.17V273.53M447.30 270.91V273.17M447.70 271.00V273.00M448.10 271.27V273.02M448.50 270.73V273.12M448.90 271.29V273.28M449.30 270.89V273.09M449.70 271.00V273.30M450.10 270.95V272.96M450.50 271.20V273.49M450.90 270.19V274.16M451.30 269.86V275.10M451.70 268.52V275.71M452.10 267.29V276.10M452.50 267.31V275.63M452.90 267.71V277.00M453.30 269.05V274.65M453.70 269.66V274.80M454.10 269.62V274.65M454.50 270.68V273.76M454.90 270.82V273.07M455.30 271.22V273.16M455.70 271.06V273.16M456.10 270.94V273.06M456.50 270.99V273.11M456.90 271.00V273.34M457.30 270.65V273.50M457.70 268.51V274.95M458.10 269.50V276.56M458.50 268.98V273.94M458.90 270.49V273.90M459.30 271.21V273.51M459.70 271.27V273.27M460.10 271.02V272.97M460.50 271.25V273.16M460.90 270.86V273.18M461.30 271.09V273.02M461.70 270.85V273.34M462.10 271.32V273.11M462.50 271.27V273.51M462.90 271.00V273.34M463.30 271.18V273.22M463.70 270.90V272.87M464.10 270.73V273.36M464.50 270.68V273.02M464.90 270.97V273.51M465.30 270.71V273.43M465.70 270.92V273.50M466.10 271.13V273.43M466.50 270.31V273.42M466.90 269.69V274.82M467.30 268.28V275.54M467.70 268.07V275.58M468.10 267.56V276.74M468.50 268.17V275.48M468.90 268.83V275.71M469.30 269.45V275.68M469.70 270.15V274.88M470.10 270.74V274.00M470.50 270.84V273.03M470.90 270.94V273.42M471.30 270.81V273.39M471.70 270.90V273.38M472.10 270.72V273.39M472.50 271.27V273.18M472.90 270.73V273.48M473.30 269.95V273.86M473.70 268.68V274.98M474.10 267.69V276.31M474.50 269.83V274.34M474.90 270.85V273.51M475.30 271.22V273.04M475.70 271.05V273.39M476.10 271.21V273.36M476.50 270.84V273.41M476.90 271.11V273.45M477.30 271.01V273.24M477.70 270.67V273.48M478.10 271.22V273.37M478.50 270.92V273.14M478.90 270.95V273.46M479.30 270.87V273.52M479.70 271.09V273.43M480.10 271.13V273.32M480.50 271.25V273.42M480.90 270.69V273.22M481.30 271.14V273.01M481.70 270.60V273.64M482.10 270.50V274.03M482.50 269.53V275.27M482.90 269.27V276.11M483.30 268.71V277.69M483.70 266.97V278.19M484.10 267.87V276.46M484.50 269.16V276.18M484.90 269.69V274.06M485.30 270.56V273.62M485.70 270.80V273.12M486.10 271.30V272.96M486.50 270.74V273.08M486.90 271.09V273.24M487.30 270.90V273.39M487.70 270.84V273.26M488.10 270.77V273.06M488.50 270.47V273.91M488.90 269.00V274.67M489.30 267.53V275.77M489.70 269.33V274.89M490.10 270.37V273.99M490.50 271.27V273.39M490.90 271.19V273.29M491.30 270.75V273.00M491.70 271.19V273.08M492.10 270.84V273.36M492.50 270.91V272.88M492.90 271.11V273.43M493.30 270.73V272.87M493.70 271.27V273.21M494.10 270.68V273.34M494.50 270.73V273.15M494.90 270.70V273.31M495.30 270.94V273.30M495.70 270.87V273.00M496.10 270.87V273.02M496.50 270.87V273.04M496.90 270.93V273.14M497.30 270.87V273.33M497.70 270.76V273.38M498.10 270.86V273.08M498.50 270.70V273.80M498.90 268.85V275.03M499.30 267.93V276.47M499.70 267.63V276.20M500.10 266.27V277.38M500.50 267.36V276.52M500.90 268.31V275.64M501.30 269.55V275.52M501.70 269.85V274.44M502.10 270.82V272.95M502.50 270.76V273.31M502.90 270.93V273.19M503.30 270.75V273.51M503.70 270.83V273.49M504.10 270.42V273.65M504.50 269.12V275.13M504.90 267.99V275.38M505.30 269.98V274.66M505.70 270.61V273.77M506.10 270.92V273.51M506.50 271.01V273.18M506.90 270.75V273.23M507.30 270.87V273.21M507.70 271.07V273.17M508.10 270.80V272.98M508.50 270.87V273.47M508.90 270.96V273.50M509.30 271.04V272.99M509.70 271.09V273.22M510.10 270.93V273.05M510.50 270.97V273.34M510.90 271.04V273.33M511.30 270.91V273.06M511.70 271.21V273.19M512.10 270.86V273.16M512.50 271.31V273.10M512.90 270.95V273.16M513.30 271.11V272.94M513.70 271.26V273.43M514.10 271.11V273.21M514.50 270.73V273.61M514.90 269.82V274.06M515.30 269.36V274.55M515.70 268.14V276.61M516.10 266.71V277.74M516.50 266.49V276.87M516.90 267.26V277.14M517.30 269.42V276.12M517.70 269.06V274.14M518.10 270.77V273.42M518.50 270.72V273.13M518.90 271.14V272.92M519.30 271.00V273.09M519.70 271.13V273.52M520.10 270.64V273.16M520.50 269.36V274.88M520.90 267.89V276.92M521.30 269.83V275.47M521.70 270.08V274.59M522.10 271.26V272.96M522.50 271.09V273.45M522.90 270.89V273.11M523.30 270.72V273.21M523.70 270.92V273.15M524.10 271.23V273.05M524.50 270.71V273.45M524.90 270.83V272.98M525.30 270.69V273.39M525.70 270.92V273.07M526.10 270.98V273.28M526.50 271.14V272.96M526.90 270.93V272.89M527.30 270.85V273.37M527.70 270.89V273.10M528.10 271.13V273.46M528.50 270.87V273.37M528.90 270.92V273.23M529.30 270.98V273.50M529.70 271.33V273.06M530.10 271.25V272.88M530.50 270.87V273.52M530.90 270.92V273.33M531.30 270.30V273.76M531.70 270.07V274.13M532.10 269.58V274.90M532.50 268.98V275.79M532.90 266.93V277.47M533.30 266.53V276.64M533.70 269.23V275.64M534.10 268.37V275.12M534.50 269.62V274.97M534.90 270.34V273.73M535.30 270.96V273.13M535.70 271.16V273.09M536.10 270.76V273.03M536.50 271.16V273.19M536.90 270.73V273.11M537.30 271.20V272.91M537.70 271.08V273.21M538.10 269.68V273.63M538.50 269.84V275.58M538.90 268.36V275.29" stroke="#0c74ca" stroke-width="0.6" fill="none"/>
</g>
<rect x="446.20" y="249.50" width="93.20" height="46.80" fill="none" stroke="#767676" stroke-width="0.5"/>
<path d="M446.20 260.10h1.0M539.40 260.10h-1.0" stroke="#767676" stroke-width="0.5"/>
<text x="444.20" y="262.22" font-size="5.9" text-anchor="end" fill="#262626" >0.5</text>
<path d="M446.20 272.17h1.0M539.40 272.17h-1.0" stroke="#767676" stroke-width="0.5"/>
<text x="444.20" y="274.29" font-size="5.9" text-anchor="end" fill="#262626" >0</text>
<path d="M446.20 284.23h1.0M539.40 284.23h-1.0" stroke="#767676" stroke-width="0.5"/>
<text x="444.20" y="286.36" font-size="5.9" text-anchor="end" fill="#262626" >-0.5</text>
<path d="M446.20 296.30h1.0M539.40 296.30h-1.0" stroke="#767676" stroke-width="0.5"/>
<text x="444.20" y="298.42" font-size="5.9" text-anchor="end" fill="#262626" >-1</text>
<path d="M464.84 296.30v-1.0M464.84 249.50v1.0" stroke="#767676" stroke-width="0.5"/>
<text x="464.84" y="304.62" font-size="5.9" text-anchor="middle" fill="#262626" >2000</text>
<path d="M483.48 296.30v-1.0M483.48 249.50v1.0" stroke="#767676" stroke-width="0.5"/>
<text x="483.48" y="304.62" font-size="5.9" text-anchor="middle" fill="#262626" >4000</text>
<path d="M502.12 296.30v-1.0M502.12 249.50v1.0" stroke="#767676" stroke-width="0.5"/>
<text x="502.12" y="304.62" font-size="5.9" text-anchor="middle" fill="#262626" >6000</text>
<path d="M520.76 296.30v-1.0M520.76 249.50v1.0" stroke="#767676" stroke-width="0.5"/>
<text x="520.76" y="304.62" font-size="5.9" text-anchor="middle" fill="#262626" >8000</text>
<path d="M539.40 296.30v-1.0M539.40 249.50v1.0" stroke="#767676" stroke-width="0.5"/>
<text x="539.40" y="304.62" font-size="5.9" text-anchor="middle" fill="#262626" >10000</text>
<clipPath id="c9"><rect x="319.40" y="314.20" width="93.10" height="47.10"/></clipPath>
<g clip-path="url(#c9)">
<path d="M327.50 316.70V358.00M341.50 316.20V362.00M355.30 314.00V362.00M370.70 313.20V362.30M387.00 313.20V362.30M402.20 313.20V362.30" stroke="#38a0e2" stroke-width="1.1" fill="none"/>
<path d="M327.50 330.77V343.16M341.50 330.62V344.36M355.30 329.96V344.36M370.70 329.72V344.45M387.00 329.72V344.45M402.20 329.72V344.45" stroke="#1b82d0" stroke-width="1.1" fill="none"/>
<path d="M319.70 336.80V334.77M320.10 336.80V338.48M320.90 336.80V335.38M322.50 336.80V335.36M322.90 336.80V338.85M324.10 336.80V338.51M324.50 336.80V335.13M325.70 336.80V339.15M328.10 336.80V341.98M328.90 336.80V332.80M330.10 336.80V338.73M332.50 336.80V342.30M332.90 336.80V331.70M333.70 336.80V338.85M336.10 336.80V334.87M336.90 336.80V338.41M337.30 336.80V338.99M341.30 336.80V342.58M342.10 336.80V330.17M343.70 336.80V335.39M346.90 336.80V333.45M348.10 336.80V335.32M349.70 336.80V335.26M350.10 336.80V338.65M351.70 336.80V335.12M352.90 336.80V338.12M353.30 336.80V338.15M354.10 336.80V332.42M357.70 336.80V338.19M358.10 336.80V338.21M364.10 336.80V332.50M365.30 336.80V338.33M367.30 336.80V338.13M368.10 336.80V335.33M369.30 336.80V332.94M370.90 336.80V343.86M374.50 336.80V338.58M374.90 336.80V334.81M375.70 336.80V331.88M377.30 336.80V338.69M379.70 336.80V338.41M381.70 336.80V338.12M384.50 336.80V335.25M384.90 336.80V338.20M385.30 336.80V339.73M386.10 336.80V340.73M388.90 336.80V334.77M390.50 336.80V335.46M392.90 336.80V338.86M394.50 336.80V335.19M395.30 336.80V338.73M396.10 336.80V335.31M396.50 336.80V335.26M397.30 336.80V338.76M398.50 336.80V334.81M399.70 336.80V338.63M400.50 336.80V334.20M400.90 336.80V333.70M405.70 336.80V335.47M406.10 336.80V338.92M406.90 336.80V333.46M408.10 336.80V333.71M410.90 336.80V335.27" stroke="#3ea2e0" stroke-width="0.45" fill="none"/>
<path d="M319.70 335.72V337.82M320.10 335.70V338.16M320.50 336.00V337.82M320.90 335.73V338.05M321.30 335.70V338.18M321.70 335.52V337.82M322.10 335.96V337.76M322.50 335.55V337.85M322.90 335.84V338.10M323.30 335.99V337.82M323.70 336.01V337.85M324.10 335.96V337.96M324.50 335.90V337.58M324.90 335.97V337.90M325.30 335.75V337.83M325.70 335.68V338.36M326.10 335.15V339.13M326.50 334.41V339.40M326.90 331.87V339.73M327.30 331.00V340.64M327.70 333.49V341.00M328.10 332.80V341.22M328.50 333.62V339.74M328.90 333.89V339.16M329.30 335.37V338.03M329.70 335.82V337.63M330.10 335.96V338.09M330.50 335.70V338.04M330.90 335.54V337.85M331.30 335.39V337.83M331.70 335.46V337.81M332.10 335.45V338.83M332.50 334.73V340.45M332.90 332.54V339.63M333.30 333.77V340.43M333.70 335.48V338.54M334.10 335.57V337.61M334.50 335.57V338.07M334.90 335.44V337.68M335.30 335.52V338.15M335.70 335.96V337.60M336.10 335.92V337.99M336.50 336.02V337.69M336.90 335.66V337.83M337.30 335.68V338.19M337.70 335.67V337.92M338.10 335.43V337.61M338.50 335.67V337.77M338.90 335.55V337.64M339.30 335.73V337.89M339.70 335.71V338.38M340.10 334.03V338.69M340.50 333.36V340.05M340.90 334.06V340.82M341.30 331.75V341.11M341.70 333.11V340.17M342.10 333.07V340.68M342.50 333.26V338.93M342.90 334.42V339.70M343.30 335.02V337.93M343.70 335.88V338.08M344.10 335.95V338.19M344.50 335.78V338.06M344.90 335.69V337.81M345.30 335.87V337.74M345.70 335.19V338.70M346.10 334.57V339.18M346.50 334.07V339.96M346.90 334.09V338.92M347.30 335.16V338.59M347.70 335.43V338.18M348.10 335.42V338.21M348.50 335.63V337.89M348.90 335.48V337.83M349.30 335.85V337.87M349.70 335.65V337.86M350.10 335.92V337.93M350.50 335.94V337.98M350.90 335.73V337.97M351.30 335.45V338.05M351.70 335.67V337.79M352.10 335.46V337.78M352.50 335.69V337.64M352.90 335.84V337.92M353.30 336.00V337.67M353.70 334.37V338.84M354.10 333.54V339.45M354.50 333.86V339.84M354.90 333.42V341.26M355.30 331.64V340.29M355.70 333.82V340.93M356.10 333.03V341.05M356.50 334.52V338.88M356.90 334.73V338.37M357.30 335.54V337.80M357.70 335.67V338.18M358.10 335.59V337.63M358.50 335.43V337.71M358.90 335.58V337.85M359.30 335.37V338.19M359.70 335.70V337.61M360.10 334.68V339.01M360.50 332.43V340.33M360.90 332.43V339.37M361.30 334.01V339.42M361.70 335.91V337.92M362.10 335.67V338.01M362.50 335.92V337.61M362.90 335.65V337.70M363.30 334.83V338.56M363.70 334.33V340.03M364.10 333.47V341.17M364.50 334.44V338.65M364.90 335.68V337.95M365.30 335.51V338.18M365.70 335.77V337.76M366.10 335.91V338.13M366.50 335.97V338.21M366.90 335.86V337.97M367.30 335.80V337.58M367.70 335.82V338.13M368.10 336.02V337.88M368.50 335.91V337.99M368.90 335.43V338.41M369.30 333.98V339.13M369.70 334.60V338.95M370.10 332.53V340.27M370.50 331.67V340.20M370.90 331.66V342.58M371.30 332.22V340.29M371.70 333.05V339.55M372.10 334.01V338.42M372.50 335.48V338.25M372.90 335.50V337.92M373.30 335.96V338.15M373.70 335.58V337.72M374.10 335.73V337.61M374.50 335.76V338.20M374.90 335.29V338.13M375.30 333.57V340.07M375.70 332.02V339.77M376.10 334.39V340.07M376.50 334.70V338.63M376.90 335.39V337.69M377.30 335.68V338.01M377.70 335.90V337.88M378.10 335.72V338.07M378.50 335.82V338.02M378.90 335.72V337.96M379.30 335.72V337.63M379.70 335.52V338.05M380.10 335.68V337.67M380.50 335.57V337.92M380.90 335.65V337.58M381.30 335.57V337.62M381.70 335.57V338.07M382.10 335.69V337.86M382.50 335.52V337.82M382.90 335.92V338.22M383.30 335.82V337.88M383.70 335.82V338.03M384.10 335.40V337.74M384.50 335.63V338.10M384.90 335.49V337.87M385.30 334.74V338.55M385.70 334.67V339.22M386.10 334.44V340.47M386.50 333.78V341.41M386.90 332.75V341.19M387.30 331.88V342.41M387.70 333.21V340.48M388.10 333.60V339.24M388.50 334.49V338.56M388.90 335.33V337.85M389.30 335.70V337.97M389.70 335.77V337.93M390.10 335.94V337.79M390.50 335.79V338.18M390.90 335.72V337.81M391.30 334.61V339.59M391.70 333.12V339.72M392.10 334.08V339.32M392.50 334.86V338.60M392.90 335.95V337.73M393.30 335.91V337.62M393.70 335.95V338.04M394.10 335.64V337.89M394.50 335.84V338.00M394.90 335.79V338.16M395.30 335.60V338.00M395.70 335.54V337.91M396.10 335.41V337.75M396.50 335.87V337.62M396.90 335.71V338.13M397.30 336.00V338.05M397.70 335.67V337.86M398.10 335.89V338.16M398.50 335.97V337.71M398.90 335.65V337.75M399.30 335.51V337.93M399.70 335.54V337.66M400.10 335.52V338.03M400.50 334.69V338.55M400.90 334.05V339.03M401.30 333.13V340.38M401.70 333.25V341.34M402.10 332.06V340.69M402.50 332.58V341.10M402.90 333.31V340.34M403.30 333.55V339.35M403.70 334.53V338.41M404.10 335.84V337.90M404.50 335.95V337.75M404.90 335.41V338.21M405.30 335.61V338.12M405.70 335.82V337.67M406.10 335.55V337.96M406.50 335.76V337.81M406.90 334.63V339.06M407.30 334.50V339.08M407.70 333.68V339.99M408.10 334.41V338.90M408.50 335.48V337.84M408.90 335.80V337.58M409.30 335.93V337.69M409.70 335.75V337.81M410.10 335.55V337.98M410.50 335.56V337.80M410.90 336.02V337.69M411.30 335.77V337.99M411.70 335.71V338.02M412.10 335.40V337.81" stroke="#0c74ca" stroke-width="0.6" fill="none"/>
</g>
<rect x="319.40" y="314.20" width="93.10" height="47.10" fill="none" stroke="#767676" stroke-width="0.5"/>
<path d="M319.40 325.10h1.0M412.50 325.10h-1.0" stroke="#767676" stroke-width="0.5"/>
<text x="317.40" y="327.22" font-size="5.9" text-anchor="end" fill="#262626" >0.5</text>
<path d="M319.40 336.93h1.0M412.50 336.93h-1.0" stroke="#767676" stroke-width="0.5"/>
<text x="317.40" y="339.06" font-size="5.9" text-anchor="end" fill="#262626" >0</text>
<path d="M319.40 348.77h1.0M412.50 348.77h-1.0" stroke="#767676" stroke-width="0.5"/>
<text x="317.40" y="350.89" font-size="5.9" text-anchor="end" fill="#262626" >-0.5</text>
<path d="M319.40 360.60h1.0M412.50 360.60h-1.0" stroke="#767676" stroke-width="0.5"/>
<text x="317.40" y="362.72" font-size="5.9" text-anchor="end" fill="#262626" >-1</text>
<path d="M338.02 361.30v-1.0M338.02 314.20v1.0" stroke="#767676" stroke-width="0.5"/>
<text x="338.02" y="369.62" font-size="5.9" text-anchor="middle" fill="#262626" >2000</text>
<path d="M356.64 361.30v-1.0M356.64 314.20v1.0" stroke="#767676" stroke-width="0.5"/>
<text x="356.64" y="369.62" font-size="5.9" text-anchor="middle" fill="#262626" >4000</text>
<path d="M375.26 361.30v-1.0M375.26 314.20v1.0" stroke="#767676" stroke-width="0.5"/>
<text x="375.26" y="369.62" font-size="5.9" text-anchor="middle" fill="#262626" >6000</text>
<path d="M393.88 361.30v-1.0M393.88 314.20v1.0" stroke="#767676" stroke-width="0.5"/>
<text x="393.88" y="369.62" font-size="5.9" text-anchor="middle" fill="#262626" >8000</text>
<path d="M412.50 361.30v-1.0M412.50 314.20v1.0" stroke="#767676" stroke-width="0.5"/>
<text x="412.50" y="369.62" font-size="5.9" text-anchor="middle" fill="#262626" >10000</text>
<clipPath id="c10"><rect x="446.20" y="314.50" width="93.20" height="46.80"/></clipPath>
<g clip-path="url(#c10)">
<path d="M451.80 313.50V362.30M469.00 313.50V362.30M485.10 316.70V360.30M500.60 313.50V362.30M517.00 313.50V362.30M533.60 313.50V362.30" stroke="#38a0e2" stroke-width="1.1" fill="none"/>
<path d="M451.80 329.81V344.45M469.00 329.81V344.45M485.10 330.77V343.85M500.60 329.81V344.45M517.00 329.81V344.45M533.60 329.81V344.45" stroke="#1b82d0" stroke-width="1.1" fill="none"/>
<path d="M450.10 336.80V333.56M450.90 336.80V341.81M456.10 336.80V338.38M457.30 336.80V331.76M458.10 336.80V340.04M458.50 336.80V335.14M462.50 336.80V338.89M470.50 336.80V340.56M471.70 336.80V338.74M472.90 336.80V338.20M474.10 336.80V341.62M474.50 336.80V341.44M474.90 336.80V341.66M477.70 336.80V338.56M478.50 336.80V338.27M480.10 336.80V338.35M485.70 336.80V329.92M486.50 336.80V333.93M487.70 336.80V335.48M488.10 336.80V335.27M488.90 336.80V335.28M490.10 336.80V333.94M490.50 336.80V332.96M493.30 336.80V338.26M493.70 336.80V335.06M494.50 336.80V335.18M495.70 336.80V335.03M497.30 336.80V338.99M498.10 336.80V335.46M502.10 336.80V333.93M502.50 336.80V334.90M503.30 336.80V334.95M510.50 336.80V335.20M511.70 336.80V338.13M515.30 336.80V332.95M523.70 336.80V334.94M525.70 336.80V338.35M526.50 336.80V335.02M526.90 336.80V338.64M527.30 336.80V338.37M528.50 336.80V338.24M530.10 336.80V338.12M534.90 336.80V333.48M536.90 336.80V334.78M537.30 336.80V334.75M538.50 336.80V332.53" stroke="#3ea2e0" stroke-width="0.45" fill="none"/>
<path d="M446.50 335.65V337.85M446.90 335.89V338.11M447.30 335.60V337.68M447.70 335.81V337.73M448.10 335.37V337.60M448.50 335.63V337.82M448.90 335.58V337.87M449.30 335.59V337.66M449.70 335.38V338.21M450.10 335.58V337.98M450.50 334.55V339.83M450.90 333.49V339.89M451.30 333.63V340.13M451.70 333.36V341.55M452.10 332.01V341.26M452.50 333.95V340.55M452.90 333.80V338.97M453.30 335.24V338.45M453.70 335.16V338.04M454.10 335.87V337.75M454.50 335.91V337.65M454.90 335.92V338.00M455.30 335.52V337.89M455.70 335.74V337.57M456.10 335.81V337.78M456.50 335.77V338.14M456.90 334.89V339.09M457.30 333.34V340.43M457.70 333.58V340.06M458.10 334.49V339.05M458.50 335.76V337.59M458.90 335.97V337.64M459.30 335.37V337.89M459.70 335.74V337.90M460.10 335.55V338.16M460.50 335.75V338.00M460.90 335.93V337.73M461.30 335.58V337.99M461.70 335.48V337.89M462.10 335.39V337.86M462.50 335.56V338.16M462.90 335.39V338.22M463.30 335.59V337.66M463.70 335.42V337.70M464.10 335.98V337.70M464.50 335.97V338.23M464.90 335.72V338.06M465.30 335.69V337.85M465.70 335.66V337.75M466.10 335.62V337.98M466.50 335.63V338.15M466.90 335.60V337.62M467.30 335.54V338.03M467.70 334.42V339.63M468.10 334.00V340.39M468.50 332.79V340.22M468.90 332.49V342.20M469.30 332.57V341.11M469.70 332.79V340.88M470.10 334.13V340.13M470.50 334.13V339.14M470.90 335.88V337.96M471.30 335.54V337.97M471.70 335.91V337.68M472.10 335.88V338.06M472.50 335.90V337.95M472.90 335.39V338.14M473.30 335.65V337.92M473.70 334.52V339.31M474.10 334.52V340.29M474.50 333.32V340.74M474.90 333.69V340.11M475.30 335.54V338.10M475.70 335.80V337.67M476.10 335.56V337.97M476.50 335.38V337.69M476.90 335.49V337.80M477.30 335.73V337.70M477.70 335.93V338.19M478.10 335.39V338.09M478.50 335.78V337.60M478.90 336.00V337.69M479.30 335.79V337.69M479.70 336.00V337.96M480.10 335.80V337.70M480.50 335.72V338.08M480.90 335.92V338.15M481.30 335.75V337.91M481.70 335.77V337.63M482.10 335.95V337.64M482.50 335.82V337.76M482.90 335.44V337.80M483.30 335.21V338.38M483.70 335.20V338.59M484.10 333.42V339.09M484.50 333.06V340.77M484.90 333.01V340.97M485.30 333.09V342.36M485.70 333.97V341.30M486.10 333.02V340.24M486.50 334.38V339.71M486.90 335.03V338.06M487.30 335.62V337.96M487.70 335.67V337.59M488.10 335.52V338.22M488.50 335.74V338.01M488.90 335.43V337.93M489.30 335.81V337.59M489.70 335.71V338.04M490.10 335.34V338.49M490.50 334.46V339.98M490.90 332.63V341.19M491.30 334.13V339.56M491.70 335.47V338.20M492.10 335.61V337.97M492.50 335.68V337.71M492.90 335.57V337.85M493.30 335.78V338.01M493.70 335.91V337.98M494.10 335.44V338.11M494.50 335.81V338.01M494.90 335.72V337.75M495.30 335.69V338.00M495.70 335.40V337.94M496.10 335.41V337.66M496.50 335.59V338.21M496.90 335.78V338.08M497.30 335.43V338.05M497.70 335.74V338.01M498.10 335.42V338.05M498.50 335.73V337.78M498.90 334.86V338.38M499.30 334.80V339.91M499.70 334.25V339.79M500.10 332.58V341.23M500.50 332.37V342.87M500.90 332.34V341.83M501.30 333.00V339.60M501.70 334.04V340.23M502.10 335.34V338.47M502.50 335.64V338.16M502.90 336.03V338.01M503.30 335.52V338.15M503.70 335.45V337.65M504.10 335.75V337.63M504.50 335.45V337.62M504.90 335.76V337.78M505.30 334.17V339.46M505.70 334.01V341.50M506.10 333.01V340.52M506.50 335.39V339.36M506.90 335.56V338.03M507.30 335.60V337.87M507.70 334.83V338.73M508.10 333.20V340.70M508.50 334.15V340.61M508.90 333.77V339.05M509.30 335.52V337.91M509.70 336.01V337.94M510.10 336.01V337.68M510.50 335.83V338.08M510.90 335.87V337.58M511.30 335.73V337.80M511.70 335.58V337.74M512.10 335.59V337.73M512.50 335.39V337.88M512.90 335.80V337.93M513.30 335.57V337.96M513.70 335.99V337.89M514.10 334.73V339.37M514.50 334.26V340.39M514.90 333.75V339.60M515.30 334.42V339.36M515.70 334.38V339.09M516.10 333.02V339.44M516.50 331.98V340.77M516.90 331.90V342.75M517.30 331.17V341.81M517.70 332.13V340.83M518.10 333.72V339.07M518.50 334.49V338.48M518.90 335.72V338.03M519.30 335.57V338.12M519.70 335.56V338.07M520.10 335.50V338.00M520.50 335.55V337.92M520.90 335.91V338.05M521.30 335.67V337.97M521.70 335.51V338.03M522.10 334.04V338.83M522.50 332.59V340.39M522.90 334.05V340.84M523.30 334.68V339.07M523.70 335.69V337.63M524.10 335.85V338.03M524.50 335.68V338.11M524.90 335.44V337.99M525.30 335.49V338.03M525.70 335.53V337.87M526.10 336.01V337.96M526.50 335.72V337.61M526.90 335.93V338.14M527.30 335.44V338.01M527.70 335.76V337.92M528.10 335.65V337.81M528.50 335.72V337.79M528.90 335.84V337.80M529.30 335.96V337.74M529.70 335.72V337.84M530.10 335.93V337.94M530.50 335.53V337.81M530.90 335.92V338.16M531.30 335.59V337.60M531.70 335.76V338.12M532.10 335.28V338.61M532.50 333.53V339.31M532.90 334.12V340.73M533.30 331.52V341.56M533.70 332.77V342.36M534.10 332.64V340.23M534.50 334.45V340.02M534.90 334.59V339.39M535.30 334.79V338.51M535.70 335.78V338.16M536.10 335.72V337.69M536.50 335.51V337.83M536.90 335.85V337.79M537.30 335.91V338.02M537.70 335.66V337.99M538.10 335.90V338.16M538.50 334.28V338.61M538.90 334.29V340.79" stroke="#0c74ca" stroke-width="0.6" fill="none"/>
</g>
<rect x="446.20" y="314.50" width="93.20" height="46.80" fill="none" stroke="#767676" stroke-width="0.5"/>
<path d="M446.20 325.40h1.0M539.40 325.40h-1.0" stroke="#767676" stroke-width="0.5"/>
<text x="444.20" y="327.52" font-size="5.9" text-anchor="end" fill="#262626" >0.5</text>
<path d="M446.20 337.23h1.0M539.40 337.23h-1.0" stroke="#767676" stroke-width="0.5"/>
<text x="444.20" y="339.36" font-size="5.9" text-anchor="end" fill="#262626" >0</text>
<path d="M446.20 349.07h1.0M539.40 349.07h-1.0" stroke="#767676" stroke-width="0.5"/>
<text x="444.20" y="351.19" font-size="5.9" text-anchor="end" fill="#262626" >-0.5</text>
<path d="M446.20 360.90h1.0M539.40 360.90h-1.0" stroke="#767676" stroke-width="0.5"/>
<text x="444.20" y="363.02" font-size="5.9" text-anchor="end" fill="#262626" >-1</text>
<path d="M464.84 361.30v-1.0M464.84 314.50v1.0" stroke="#767676" stroke-width="0.5"/>
<text x="464.84" y="369.62" font-size="5.9" text-anchor="middle" fill="#262626" >2000</text>
<path d="M483.48 361.30v-1.0M483.48 314.50v1.0" stroke="#767676" stroke-width="0.5"/>
<text x="483.48" y="369.62" font-size="5.9" text-anchor="middle" fill="#262626" >4000</text>
<path d="M502.12 361.30v-1.0M502.12 314.50v1.0" stroke="#767676" stroke-width="0.5"/>
<text x="502.12" y="369.62" font-size="5.9" text-anchor="middle" fill="#262626" >6000</text>
<path d="M520.76 361.30v-1.0M520.76 314.50v1.0" stroke="#767676" stroke-width="0.5"/>
<text x="520.76" y="369.62" font-size="5.9" text-anchor="middle" fill="#262626" >8000</text>
<path d="M539.40 361.30v-1.0M539.40 314.50v1.0" stroke="#767676" stroke-width="0.5"/>
<text x="539.40" y="369.62" font-size="5.9" text-anchor="middle" fill="#262626" >10000</text>
<clipPath id="c11"><rect x="319.40" y="379.20" width="93.10" height="47.10"/></clipPath>
<g clip-path="url(#c11)">
<path d="M328.90 381.20V426.00M343.50 380.80V425.30M360.40 378.20V427.30M377.80 380.60V423.60M394.40 378.20V427.30M411.60 378.20V427.30" stroke="#38a0e2" stroke-width="1.1" fill="none"/>
<path d="M328.90 395.97V409.41M343.50 395.85V409.20M360.40 395.07V409.80M377.80 395.79V408.69M394.40 395.07V409.80M411.60 395.07V409.80" stroke="#1b82d0" stroke-width="1.1" fill="none"/>
<path d="M322.10 402.30V403.62M324.90 402.30V400.39M326.90 402.30V403.79M328.50 402.30V395.56M330.10 402.30V397.05M330.90 402.30V400.59M332.10 402.30V404.38M334.90 402.30V407.08M335.70 402.30V399.72M337.30 402.30V400.97M341.30 402.30V404.07M345.30 402.30V404.42M346.10 402.30V403.93M349.30 402.30V398.42M351.30 402.30V400.98M352.90 402.30V404.41M356.50 402.30V403.88M356.90 402.30V400.34M357.70 402.30V403.95M358.50 402.30V403.96M370.50 402.30V403.84M371.30 402.30V403.94M371.70 402.30V400.96M372.50 402.30V403.70M372.90 402.30V403.63M374.90 402.30V403.68M380.90 402.30V404.04M381.30 402.30V400.90M383.70 402.30V407.36M385.70 402.30V403.67M388.90 402.30V400.64M392.10 402.30V403.73M392.50 402.30V400.73M392.90 402.30V399.17M394.50 402.30V410.78M396.50 402.30V400.26M398.50 402.30V403.81M401.30 402.30V403.99M403.30 402.30V403.98M408.90 402.30V400.90M409.30 402.30V400.83M409.70 402.30V400.73M410.10 402.30V399.77M410.90 402.30V397.55" stroke="#3ea2e0" stroke-width="0.45" fill="none"/>
<path d="M319.70 401.23V403.44M320.10 401.22V403.41M320.50 401.41V403.41M320.90 401.01V403.13M321.30 401.47V403.60M321.70 401.50V403.72M322.10 401.10V403.48M322.50 401.49V403.20M322.90 401.51V403.38M323.30 400.97V403.41M323.70 401.20V403.51M324.10 401.35V403.73M324.50 400.98V403.54M324.90 401.38V403.26M325.30 400.97V403.33M325.70 400.97V403.07M326.10 400.93V403.38M326.50 401.27V403.12M326.90 401.02V403.25M327.30 400.14V403.74M327.70 400.29V404.24M328.10 399.55V405.83M328.50 398.90V407.06M328.90 397.59V406.40M329.30 396.94V407.24M329.70 398.10V405.12M330.10 399.10V405.16M330.50 400.70V404.48M330.90 401.33V403.12M331.30 401.13V403.32M331.70 400.90V403.39M332.10 400.96V403.19M332.50 401.37V403.20M332.90 400.91V403.20M333.30 400.95V403.47M333.70 401.46V403.10M334.10 401.13V403.86M334.50 399.25V405.00M334.90 399.31V406.50M335.30 398.51V405.64M335.70 399.84V403.92M336.10 401.49V403.19M336.50 401.15V403.16M336.90 400.94V403.72M337.30 401.07V403.46M337.70 400.93V403.53M338.10 401.52V403.49M338.50 401.05V403.28M338.90 401.48V403.43M339.30 400.94V403.56M339.70 401.01V403.67M340.10 401.08V403.66M340.50 401.25V403.59M340.90 401.15V403.48M341.30 401.15V403.47M341.70 400.48V403.99M342.10 399.73V404.66M342.50 398.66V404.57M342.90 399.58V406.33M343.30 398.47V407.41M343.70 397.42V408.02M344.10 399.62V405.64M344.50 399.81V404.73M344.90 399.83V404.48M345.30 400.97V403.93M345.70 400.93V403.65M346.10 401.15V403.28M346.50 400.97V403.54M346.90 401.35V403.18M347.30 401.35V403.21M347.70 401.12V403.40M348.10 400.63V404.09M348.50 400.40V404.13M348.90 399.61V406.47M349.30 399.53V405.98M349.70 400.89V404.66M350.10 401.44V403.10M350.50 401.24V403.49M350.90 401.00V403.70M351.30 401.40V403.38M351.70 401.06V403.19M352.10 401.30V403.53M352.50 401.12V403.57M352.90 401.01V403.67M353.30 401.44V403.37M353.70 400.93V403.32M354.10 400.95V403.60M354.50 401.22V403.50M354.90 401.05V403.61M355.30 401.06V403.21M355.70 400.88V403.72M356.10 401.01V403.28M356.50 400.97V403.30M356.90 401.02V403.39M357.30 401.00V403.18M357.70 401.01V403.16M358.10 400.98V403.52M358.50 401.01V403.94M358.90 400.50V404.65M359.30 399.43V405.72M359.70 399.10V405.65M360.10 396.88V405.91M360.50 396.21V407.13M360.90 399.03V406.37M361.30 398.88V404.61M361.70 399.83V404.60M362.10 400.56V403.97M362.50 401.49V403.43M362.90 400.90V403.68M363.30 401.22V403.15M363.70 400.99V403.66M364.10 401.32V403.20M364.50 400.92V403.16M364.90 400.69V404.15M365.30 398.50V405.35M365.70 398.63V404.91M366.10 400.55V404.57M366.50 401.40V403.42M366.90 401.28V403.34M367.30 401.42V403.20M367.70 401.11V403.42M368.10 401.13V403.64M368.50 401.04V403.60M368.90 401.32V403.28M369.30 401.39V403.73M369.70 401.44V403.23M370.10 401.36V403.13M370.50 401.25V403.59M370.90 401.52V403.20M371.30 400.93V403.71M371.70 401.20V403.52M372.10 401.51V403.43M372.50 401.15V403.17M372.90 400.88V403.68M373.30 401.23V403.57M373.70 401.22V403.41M374.10 401.13V403.08M374.50 400.97V403.19M374.90 401.04V403.34M375.30 401.52V403.66M375.70 401.06V403.64M376.10 400.72V404.08M376.50 399.14V405.20M376.90 398.29V405.99M377.30 397.56V406.06M377.70 396.46V407.61M378.10 397.23V406.43M378.50 399.63V405.56M378.90 400.30V404.89M379.30 400.08V404.03M379.70 400.88V403.47M380.10 401.15V403.42M380.50 400.87V403.49M380.90 401.03V403.72M381.30 401.36V403.34M381.70 401.47V403.24M382.10 401.17V403.41M382.50 401.16V403.73M382.90 399.62V403.99M383.30 398.35V404.79M383.70 399.58V405.66M384.10 400.64V405.16M384.50 401.18V403.46M384.90 401.34V403.50M385.30 401.34V403.54M385.70 401.52V403.23M386.10 401.27V403.66M386.50 401.50V403.72M386.90 401.48V403.67M387.30 401.21V403.71M387.70 401.18V403.69M388.10 401.22V403.72M388.50 401.13V403.15M388.90 401.23V403.20M389.30 401.24V403.51M389.70 401.36V403.45M390.10 401.02V403.42M390.50 400.90V403.55M390.90 401.45V403.66M391.30 401.12V403.31M391.70 401.08V403.44M392.10 401.11V403.57M392.50 400.69V403.89M392.90 400.33V404.52M393.30 400.17V405.43M393.70 398.41V405.63M394.10 398.69V406.26M394.50 396.58V405.84M394.90 397.67V405.60M395.30 399.55V406.12M395.70 399.63V405.47M396.10 400.57V404.23M396.50 401.25V403.31M396.90 401.48V403.44M397.30 401.08V403.27M397.70 401.48V403.21M398.10 401.48V403.27M398.50 401.07V403.26M398.90 401.29V403.15M399.30 400.85V404.04M399.70 399.12V404.76M400.10 399.02V405.60M400.50 398.35V406.17M400.90 400.49V404.11M401.30 401.27V403.33M401.70 401.17V403.62M402.10 401.41V403.57M402.50 401.34V403.08M402.90 401.17V403.44M403.30 401.10V403.60M403.70 401.47V403.12M404.10 400.94V403.13M404.50 401.44V403.56M404.90 401.37V403.22M405.30 401.19V403.57M405.70 401.31V403.71M406.10 401.20V403.42M406.50 401.06V403.67M406.90 400.98V403.51M407.30 401.00V403.62M407.70 400.90V403.49M408.10 401.06V403.60M408.50 401.25V403.17M408.90 400.88V403.32M409.30 401.34V403.71M409.70 400.89V403.81M410.10 400.13V404.87M410.50 399.95V404.68M410.90 398.49V405.31M411.30 397.25V406.18M411.70 396.64V407.00M412.10 397.39V407.28" stroke="#0c74ca" stroke-width="0.6" fill="none"/>
</g>
<rect x="319.40" y="379.20" width="93.10" height="47.10" fill="none" stroke="#767676" stroke-width="0.5"/>
<path d="M319.40 390.70h1.0M412.50 390.70h-1.0" stroke="#767676" stroke-width="0.5"/>
<text x="317.40" y="392.82" font-size="5.9" text-anchor="end" fill="#262626" >0.5</text>
<path d="M319.40 402.33h1.0M412.50 402.33h-1.0" stroke="#767676" stroke-width="0.5"/>
<text x="317.40" y="404.46" font-size="5.9" text-anchor="end" fill="#262626" >0</text>
<path d="M319.40 413.97h1.0M412.50 413.97h-1.0" stroke="#767676" stroke-width="0.5"/>
<text x="317.40" y="416.09" font-size="5.9" text-anchor="end" fill="#262626" >-0.5</text>
<path d="M319.40 425.60h1.0M412.50 425.60h-1.0" stroke="#767676" stroke-width="0.5"/>
<text x="317.40" y="427.72" font-size="5.9" text-anchor="end" fill="#262626" >-1</text>
<path d="M338.02 426.30v-1.0M338.02 379.20v1.0" stroke="#767676" stroke-width="0.5"/>
<text x="338.02" y="434.62" font-size="5.9" text-anchor="middle" fill="#262626" >2000</text>
<path d="M356.64 426.30v-1.0M356.64 379.20v1.0" stroke="#767676" stroke-width="0.5"/>
<text x="356.64" y="434.62" font-size="5.9" text-anchor="middle" fill="#262626" >4000</text>
<path d="M375.26 426.30v-1.0M375.26 379.20v1.0" stroke="#767676" stroke-width="0.5"/>
<text x="375.26" y="434.62" font-size="5.9" text-anchor="middle" fill="#262626" >6000</text>
<path d="M393.88 426.30v-1.0M393.88 379.20v1.0" stroke="#767676" stroke-width="0.5"/>
<text x="393.88" y="434.62" font-size="5.9" text-anchor="middle" fill="#262626" >8000</text>
<path d="M412.50 426.30v-1.0M412.50 379.20v1.0" stroke="#767676" stroke-width="0.5"/>
<text x="412.50" y="434.62" font-size="5.9" text-anchor="middle" fill="#262626" >10000</text>
<clipPath id="c12"><rect x="446.20" y="379.50" width="93.20" height="46.80"/></clipPath>
<g clip-path="url(#c12)">
<path d="M462.90 378.50V427.30M479.30 382.30V422.40M494.80 378.50V427.30M511.60 378.50V427.30M528.50 378.50V427.30" stroke="#38a0e2" stroke-width="1.1" fill="none"/>
<path d="M462.90 394.95V409.59M479.30 396.09V408.12M494.80 394.95V409.59M511.60 394.95V409.59M528.50 394.95V409.59" stroke="#1b82d0" stroke-width="1.1" fill="none"/>
<path d="M448.10 402.00V399.92M450.90 402.00V406.30M451.70 402.00V403.86M454.50 402.00V400.32M455.30 402.00V400.41M456.10 402.00V399.90M457.30 402.00V403.33M468.10 402.00V398.67M473.30 402.00V403.41M476.50 402.00V400.60M476.90 402.00V403.99M478.50 402.00V397.72M478.90 402.00V396.72M479.30 402.00V410.19M482.90 402.00V400.66M483.30 402.00V403.82M485.30 402.00V405.57M486.50 402.00V400.58M487.70 402.00V403.75M493.70 402.00V397.94M494.10 402.00V407.79M498.50 402.00V400.64M500.50 402.00V409.03M501.30 402.00V398.87M502.50 402.00V404.10M503.70 402.00V403.95M505.70 402.00V403.33M506.10 402.00V404.16M508.50 402.00V400.25M513.70 402.00V400.65M515.30 402.00V400.40M518.90 402.00V403.34M520.90 402.00V403.44M521.70 402.00V400.60M522.10 402.00V399.92M523.30 402.00V400.62M523.70 402.00V403.49M524.90 402.00V403.72M526.90 402.00V399.72M528.50 402.00V409.12M529.30 402.00V395.68M530.10 402.00V404.31M532.50 402.00V404.18M533.70 402.00V405.11M534.10 402.00V397.32M534.50 402.00V397.50M534.90 402.00V405.36M535.30 402.00V400.44M535.70 402.00V405.33M538.90 402.00V403.39" stroke="#3ea2e0" stroke-width="0.45" fill="none"/>
<path d="M446.50 400.92V403.20M446.90 401.14V402.78M447.30 401.05V403.30M447.70 400.83V403.14M448.10 401.13V403.06M448.50 400.69V402.82M448.90 401.01V403.04M449.30 401.22V402.81M449.70 400.89V402.83M450.10 399.13V403.73M450.50 399.33V405.04M450.90 399.27V405.82M451.30 399.87V404.15M451.70 400.92V403.02M452.10 400.59V403.21M452.50 400.99V403.23M452.90 401.15V402.93M453.30 400.89V403.30M453.70 401.21V403.31M454.10 400.89V402.92M454.50 400.97V403.28M454.90 400.77V402.79M455.30 401.00V403.19M455.70 401.04V403.08M456.10 400.91V403.40M456.50 401.11V403.26M456.90 401.23V402.95M457.30 401.00V402.93M457.70 400.58V403.43M458.10 401.21V402.98M458.50 400.68V403.19M458.90 400.88V403.09M459.30 401.06V403.39M459.70 401.12V402.96M460.10 401.05V403.39M460.50 400.77V403.24M460.90 401.04V402.94M461.30 399.91V403.46M461.70 399.49V404.23M462.10 397.61V405.53M462.50 396.77V407.34M462.90 397.29V407.21M463.30 397.09V406.38M463.70 398.86V405.89M464.10 400.12V404.97M464.50 399.80V404.32M464.90 400.88V403.29M465.30 401.17V403.00M465.70 400.61V403.22M466.10 400.82V402.85M466.50 400.77V403.03M466.90 400.96V402.98M467.30 401.14V402.83M467.70 400.77V403.27M468.10 399.15V404.08M468.50 399.24V405.76M468.90 399.12V405.07M469.30 400.41V404.07M469.70 401.10V403.06M470.10 400.62V403.10M470.50 401.12V403.08M470.90 400.67V402.93M471.30 400.67V403.32M471.70 400.87V403.27M472.10 400.79V403.21M472.50 400.86V403.22M472.90 400.75V402.98M473.30 400.99V402.97M473.70 401.06V402.80M474.10 401.04V403.39M474.50 400.97V403.35M474.90 401.02V402.85M475.30 400.67V403.17M475.70 400.96V403.18M476.10 400.96V403.02M476.50 400.97V403.30M476.90 400.59V403.12M477.30 400.69V403.01M477.70 400.35V403.46M478.10 398.83V404.18M478.50 399.56V405.02M478.90 397.28V405.67M479.30 395.97V407.27M479.70 397.95V406.25M480.10 397.97V405.42M480.50 399.41V404.85M480.90 400.23V403.89M481.30 401.05V403.38M481.70 400.67V403.23M482.10 400.78V403.05M482.50 400.83V403.27M482.90 401.14V402.81M483.30 401.22V402.93M483.70 400.59V403.40M484.10 399.13V403.62M484.50 397.71V405.37M484.90 398.05V405.26M485.30 399.99V403.91M485.70 400.58V403.28M486.10 400.99V402.97M486.50 400.83V403.21M486.90 400.75V403.32M487.30 401.01V403.02M487.70 400.58V403.09M488.10 400.99V402.92M488.50 400.83V402.85M488.90 400.60V403.26M489.30 400.95V402.84M489.70 400.81V402.88M490.10 400.84V403.15M490.50 401.03V403.00M490.90 401.01V403.10M491.30 401.12V403.03M491.70 401.02V403.01M492.10 400.61V402.97M492.50 400.80V403.03M492.90 400.59V402.96M493.30 400.43V403.75M493.70 398.34V405.13M494.10 397.66V405.03M494.50 397.39V406.32M494.90 397.36V408.00M495.30 398.10V405.65M495.70 398.30V404.71M496.10 399.22V404.45M496.50 400.21V403.89M496.90 401.03V402.79M497.30 400.71V403.03M497.70 400.63V402.87M498.10 400.95V402.98M498.50 400.96V402.80M498.90 401.13V402.85M499.30 400.98V403.09M499.70 400.25V403.09M500.10 398.90V405.18M500.50 398.23V405.41M500.90 398.77V405.68M501.30 399.99V404.45M501.70 400.68V403.32M502.10 400.94V402.78M502.50 400.99V403.03M502.90 400.86V403.33M503.30 400.87V403.13M503.70 400.98V403.36M504.10 400.82V403.42M504.50 400.96V403.30M504.90 400.88V403.28M505.30 400.66V403.20M505.70 401.04V402.82M506.10 401.14V403.17M506.50 401.11V403.32M506.90 400.58V402.92M507.30 400.79V402.96M507.70 400.77V403.27M508.10 400.73V402.96M508.50 400.94V402.88M508.90 401.17V403.09M509.30 401.02V403.14M509.70 400.68V403.67M510.10 400.19V404.52M510.50 398.42V404.08M510.90 397.46V405.95M511.30 398.40V405.38M511.70 398.48V405.83M512.10 397.25V406.42M512.50 398.24V405.10M512.90 399.82V403.79M513.30 399.94V403.84M513.70 401.10V402.91M514.10 400.64V403.39M514.50 400.79V403.08M514.90 400.76V403.42M515.30 400.78V403.16M515.70 401.13V402.90M516.10 401.11V403.18M516.50 399.83V403.87M516.90 399.27V404.66M517.30 396.89V406.99M517.70 398.90V404.23M518.10 400.66V403.50M518.50 401.12V402.92M518.90 400.91V403.36M519.30 400.83V403.23M519.70 401.13V403.42M520.10 400.63V402.87M520.50 400.87V402.93M520.90 401.06V402.82M521.30 400.65V403.21M521.70 401.20V403.32M522.10 400.66V402.89M522.50 400.75V402.86M522.90 401.09V403.06M523.30 400.68V403.12M523.70 400.71V403.37M524.10 401.13V402.82M524.50 400.64V402.94M524.90 401.15V403.20M525.30 400.65V403.06M525.70 400.96V403.40M526.10 400.57V402.84M526.50 400.77V403.35M526.90 399.83V403.84M527.30 399.79V405.33M527.70 397.85V406.26M528.10 397.33V406.57M528.50 398.26V408.10M528.90 397.21V407.00M529.30 399.00V405.88M529.70 399.53V404.34M530.10 400.50V403.46M530.50 400.58V402.77M530.90 401.00V402.97M531.30 401.16V403.05M531.70 401.19V402.86M532.10 400.76V403.42M532.50 400.74V402.92M532.90 400.75V402.86M533.30 400.58V403.05M533.70 398.73V404.74M534.10 398.62V405.66M534.50 399.01V404.54M534.90 400.55V403.94M535.30 400.76V403.40M535.70 400.75V404.04M536.10 398.33V404.09M536.50 396.89V406.67M536.90 398.91V404.81M537.30 400.24V403.73M537.70 400.82V403.16M538.10 400.72V402.99M538.50 401.08V403.09M538.90 400.75V402.82" stroke="#0c74ca" stroke-width="0.6" fill="none"/>
</g>
<rect x="446.20" y="379.50" width="93.20" height="46.80" fill="none" stroke="#767676" stroke-width="0.5"/>
<path d="M446.20 390.90h1.0M539.40 390.90h-1.0" stroke="#767676" stroke-width="0.5"/>
<text x="444.20" y="393.02" font-size="5.9" text-anchor="end" fill="#262626" >0.5</text>
<path d="M446.20 402.57h1.0M539.40 402.57h-1.0" stroke="#767676" stroke-width="0.5"/>
<text x="444.20" y="404.69" font-size="5.9" text-anchor="end" fill="#262626" >0</text>
<path d="M446.20 414.23h1.0M539.40 414.23h-1.0" stroke="#767676" stroke-width="0.5"/>
<text x="444.20" y="416.36" font-size="5.9" text-anchor="end" fill="#262626" >-0.5</text>
<path d="M446.20 425.90h1.0M539.40 425.90h-1.0" stroke="#767676" stroke-width="0.5"/>
<text x="444.20" y="428.02" font-size="5.9" text-anchor="end" fill="#262626" >-1</text>
<path d="M464.84 426.30v-1.0M464.84 379.50v1.0" stroke="#767676" stroke-width="0.5"/>
<text x="464.84" y="434.62" font-size="5.9" text-anchor="middle" fill="#262626" >2000</text>
<path d="M483.48 426.30v-1.0M483.48 379.50v1.0" stroke="#767676" stroke-width="0.5"/>
<text x="483.48" y="434.62" font-size="5.9" text-anchor="middle" fill="#262626" >4000</text>
<path d="M502.12 426.30v-1.0M502.12 379.50v1.0" stroke="#767676" stroke-width="0.5"/>
<text x="502.12" y="434.62" font-size="5.9" text-anchor="middle" fill="#262626" >6000</text>
<path d="M520.76 426.30v-1.0M520.76 379.50v1.0" stroke="#767676" stroke-width="0.5"/>
<text x="520.76" y="434.62" font-size="5.9" text-anchor="middle" fill="#262626" >8000</text>
<path d="M539.40 426.30v-1.0M539.40 379.50v1.0" stroke="#767676" stroke-width="0.5"/>
<text x="539.40" y="434.62" font-size="5.9" text-anchor="middle" fill="#262626" >10000</text>
</svg></body></html>
